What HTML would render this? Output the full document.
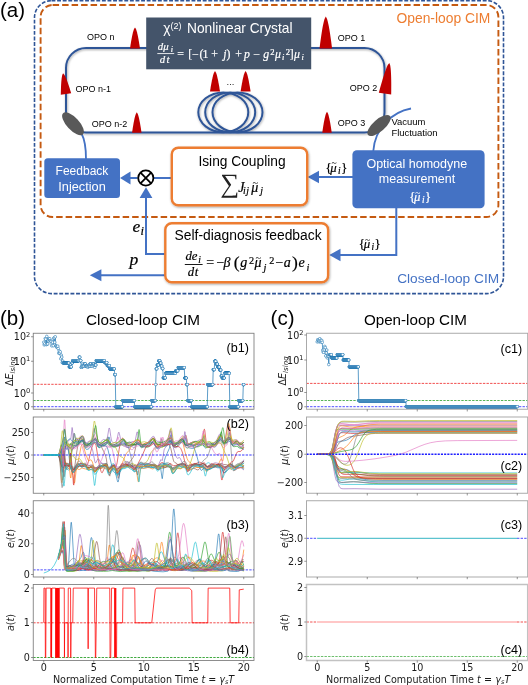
<!DOCTYPE html>
<html><head><meta charset="utf-8"><title>CIM figure</title>
<style>html,body{margin:0;padding:0;background:#fff}svg{display:block}</style></head>
<body>
<svg width="528" height="685" viewBox="0 0 528 685">
<rect width="528" height="685" fill="#fff"/>
<defs>
<filter id="sh" x="-10%" y="-10%" width="120%" height="130%"><feDropShadow dx="0.6" dy="1" stdDeviation="0.8" flood-color="#000" flood-opacity="0.35"/></filter>
<marker id="mk" markerWidth="4" markerHeight="4" refX="2" refY="2" markerUnits="userSpaceOnUse"><circle cx="2" cy="2" r="1.35" fill="#fff" stroke="#1f77b4" stroke-width="0.6"/></marker>
</defs>
<text x="0" y="16.8" font-family='"Liberation Sans", Arial, sans-serif' font-size="20.5">(a)</text>
<rect x="34.5" y="0.6" width="469" height="293" rx="17" fill="none" stroke="#2F5597" stroke-width="1.6" stroke-dasharray="3.9 1.7"/>
<rect x="40.6" y="5" width="457.8" height="212" rx="12" fill="none" stroke="#C55A11" stroke-width="1.9" stroke-dasharray="6.5 3"/>
<text x="396.5" y="22.6" font-family='"Liberation Sans", Arial, sans-serif' font-size="13.85" fill="#ED7D31">Open-loop CIM</text>
<text x="397.2" y="283" font-family='"Liberation Sans", Arial, sans-serif' font-size="13.7" fill="#4472C4">Closed-loop CIM</text>
<g filter="url(#sh)">
<rect x="66" y="48" width="318.5" height="84.5" rx="20" fill="none" stroke="#2F5597" stroke-width="2"/>
<ellipse cx="223.3" cy="112.3" rx="25" ry="19.9" fill="none" stroke="#2F5597" stroke-width="2"/>
<ellipse cx="230.2" cy="112.3" rx="25" ry="19.9" fill="none" stroke="#2F5597" stroke-width="2"/>
<ellipse cx="237.5" cy="112.3" rx="25" ry="19.9" fill="none" stroke="#2F5597" stroke-width="2"/>
</g>
<path d="M81.5 133.5 C85 140 86 148 86 159" fill="none" stroke="#4472C4" stroke-width="1.8"/>
<path d="M411 108.5 C392 112 375 128 373.3 151" fill="none" stroke="#4472C4" stroke-width="1.8"/>
<ellipse cx="73" cy="123.8" rx="14.5" ry="6.2" fill="#595959" transform="rotate(47 73 123.8)"/>
<ellipse cx="379" cy="125.5" rx="14.5" ry="6" fill="#595959" transform="rotate(-41 379 125.5)"/>
<path d="M-5 0 L-4.76 -1.62 L-4.51 -3.23 L-4.25 -4.85 L-3.98 -6.46 L-3.7 -8.08 L-3.41 -9.69 L-3.1 -11.31 L-2.76 -12.92 L-2.41 -14.54 L-2.01 -16.15 L-1.57 -17.77 L-1.02 -19.38 L0 -21 L1.02 -19.38 L1.57 -17.77 L2.01 -16.15 L2.41 -14.54 L2.76 -12.92 L3.1 -11.31 L3.41 -9.69 L3.7 -8.08 L3.98 -6.46 L4.25 -4.85 L4.51 -3.23 L4.76 -1.62 L5 0Z" fill="#C00000" transform="translate(135 48.5) rotate(0)"/>
<path d="M-6.25 0 L-5.95 -2.46 L-5.64 -4.92 L-5.31 -7.38 L-4.98 -9.85 L-4.63 -12.31 L-4.26 -14.77 L-3.87 -17.23 L-3.46 -19.69 L-3.01 -22.15 L-2.52 -24.62 L-1.96 -27.08 L-1.27 -29.54 L0 -32 L1.27 -29.54 L1.96 -27.08 L2.52 -24.62 L3.01 -22.15 L3.46 -19.69 L3.87 -17.23 L4.26 -14.77 L4.63 -12.31 L4.98 -9.85 L5.31 -7.38 L5.64 -4.92 L5.95 -2.46 L6.25 0Z" fill="#C00000" transform="translate(325.8 48.5) rotate(0)"/>
<path d="M-4.75 0 L-4.52 -1.58 L-4.28 -3.15 L-4.04 -4.73 L-3.78 -6.31 L-3.52 -7.88 L-3.24 -9.46 L-2.94 -11.04 L-2.63 -12.62 L-2.29 -14.19 L-1.91 -15.77 L-1.49 -17.35 L-0.97 -18.92 L0 -20.5 L0.97 -18.92 L1.49 -17.35 L1.91 -15.77 L2.29 -14.19 L2.63 -12.62 L2.94 -11.04 L3.24 -9.46 L3.52 -7.88 L3.78 -6.31 L4.04 -4.73 L4.28 -3.15 L4.52 -1.58 L4.75 0Z" fill="#C00000" transform="translate(136.8 132.8) rotate(0)"/>
<path d="M-4.75 0 L-4.52 -1.62 L-4.28 -3.23 L-4.04 -4.85 L-3.78 -6.46 L-3.52 -8.08 L-3.24 -9.69 L-2.94 -11.31 L-2.63 -12.92 L-2.29 -14.54 L-1.91 -16.15 L-1.49 -17.77 L-0.97 -19.38 L0 -21 L0.97 -19.38 L1.49 -17.77 L1.91 -16.15 L2.29 -14.54 L2.63 -12.92 L2.94 -11.31 L3.24 -9.69 L3.52 -8.08 L3.78 -6.46 L4.04 -4.85 L4.28 -3.23 L4.52 -1.62 L4.75 0Z" fill="#C00000" transform="translate(327 132.8) rotate(0)"/>
<path d="M-5 0 L-4.76 -1.58 L-4.51 -3.15 L-4.25 -4.73 L-3.98 -6.31 L-3.7 -7.88 L-3.41 -9.46 L-3.1 -11.04 L-2.76 -12.62 L-2.41 -14.19 L-2.01 -15.77 L-1.57 -17.35 L-1.02 -18.92 L0 -20.5 L1.02 -18.92 L1.57 -17.35 L2.01 -15.77 L2.41 -14.19 L2.76 -12.62 L3.1 -11.04 L3.41 -9.46 L3.7 -7.88 L3.98 -6.31 L4.25 -4.73 L4.51 -3.15 L4.76 -1.58 L5 0Z" fill="#C00000" transform="translate(215 91.6) rotate(0)"/>
<path d="M-5 0 L-4.76 -1.58 L-4.51 -3.15 L-4.25 -4.73 L-3.98 -6.31 L-3.7 -7.88 L-3.41 -9.46 L-3.1 -11.04 L-2.76 -12.62 L-2.41 -14.19 L-2.01 -15.77 L-1.57 -17.35 L-1.02 -18.92 L0 -20.5 L1.02 -18.92 L1.57 -17.35 L2.01 -15.77 L2.41 -14.19 L2.76 -12.62 L3.1 -11.04 L3.41 -9.46 L3.7 -7.88 L3.98 -6.31 L4.25 -4.73 L4.51 -3.15 L4.76 -1.58 L5 0Z" fill="#C00000" transform="translate(245.6 91.6) rotate(0)"/>
<path d="M-5.25 0 L-5 -1.62 L-4.73 -3.23 L-4.46 -4.85 L-4.18 -6.46 L-3.89 -8.08 L-3.58 -9.69 L-3.25 -11.31 L-2.9 -12.92 L-2.53 -14.54 L-2.12 -16.15 L-1.64 -17.77 L-1.07 -19.38 L0 -21 L1.07 -19.38 L1.64 -17.77 L2.12 -16.15 L2.53 -14.54 L2.9 -12.92 L3.25 -11.31 L3.58 -9.69 L3.89 -8.08 L4.18 -6.46 L4.46 -4.85 L4.73 -3.23 L5 -1.62 L5.25 0Z" fill="#C00000" transform="translate(66 94) rotate(-8)"/>
<path d="M-6.25 0 L-5.95 -2.38 L-5.64 -4.77 L-5.31 -7.15 L-4.98 -9.54 L-4.63 -11.92 L-4.26 -14.31 L-3.87 -16.69 L-3.46 -19.08 L-3.01 -21.46 L-2.52 -23.85 L-1.96 -26.23 L-1.27 -28.62 L0 -31 L1.27 -28.62 L1.96 -26.23 L2.52 -23.85 L3.01 -21.46 L3.46 -19.08 L3.87 -16.69 L4.26 -14.31 L4.63 -11.92 L4.98 -9.54 L5.31 -7.15 L5.64 -4.77 L5.95 -2.38 L6.25 0Z" fill="#C00000" transform="translate(385 93.6) rotate(8)"/>
<rect x="146.2" y="17.5" width="165" height="51.8" fill="#44546A"/>
<text x="87" y="39.6" font-family='"Liberation Sans", Arial, sans-serif' font-size="9">OPO n</text>
<text x="75.5" y="91.6" font-family='"Liberation Sans", Arial, sans-serif' font-size="9">OPO n-1</text>
<text x="91.8" y="127" font-family='"Liberation Sans", Arial, sans-serif' font-size="9">OPO n-2</text>
<text x="337.8" y="40.8" font-family='"Liberation Sans", Arial, sans-serif' font-size="9">OPO 1</text>
<text x="349.7" y="90.5" font-family='"Liberation Sans", Arial, sans-serif' font-size="9">OPO 2</text>
<text x="337.8" y="125.7" font-family='"Liberation Sans", Arial, sans-serif' font-size="9">OPO 3</text>
<text x="391.4" y="124.7" font-family='"Liberation Sans", Arial, sans-serif' font-size="9.45">Vacuum</text>
<text x="391.4" y="135.8" font-family='"Liberation Sans", Arial, sans-serif' font-size="9.45">Fluctuation</text>
<text x="226.6" y="84.6" font-family='"Liberation Sans", Arial, sans-serif' font-size="9.5" fill="#222">...</text>
<text x="163.3" y="33" font-family='"Liberation Sans", Arial, sans-serif' font-size="13.75" fill="#fff">χ<tspan font-size="9" dy="-3.6">(2)</tspan><tspan dy="3.6" x="187">Nonlinear Crystal</tspan></text>
<rect x="157.3" y="53.2" width="16.9" height="0.85" fill="#fff"/>
<text font-family='"Liberation Serif", "DejaVu Serif", serif' fill="#fff" stroke="#fff" stroke-width="0.2"><tspan x="157.7" y="49.8" font-size="10.8" font-style="italic">d</tspan><tspan x="163.3" y="49.8" font-size="10.8" font-style="italic">μ</tspan><tspan x="170.7" y="51.6" font-size="8.2" font-style="italic">i</tspan><tspan x="159.8" y="63.2" font-size="10.8" font-style="italic">d</tspan><tspan x="166.6" y="63.2" font-size="10.8" font-style="italic">t</tspan><tspan x="177.2" y="57.8" font-size="11.8">=</tspan><tspan x="188.3" y="57.8" font-size="11.8">[</tspan><tspan x="192" y="57.8" font-size="11.8">−</tspan><tspan x="199.4" y="57.8" font-size="11.8">(</tspan><tspan x="202.6" y="57.8" font-size="11.8">1</tspan><tspan x="211.2" y="57.8" font-size="11.8">+</tspan><tspan x="223.2" y="57.8" font-size="11.8" font-style="italic">j</tspan><tspan x="226.6" y="57.8" font-size="11.8">)</tspan><tspan x="235.3" y="57.8" font-size="11.8">+</tspan><tspan x="244" y="57.8" font-size="11.8" font-style="italic">p</tspan><tspan x="253.2" y="57.8" font-size="11.8">−</tspan><tspan x="263.2" y="57.8" font-size="11.8" font-style="italic">g</tspan><tspan x="270.2" y="55.4" font-size="8.6">2</tspan><tspan x="275" y="57.8" font-size="11.8" font-style="italic">μ</tspan><tspan x="282" y="60" font-size="8.4" font-style="italic">i</tspan><tspan x="285.8" y="55.4" font-size="8.6">2</tspan><tspan x="289.8" y="57.8" font-size="11.8">]</tspan><tspan x="293.9" y="57.8" font-size="11.8" font-style="italic">μ</tspan><tspan x="301.4" y="60" font-size="8.4" font-style="italic">i</tspan></text>
<rect x="44.3" y="158.3" width="75.7" height="39.7" rx="3.5" fill="#4472C4"/>
<text x="82" y="174.6" text-anchor="middle" font-family='"Liberation Sans", Arial, sans-serif' font-size="12.3" fill="#fff" textLength="52.8" lengthAdjust="spacingAndGlyphs">Feedback</text>
<text x="82" y="190.6" text-anchor="middle" font-family='"Liberation Sans", Arial, sans-serif' font-size="12.3" fill="#fff" textLength="47.5" lengthAdjust="spacingAndGlyphs">Injection</text>
<g stroke="#4472C4" stroke-width="2" fill="none">
<path d="M129 178 H137.5"/><path d="M154 178 H171"/>
<path d="M318 177 H353"/>
<path d="M396.3 208 V255 H339"/>
<path d="M165.5 254 H146 V197"/>
<path d="M165.5 275.3 H100"/>
</g>
<g fill="#4472C4">
<path d="M120 178 L130.5 171.6 V184.4 Z"/>
<path d="M307.6 177 L319 170.8 V183.2 Z"/>
<path d="M329.3 255 L340.5 248.8 V261.2 Z"/>
<path d="M146 187.3 L152.4 198 H139.6 Z"/>
<path d="M89.8 275.3 L101.4 269.3 V281.3 Z"/>
</g>
<circle cx="145.8" cy="178" r="7.6" fill="#fff" stroke="#000" stroke-width="1.8"/>
<path d="M140.5 172.7 L151.1 183.3 M151.1 172.7 L140.5 183.3" stroke="#000" stroke-width="1.8"/>
<rect x="171.8" y="147.8" width="135.4" height="57.4" rx="6.5" fill="#fff" stroke="#ED7D31" stroke-width="2.4" filter="url(#sh)"/>
<text x="242" y="165.8" text-anchor="middle" font-family='"Liberation Sans", Arial, sans-serif' font-size="13.75">Ising Coupling</text>
<text x="220.3" y="191.8" font-family='"Liberation Serif", "DejaVu Serif", serif' font-size="26.6" fill="#222">∑</text>
<text font-family='"Liberation Serif", "DejaVu Serif", serif' fill="#000" stroke="#000" stroke-width="0.2"><tspan x="238.3" y="191.5" font-size="14" font-style="italic">J</tspan><tspan x="243" y="194" font-size="9.8" font-style="italic">i</tspan><tspan x="246.3" y="194" font-size="9.8" font-style="italic">j</tspan><tspan x="251.2" y="191.5" font-size="14" font-style="italic">μ</tspan><tspan x="260.2" y="194.2" font-size="9.8" font-style="italic">j</tspan></text>
<text x="252.4" y="185.6" font-family='"Liberation Serif", "DejaVu Serif", serif' font-size="10.5" fill="#000">~</text>
<rect x="352.4" y="150.2" width="132.2" height="58" rx="4.5" fill="#4472C4"/>
<text x="416.8" y="167.7" text-anchor="middle" font-family='"Liberation Sans", Arial, sans-serif' font-size="12.5" fill="#fff">Optical homodyne</text>
<text x="417" y="183.3" text-anchor="middle" font-family='"Liberation Sans", Arial, sans-serif' font-size="12.5" fill="#fff">measurement</text>
<text font-family='"Liberation Serif", "DejaVu Serif", serif' fill="#fff" stroke="#fff" stroke-width="0.2"><tspan x="409.2" y="201.2" font-size="12.8">{</tspan><tspan x="414.09999999999997" y="201.2" font-size="12.8" font-style="italic">μ</tspan><tspan x="421.9" y="203.39999999999998" font-size="9.4" font-style="italic">i</tspan><tspan x="425.0" y="201.2" font-size="12.8">}</tspan></text><text x="415.3" y="195.6" font-family='"Liberation Serif", "DejaVu Serif", serif' font-size="9.6" fill="#fff">~</text>
<text font-family='"Liberation Serif", "DejaVu Serif", serif' fill="#000" stroke="#000" stroke-width="0.2"><tspan x="325.4" y="171.6" font-size="12.8">{</tspan><tspan x="330.29999999999995" y="171.6" font-size="12.8" font-style="italic">μ</tspan><tspan x="338.09999999999997" y="173.79999999999998" font-size="9.4" font-style="italic">i</tspan><tspan x="341.2" y="171.6" font-size="12.8">}</tspan></text><text x="331.5" y="166.0" font-family='"Liberation Serif", "DejaVu Serif", serif' font-size="9.6" fill="#000">~</text>
<text font-family='"Liberation Serif", "DejaVu Serif", serif' fill="#000" stroke="#000" stroke-width="0.2"><tspan x="358.8" y="248.2" font-size="12.8">{</tspan><tspan x="363.7" y="248.2" font-size="12.8" font-style="italic">μ</tspan><tspan x="371.5" y="250.39999999999998" font-size="9.4" font-style="italic">i</tspan><tspan x="374.6" y="248.2" font-size="12.8">}</tspan></text><text x="364.90000000000003" y="242.6" font-family='"Liberation Serif", "DejaVu Serif", serif' font-size="9.6" fill="#000">~</text>
<rect x="165.3" y="223.2" width="162.8" height="59" rx="6.5" fill="#fff" stroke="#ED7D31" stroke-width="2.4" filter="url(#sh)"/>
<text x="174.6" y="240.4" font-family='"Liberation Sans", Arial, sans-serif' font-size="13.85">Self-diagnosis feedback</text>
<rect x="184.8" y="264" width="17.8" height="0.9"/>
<text font-family='"Liberation Serif", "DejaVu Serif", serif' fill="#000" stroke="#000" stroke-width="0.2"><tspan x="185.6" y="260.4" font-size="12.8" font-style="italic">d</tspan><tspan x="191.8" y="260.4" font-size="12.8" font-style="italic">e</tspan><tspan x="198.2" y="262.8" font-size="9.6" font-style="italic">i</tspan><tspan x="187.8" y="276.4" font-size="12.8" font-style="italic">d</tspan><tspan x="194.8" y="276.4" font-size="12.8" font-style="italic">t</tspan><tspan x="206.2" y="267.4" font-size="14">=</tspan><tspan x="216.6" y="267.4" font-size="14">−</tspan><tspan x="223.6" y="267.4" font-size="14" font-style="italic">β</tspan><tspan x="233.8" y="268.4" font-size="17.5">(</tspan><tspan x="240.3" y="267.4" font-size="14" font-style="italic">g</tspan><tspan x="249.1" y="263.8" font-size="10.2">2</tspan><tspan x="254.4" y="267.4" font-size="14" font-style="italic">μ</tspan><tspan x="263.6" y="271.2" font-size="10.4" font-style="italic">j</tspan><tspan x="269.3" y="263.8" font-size="10.2">2</tspan><tspan x="275.6" y="267.4" font-size="14">−</tspan><tspan x="283.8" y="267.4" font-size="14" font-style="italic">a</tspan><tspan x="292" y="268.4" font-size="17.5">)</tspan><tspan x="298.6" y="267.4" font-size="14" font-style="italic">e</tspan><tspan x="306.4" y="270.8" font-size="10.4" font-style="italic">i</tspan></text>
<text x="255.6" y="261.4" font-family='"Liberation Serif", "DejaVu Serif", serif' font-size="10.5" fill="#000">~</text>
<text font-family='"Liberation Serif", "DejaVu Serif", serif' fill="#000" stroke="#000" stroke-width="0.2"><tspan x="132.4" y="232" font-size="17.5" font-style="italic">e</tspan><tspan x="140.6" y="235" font-size="12.5" font-style="italic">i</tspan><tspan x="129.4" y="265.2" font-size="17.5" font-style="italic">p</tspan></text>
<g font-family='"Liberation Sans", Arial, sans-serif' fill="#000">
<text x="0" y="324.6" font-size="20.5">(b)</text>
<text x="270.6" y="324.6" font-size="20.5">(c)</text>
<text x="143" y="325" font-size="15.3" text-anchor="middle">Closed-loop CIM</text>
<text x="415.4" y="325" font-size="15.2" text-anchor="middle">Open-loop CIM</text>
</g>
<g font-family='"DejaVu Sans", "Liberation Sans", sans-serif' font-size="9.6" fill="#1a1a1a">
<text x="30.35" y="340.35" text-anchor="end">10<tspan font-size="6.7" dy="-3.8">2</tspan></text>
<text x="30.35" y="364.85" text-anchor="end">10<tspan font-size="6.7" dy="-3.8">1</tspan></text>
<text x="30.35" y="396.6" text-anchor="end">10<tspan font-size="6.7" dy="-3.8">0</tspan></text>
<text x="29.95" y="410.4" text-anchor="end">0</text>
<text x="29.95" y="436" text-anchor="end">250</text>
<text x="29.95" y="458.5" text-anchor="end">0</text>
<text x="29.95" y="481" text-anchor="end">−250</text>
<text x="29.95" y="516.5" text-anchor="end">40</text>
<text x="29.95" y="547.25" text-anchor="end">20</text>
<text x="29.95" y="578" text-anchor="end">0</text>
<text x="29.95" y="591.5" text-anchor="end">2</text>
<text x="29.95" y="626.1" text-anchor="end">1</text>
<text x="29.95" y="661" text-anchor="end">0</text>
<text x="303.6" y="338.6" text-anchor="end">10<tspan font-size="6.7" dy="-3.8">2</tspan></text>
<text x="303.6" y="363.6" text-anchor="end">10<tspan font-size="6.7" dy="-3.8">1</tspan></text>
<text x="303.6" y="396.1" text-anchor="end">10<tspan font-size="6.7" dy="-3.8">0</tspan></text>
<text x="303.2" y="410.4" text-anchor="end">0</text>
<text x="303.2" y="429" text-anchor="end">200</text>
<text x="303.2" y="457.75" text-anchor="end">0</text>
<text x="303.2" y="486" text-anchor="end">−200</text>
<text x="303.2" y="519" text-anchor="end">3.1</text>
<text x="303.2" y="541.8" text-anchor="end">3.0</text>
<text x="303.2" y="564.75" text-anchor="end">2.9</text>
<text x="303.2" y="591" text-anchor="end">2</text>
<text x="303.2" y="625.5" text-anchor="end">1</text>
<text x="303.2" y="660" text-anchor="end">0</text>
<text x="43.75" y="671" text-anchor="middle">0</text>
<text x="317.25" y="671" text-anchor="middle">0</text>
<text x="93.75" y="671" text-anchor="middle">5</text>
<text x="367.25" y="671" text-anchor="middle">5</text>
<text x="143.75" y="671" text-anchor="middle">10</text>
<text x="417.25" y="671" text-anchor="middle">10</text>
<text x="193.75" y="671" text-anchor="middle">15</text>
<text x="467.25" y="671" text-anchor="middle">15</text>
<text x="243.75" y="671" text-anchor="middle">20</text>
<text x="517.25" y="671" text-anchor="middle">20</text>
<text x="52.9" y="682.6" font-size="9.6" textLength="181.3" lengthAdjust="spacing">Normalized Computation Time <tspan font-style="italic">t</tspan> = <tspan font-style="italic">γ</tspan><tspan font-style="italic" font-size="6.5" dy="1.6">s</tspan><tspan font-style="italic" dy="-1.6">T</tspan></text>
<text x="325.9" y="682.6" font-size="9.6" textLength="184.4" lengthAdjust="spacing">Normalized Computation Time <tspan font-style="italic">t</tspan> = <tspan font-style="italic">γ</tspan><tspan font-style="italic" font-size="6.5" dy="1.6">s</tspan><tspan font-style="italic" dy="-1.6">T</tspan></text>
<text transform="translate(13 371.5) rotate(-90)" text-anchor="middle" font-size="9.6">Δ<tspan font-style="italic">E</tspan><tspan font-style="italic" font-size="7" dy="1.6">Ising</tspan><tspan dy="-1.6" font-size="1">&#8203;</tspan></text>
<text transform="translate(13.5 455) rotate(-90)" text-anchor="middle" font-size="9.6"><tspan font-style="italic">μ</tspan><tspan font-style="italic" font-size="7" dy="1.6">i</tspan><tspan dy="-1.6" font-size="1">&#8203;</tspan>(<tspan font-style="italic">t</tspan>)</text>
<text transform="translate(13.5 538.5) rotate(-90)" text-anchor="middle" font-size="9.6"><tspan font-style="italic">e</tspan><tspan font-style="italic" font-size="7" dy="1.6">i</tspan><tspan dy="-1.6" font-size="1">&#8203;</tspan>(<tspan font-style="italic">t</tspan>)</text>
<text transform="translate(13.5 622.5) rotate(-90)" text-anchor="middle" font-size="9.6"><tspan font-style="italic">a</tspan>(<tspan font-style="italic">t</tspan>)</text>
<text transform="translate(286 371) rotate(-90)" text-anchor="middle" font-size="9.6">Δ<tspan font-style="italic">E</tspan><tspan font-style="italic" font-size="7" dy="1.6">Ising</tspan><tspan dy="-1.6" font-size="1">&#8203;</tspan></text>
<text transform="translate(287.5 455) rotate(-90)" text-anchor="middle" font-size="9.6"><tspan font-style="italic">μ</tspan><tspan font-style="italic" font-size="7" dy="1.6">i</tspan><tspan dy="-1.6" font-size="1">&#8203;</tspan>(<tspan font-style="italic">t</tspan>)</text>
<text transform="translate(287.5 538.5) rotate(-90)" text-anchor="middle" font-size="9.6"><tspan font-style="italic">e</tspan><tspan font-style="italic" font-size="7" dy="1.6">i</tspan><tspan dy="-1.6" font-size="1">&#8203;</tspan>(<tspan font-style="italic">t</tspan>)</text>
<text transform="translate(287.5 622.5) rotate(-90)" text-anchor="middle" font-size="9.6"><tspan font-style="italic">a</tspan>(<tspan font-style="italic">t</tspan>)</text>
</g>
<defs>
<clipPath id="cb0"><rect x="33.25" y="333.25" width="220.75" height="76"/></clipPath>
<clipPath id="cc0"><rect x="306.5" y="333.25" width="221.2" height="76"/></clipPath>
<clipPath id="cb1"><rect x="33.25" y="417" width="220.75" height="76.25"/></clipPath>
<clipPath id="cc1"><rect x="306.5" y="417" width="221.2" height="76.25"/></clipPath>
<clipPath id="cb2"><rect x="33.25" y="500.75" width="220.75" height="76.25"/></clipPath>
<clipPath id="cc2"><rect x="306.5" y="500.75" width="221.2" height="76.25"/></clipPath>
<clipPath id="cb3"><rect x="33.25" y="584.5" width="220.75" height="76"/></clipPath>
<clipPath id="cc3"><rect x="306.5" y="584.5" width="221.2" height="76"/></clipPath>
</defs>
<rect x="33.25" y="333.25" width="220.75" height="76" fill="#fff"/>
<g clip-path="url(#cb0)">
<path d="M33.25 384.3H254" stroke="#ee2222" stroke-width="0.8" stroke-dasharray="2.4 1.2" fill="none"/>
<path d="M33.25 400.5H254" stroke="#2ca02c" stroke-width="0.8" stroke-dasharray="2.4 1.2" fill="none"/>
<path d="M33.25 406.7H254" stroke="#1f1fff" stroke-width="0.8" stroke-dasharray="2.4 1.2" fill="none"/>
<polyline points="43.8,342.3 44.2,344.8 44.8,343.7 45.2,338.5 45.8,339.2 46.2,344.6 46.8,336.4 47.2,344.1 47.8,343.9 48.2,340.8 48.8,339.2 49.8,338.8 50.2,340.6 50.8,341.1 51.2,341.6 51.8,345.8 52.2,343.9 52.8,342.2 53.2,345.7 53.8,338.4 54.2,337.9 54.8,342.2 55.2,336.8 55.8,345.9 56.2,346.2 56.8,347.3 57.2,346.7 57.8,346.2 58.2,348.6 58.8,353.2 59.2,350.9 59.8,353.2 60.2,351.8 60.8,358.7 61.2,355.2 61.8,357.1 62.2,362.5 62.8,361.1 63.2,363 68.8,363 69.2,366.8 71.2,366.8 71.8,363 72.2,363 72.8,360.6 78.8,360.6 79.2,357.2 79.8,357.2 80.2,360.6 80.8,360.6 81.2,367.4 81.8,367.4 82.2,366.2 82.8,366.2 83.2,363.8 83.8,366.2 84.8,363.8 85.2,363.8 85.8,366.2 87.2,366.2 87.8,367.4 88.8,365 89.2,366.2 89.8,366.2 90.2,363.8 90.8,363.8 91.2,366.2 91.8,365 92.2,366.2 93.2,363.8 93.8,363.8 94.2,365 94.8,367.4 95.2,365 95.8,365 96.2,360.6 104.2,360.6 104.8,362.5 106.8,362.5 107.2,365.5 109.2,365.5 109.8,368.8 114.2,368.8 114.8,374.5 115.2,374.5 115.8,406.8 122.2,406.8 122.8,400.5 134.2,400.5 134.8,406.8 151.2,406.8 151.8,400.5 155.2,400.5 156.2,368.8 156.8,368.8 157.2,365 158.2,365 158.8,360.8 159.8,360.8 160.2,363 160.8,363 161.2,366 161.8,366 162.2,368.5 162.8,368.5 163.2,377.8 165.2,377.8 165.8,373.3 175.2,373.3 175.8,370.8 177.8,370.8 178.2,367.5 184.2,367.5 184.8,378 186.2,378 186.8,384.5 187.2,384.5 187.8,400.5 191.2,400.5 191.8,406.8 207.2,406.8 207.8,384.5 212.8,384.5 213.2,369.5 214.2,369.5 214.8,361.3 215.8,361.3 216.2,364 217.2,364 217.8,367 219.2,367 219.8,370 220.8,370 221.2,376 221.8,376 222.2,378 224.2,378 224.8,373.3 229.2,373.3 229.8,406.8 238.3,406.8 238.8,400.5 242.8,400.5 243.3,384.5 243.8,384.5" fill="none" stroke="#1f77b4" stroke-opacity="0.8" stroke-width="0.9"/>
<polyline points="43.75,342.28 44.25,344.83 44.75,343.69 45.25,338.52 45.75,339.22 46.25,344.61 46.75,336.45 47.25,344.12 47.75,343.89 48.25,340.8 48.75,339.25 49.25,339.02 49.75,338.8 50.25,340.58 50.75,341.14 51.25,341.6 51.75,345.76 52.25,343.85 52.75,342.25 53.25,345.7 53.75,338.42 54.25,337.91 54.75,342.16 55.25,336.81 55.75,345.9 56.25,346.24 56.75,347.26 57.25,346.66 57.75,346.15 58.25,348.56 58.75,353.2 59.25,350.9 59.75,353.23 60.25,351.81 60.75,358.74 61.25,355.15 61.75,357.09 62.25,362.52 62.75,361.07 63.25,363 63.38,363 63.5,363 63.62,363 63.75,363 63.88,363 64,363 64.12,363 64.25,363 64.38,363 64.5,363 64.62,363 64.75,363 64.88,363 65,363 65.12,363 65.25,363 65.38,363 65.5,363 65.62,363 65.75,363 65.88,363 66,363 66.12,363 66.25,363 66.38,363 66.5,363 66.62,363 66.75,363 66.88,363 67,363 67.12,363 67.25,363 67.38,363 67.5,363 67.62,363 67.75,363 67.88,363 68,363 68.12,363 68.25,363 68.38,363 68.5,363 68.62,363 68.75,363 69.25,366.8 69.38,366.8 69.5,366.8 69.62,366.8 69.75,366.8 69.88,366.8 70,366.8 70.12,366.8 70.25,366.8 70.38,366.8 70.5,366.8 70.62,366.8 70.75,366.8 70.88,366.8 71,366.8 71.12,366.8 71.25,366.8 71.75,363 71.88,363 72,363 72.12,363 72.25,363 72.75,360.6 72.88,360.6 73,360.6 73.12,360.6 73.25,360.6 73.38,360.6 73.5,360.6 73.62,360.6 73.75,360.6 73.88,360.6 74,360.6 74.12,360.6 74.25,360.6 74.38,360.6 74.5,360.6 74.62,360.6 74.75,360.6 74.88,360.6 75,360.6 75.12,360.6 75.25,360.6 75.38,360.6 75.5,360.6 75.62,360.6 75.75,360.6 75.88,360.6 76,360.6 76.12,360.6 76.25,360.6 76.38,360.6 76.5,360.6 76.62,360.6 76.75,360.6 76.88,360.6 77,360.6 77.12,360.6 77.25,360.6 77.38,360.6 77.5,360.6 77.62,360.6 77.75,360.6 77.88,360.6 78,360.6 78.12,360.6 78.25,360.6 78.38,360.6 78.5,360.6 78.62,360.6 78.75,360.6 79.25,357.2 79.38,357.2 79.5,357.2 79.62,357.2 79.75,357.2 80.25,360.6 80.38,360.6 80.5,360.6 80.62,360.6 80.75,360.6 81.25,367.4 81.38,367.4 81.5,367.4 81.62,367.4 81.75,367.4 82.25,366.2 82.38,366.2 82.5,366.2 82.62,366.2 82.75,366.2 83.25,363.8 83.75,366.2 84.25,365 84.75,363.8 84.88,363.8 85,363.8 85.12,363.8 85.25,363.8 85.75,366.2 85.88,366.2 86,366.2 86.12,366.2 86.25,366.2 86.38,366.2 86.5,366.2 86.62,366.2 86.75,366.2 86.88,366.2 87,366.2 87.12,366.2 87.25,366.2 87.75,367.4 88.25,366.2 88.75,365 89.25,366.2 89.38,366.2 89.5,366.2 89.62,366.2 89.75,366.2 90.25,363.8 90.38,363.8 90.5,363.8 90.62,363.8 90.75,363.8 91.25,366.2 91.75,365 92.25,366.2 92.75,365 93.25,363.8 93.38,363.8 93.5,363.8 93.62,363.8 93.75,363.8 94.25,365 94.75,367.4 95.25,365 95.38,365 95.5,365 95.62,365 95.75,365 96.25,360.6 96.38,360.6 96.5,360.6 96.62,360.6 96.75,360.6 96.88,360.6 97,360.6 97.12,360.6 97.25,360.6 97.38,360.6 97.5,360.6 97.62,360.6 97.75,360.6 97.88,360.6 98,360.6 98.12,360.6 98.25,360.6 98.38,360.6 98.5,360.6 98.62,360.6 98.75,360.6 98.88,360.6 99,360.6 99.12,360.6 99.25,360.6 99.38,360.6 99.5,360.6 99.62,360.6 99.75,360.6 99.88,360.6 100,360.6 100.12,360.6 100.25,360.6 100.38,360.6 100.5,360.6 100.62,360.6 100.75,360.6 100.88,360.6 101,360.6 101.12,360.6 101.25,360.6 101.38,360.6 101.5,360.6 101.62,360.6 101.75,360.6 101.88,360.6 102,360.6 102.12,360.6 102.25,360.6 102.38,360.6 102.5,360.6 102.62,360.6 102.75,360.6 102.88,360.6 103,360.6 103.12,360.6 103.25,360.6 103.38,360.6 103.5,360.6 103.62,360.6 103.75,360.6 103.88,360.6 104,360.6 104.12,360.6 104.25,360.6 104.75,362.5 104.88,362.5 105,362.5 105.12,362.5 105.25,362.5 105.38,362.5 105.5,362.5 105.62,362.5 105.75,362.5 105.88,362.5 106,362.5 106.12,362.5 106.25,362.5 106.38,362.5 106.5,362.5 106.62,362.5 106.75,362.5 107.25,365.5 107.38,365.5 107.5,365.5 107.62,365.5 107.75,365.5 107.88,365.5 108,365.5 108.12,365.5 108.25,365.5 108.38,365.5 108.5,365.5 108.62,365.5 108.75,365.5 108.88,365.5 109,365.5 109.12,365.5 109.25,365.5 109.75,368.8 109.88,368.8 110,368.8 110.12,368.8 110.25,368.8 110.38,368.8 110.5,368.8 110.62,368.8 110.75,368.8 110.88,368.8 111,368.8 111.12,368.8 111.25,368.8 111.38,368.8 111.5,368.8 111.62,368.8 111.75,368.8 111.88,368.8 112,368.8 112.12,368.8 112.25,368.8 112.38,368.8 112.5,368.8 112.62,368.8 112.75,368.8 112.88,368.8 113,368.8 113.12,368.8 113.25,368.8 113.38,368.8 113.5,368.8 113.62,368.8 113.75,368.8 113.88,368.8 114,368.8 114.12,368.8 114.25,368.8 114.75,374.5 114.88,374.5 115,374.5 115.12,374.5 115.25,374.5 115.75,406.75 115.88,406.75 116,406.75 116.12,406.75 116.25,406.75 116.38,406.75 116.5,406.75 116.62,406.75 116.75,406.75 116.88,406.75 117,406.75 117.12,406.75 117.25,406.75 117.38,406.75 117.5,406.75 117.62,406.75 117.75,406.75 117.88,406.75 118,406.75 118.12,406.75 118.25,406.75 118.38,406.75 118.5,406.75 118.62,406.75 118.75,406.75 118.88,406.75 119,406.75 119.12,406.75 119.25,406.75 119.38,406.75 119.5,406.75 119.62,406.75 119.75,406.75 119.88,406.75 120,406.75 120.12,406.75 120.25,406.75 120.38,406.75 120.5,406.75 120.62,406.75 120.75,406.75 120.88,406.75 121,406.75 121.12,406.75 121.25,406.75 121.38,406.75 121.5,406.75 121.62,406.75 121.75,406.75 121.88,406.75 122,406.75 122.12,406.75 122.25,406.75 122.75,400.5 122.88,400.5 123,400.5 123.12,400.5 123.25,400.5 123.38,400.5 123.5,400.5 123.62,400.5 123.75,400.5 123.88,400.5 124,400.5 124.12,400.5 124.25,400.5 124.38,400.5 124.5,400.5 124.62,400.5 124.75,400.5 124.88,400.5 125,400.5 125.12,400.5 125.25,400.5 125.38,400.5 125.5,400.5 125.63,400.5 125.75,400.5 125.88,400.5 126,400.5 126.12,400.5 126.25,400.5 126.38,400.5 126.5,400.5 126.62,400.5 126.75,400.5 126.88,400.5 127,400.5 127.12,400.5 127.25,400.5 127.38,400.5 127.5,400.5 127.62,400.5 127.75,400.5 127.88,400.5 128,400.5 128.12,400.5 128.25,400.5 128.38,400.5 128.5,400.5 128.62,400.5 128.75,400.5 128.88,400.5 129,400.5 129.12,400.5 129.25,400.5 129.38,400.5 129.5,400.5 129.62,400.5 129.75,400.5 129.88,400.5 130,400.5 130.12,400.5 130.25,400.5 130.38,400.5 130.5,400.5 130.62,400.5 130.75,400.5 130.88,400.5 131,400.5 131.12,400.5 131.25,400.5 131.38,400.5 131.5,400.5 131.62,400.5 131.75,400.5 131.88,400.5 132,400.5 132.12,400.5 132.25,400.5 132.38,400.5 132.5,400.5 132.62,400.5 132.75,400.5 132.88,400.5 133,400.5 133.12,400.5 133.25,400.5 133.38,400.5 133.5,400.5 133.62,400.5 133.75,400.5 133.88,400.5 134,400.5 134.12,400.5 134.25,400.5 134.75,406.75 134.88,406.75 135,406.75 135.12,406.75 135.25,406.75 135.38,406.75 135.5,406.75 135.62,406.75 135.75,406.75 135.88,406.75 136,406.75 136.12,406.75 136.25,406.75 136.38,406.75 136.5,406.75 136.62,406.75 136.75,406.75 136.88,406.75 137,406.75 137.12,406.75 137.25,406.75 137.38,406.75 137.5,406.75 137.62,406.75 137.75,406.75 137.88,406.75 138,406.75 138.12,406.75 138.25,406.75 138.38,406.75 138.5,406.75 138.62,406.75 138.75,406.75 138.88,406.75 139,406.75 139.12,406.75 139.25,406.75 139.38,406.75 139.5,406.75 139.62,406.75 139.75,406.75 139.88,406.75 140,406.75 140.12,406.75 140.25,406.75 140.38,406.75 140.5,406.75 140.62,406.75 140.75,406.75 140.88,406.75 141,406.75 141.12,406.75 141.25,406.75 141.38,406.75 141.5,406.75 141.62,406.75 141.75,406.75 141.88,406.75 142,406.75 142.12,406.75 142.25,406.75 142.38,406.75 142.5,406.75 142.62,406.75 142.75,406.75 142.88,406.75 143,406.75 143.12,406.75 143.25,406.75 143.38,406.75 143.5,406.75 143.62,406.75 143.75,406.75 143.88,406.75 144,406.75 144.12,406.75 144.25,406.75 144.38,406.75 144.5,406.75 144.62,406.75 144.75,406.75 144.88,406.75 145,406.75 145.12,406.75 145.25,406.75 145.38,406.75 145.5,406.75 145.62,406.75 145.75,406.75 145.88,406.75 146,406.75 146.12,406.75 146.25,406.75 146.38,406.75 146.5,406.75 146.62,406.75 146.75,406.75 146.88,406.75 147,406.75 147.12,406.75 147.25,406.75 147.38,406.75 147.5,406.75 147.62,406.75 147.75,406.75 147.88,406.75 148,406.75 148.12,406.75 148.25,406.75 148.38,406.75 148.5,406.75 148.62,406.75 148.75,406.75 148.88,406.75 149,406.75 149.12,406.75 149.25,406.75 149.38,406.75 149.5,406.75 149.62,406.75 149.75,406.75 149.88,406.75 150,406.75 150.12,406.75 150.25,406.75 150.38,406.75 150.5,406.75 150.62,406.75 150.75,406.75 150.88,406.75 151,406.75 151.12,406.75 151.25,406.75 151.75,400.5 151.88,400.5 152,400.5 152.12,400.5 152.25,400.5 152.38,400.5 152.5,400.5 152.62,400.5 152.75,400.5 152.88,400.5 153,400.5 153.12,400.5 153.25,400.5 153.38,400.5 153.5,400.5 153.62,400.5 153.75,400.5 153.88,400.5 154,400.5 154.12,400.5 154.25,400.5 154.38,400.5 154.5,400.5 154.62,400.5 154.75,400.5 154.88,400.5 155,400.5 155.12,400.5 155.25,400.5 155.75,384.5 156.25,368.8 156.38,368.8 156.5,368.8 156.62,368.8 156.75,368.8 157.25,365 157.38,365 157.5,365 157.62,365 157.75,365 157.88,365 158,365 158.12,365 158.25,365 158.75,360.8 158.88,360.8 159,360.8 159.12,360.8 159.25,360.8 159.38,360.8 159.5,360.8 159.62,360.8 159.75,360.8 160.25,363 160.38,363 160.5,363 160.62,363 160.75,363 161.25,366 161.38,366 161.5,366 161.62,366 161.75,366 162.25,368.5 162.38,368.5 162.5,368.5 162.62,368.5 162.75,368.5 163.25,377.8 163.38,377.8 163.5,377.8 163.62,377.8 163.75,377.8 163.88,377.8 164,377.8 164.12,377.8 164.25,377.8 164.38,377.8 164.5,377.8 164.62,377.8 164.75,377.8 164.88,377.8 165,377.8 165.12,377.8 165.25,377.8 165.75,373.3 165.88,373.3 166,373.3 166.12,373.3 166.25,373.3 166.38,373.3 166.5,373.3 166.62,373.3 166.75,373.3 166.88,373.3 167,373.3 167.12,373.3 167.25,373.3 167.38,373.3 167.5,373.3 167.62,373.3 167.75,373.3 167.88,373.3 168,373.3 168.12,373.3 168.25,373.3 168.38,373.3 168.5,373.3 168.62,373.3 168.75,373.3 168.88,373.3 169,373.3 169.12,373.3 169.25,373.3 169.38,373.3 169.5,373.3 169.62,373.3 169.75,373.3 169.88,373.3 170,373.3 170.12,373.3 170.25,373.3 170.38,373.3 170.5,373.3 170.62,373.3 170.75,373.3 170.88,373.3 171,373.3 171.12,373.3 171.25,373.3 171.38,373.3 171.5,373.3 171.62,373.3 171.75,373.3 171.88,373.3 172,373.3 172.12,373.3 172.25,373.3 172.38,373.3 172.5,373.3 172.62,373.3 172.75,373.3 172.88,373.3 173,373.3 173.12,373.3 173.25,373.3 173.38,373.3 173.5,373.3 173.62,373.3 173.75,373.3 173.88,373.3 174,373.3 174.12,373.3 174.25,373.3 174.38,373.3 174.5,373.3 174.62,373.3 174.75,373.3 174.88,373.3 175,373.3 175.12,373.3 175.25,373.3 175.75,370.8 175.88,370.8 176,370.8 176.12,370.8 176.25,370.8 176.38,370.8 176.5,370.8 176.62,370.8 176.75,370.8 176.88,370.8 177,370.8 177.12,370.8 177.25,370.8 177.38,370.8 177.5,370.8 177.62,370.8 177.75,370.8 178.25,367.5 178.38,367.5 178.5,367.5 178.62,367.5 178.75,367.5 178.88,367.5 179,367.5 179.12,367.5 179.25,367.5 179.38,367.5 179.5,367.5 179.62,367.5 179.75,367.5 179.88,367.5 180,367.5 180.12,367.5 180.25,367.5 180.38,367.5 180.5,367.5 180.62,367.5 180.75,367.5 180.88,367.5 181,367.5 181.12,367.5 181.25,367.5 181.38,367.5 181.5,367.5 181.62,367.5 181.75,367.5 181.88,367.5 182,367.5 182.12,367.5 182.25,367.5 182.38,367.5 182.5,367.5 182.62,367.5 182.75,367.5 182.88,367.5 183,367.5 183.12,367.5 183.25,367.5 183.38,367.5 183.5,367.5 183.62,367.5 183.75,367.5 183.88,367.5 184,367.5 184.12,367.5 184.25,367.5 184.75,378 184.88,378 185,378 185.12,378 185.25,378 185.38,378 185.5,378 185.62,378 185.75,378 185.88,378 186,378 186.12,378 186.25,378 186.75,384.5 186.88,384.5 187,384.5 187.12,384.5 187.25,384.5 187.75,400.5 187.88,400.5 188,400.5 188.12,400.5 188.25,400.5 188.38,400.5 188.5,400.5 188.62,400.5 188.75,400.5 188.88,400.5 189,400.5 189.12,400.5 189.25,400.5 189.38,400.5 189.5,400.5 189.62,400.5 189.75,400.5 189.88,400.5 190,400.5 190.12,400.5 190.25,400.5 190.38,400.5 190.5,400.5 190.62,400.5 190.75,400.5 190.88,400.5 191,400.5 191.12,400.5 191.25,400.5 191.75,406.75 191.88,406.75 192,406.75 192.12,406.75 192.25,406.75 192.38,406.75 192.5,406.75 192.62,406.75 192.75,406.75 192.88,406.75 193,406.75 193.12,406.75 193.25,406.75 193.38,406.75 193.5,406.75 193.62,406.75 193.75,406.75 193.88,406.75 194,406.75 194.12,406.75 194.25,406.75 194.38,406.75 194.5,406.75 194.62,406.75 194.75,406.75 194.88,406.75 195,406.75 195.12,406.75 195.25,406.75 195.38,406.75 195.5,406.75 195.62,406.75 195.75,406.75 195.88,406.75 196,406.75 196.12,406.75 196.25,406.75 196.38,406.75 196.5,406.75 196.62,406.75 196.75,406.75 196.88,406.75 197,406.75 197.12,406.75 197.25,406.75 197.38,406.75 197.5,406.75 197.62,406.75 197.75,406.75 197.88,406.75 198,406.75 198.12,406.75 198.25,406.75 198.38,406.75 198.5,406.75 198.62,406.75 198.75,406.75 198.88,406.75 199,406.75 199.12,406.75 199.25,406.75 199.38,406.75 199.5,406.75 199.62,406.75 199.75,406.75 199.88,406.75 200,406.75 200.12,406.75 200.25,406.75 200.38,406.75 200.5,406.75 200.62,406.75 200.75,406.75 200.88,406.75 201,406.75 201.12,406.75 201.25,406.75 201.38,406.75 201.5,406.75 201.62,406.75 201.75,406.75 201.88,406.75 202,406.75 202.12,406.75 202.25,406.75 202.38,406.75 202.5,406.75 202.62,406.75 202.75,406.75 202.88,406.75 203,406.75 203.12,406.75 203.25,406.75 203.38,406.75 203.5,406.75 203.62,406.75 203.75,406.75 203.88,406.75 204,406.75 204.12,406.75 204.25,406.75 204.38,406.75 204.5,406.75 204.62,406.75 204.75,406.75 204.88,406.75 205,406.75 205.13,406.75 205.25,406.75 205.38,406.75 205.5,406.75 205.62,406.75 205.75,406.75 205.88,406.75 206,406.75 206.12,406.75 206.25,406.75 206.38,406.75 206.5,406.75 206.62,406.75 206.75,406.75 206.88,406.75 207,406.75 207.12,406.75 207.25,406.75 207.75,384.5 207.88,384.5 208,384.5 208.12,384.5 208.25,384.5 208.38,384.5 208.5,384.5 208.62,384.5 208.75,384.5 208.88,384.5 209,384.5 209.12,384.5 209.25,384.5 209.38,384.5 209.5,384.5 209.62,384.5 209.75,384.5 209.88,384.5 210,384.5 210.13,384.5 210.25,384.5 210.38,384.5 210.5,384.5 210.62,384.5 210.75,384.5 210.88,384.5 211,384.5 211.12,384.5 211.25,384.5 211.38,384.5 211.5,384.5 211.62,384.5 211.75,384.5 211.88,384.5 212,384.5 212.12,384.5 212.25,384.5 212.38,384.5 212.5,384.5 212.63,384.5 212.75,384.5 213.25,369.5 213.38,369.5 213.5,369.5 213.62,369.5 213.75,369.5 213.88,369.5 214,369.5 214.12,369.5 214.25,369.5 214.75,361.3 214.88,361.3 215,361.3 215.13,361.3 215.25,361.3 215.38,361.3 215.5,361.3 215.62,361.3 215.75,361.3 216.25,364 216.38,364 216.5,364 216.62,364 216.75,364 216.88,364 217,364 217.12,364 217.25,364 217.75,367 217.88,367 218,367 218.12,367 218.25,367 218.38,367 218.5,367 218.62,367 218.75,367 218.88,367 219,367 219.12,367 219.25,367 219.75,370 219.88,370 220,370 220.13,370 220.25,370 220.38,370 220.5,370 220.62,370 220.75,370 221.25,376 221.38,376 221.5,376 221.62,376 221.75,376 222.25,378 222.38,378 222.5,378 222.63,378 222.75,378 222.88,378 223,378 223.12,378 223.25,378 223.38,378 223.5,378 223.62,378 223.75,378 223.88,378 224,378 224.12,378 224.25,378 224.75,373.3 224.88,373.3 225,373.3 225.13,373.3 225.25,373.3 225.38,373.3 225.5,373.3 225.62,373.3 225.75,373.3 225.88,373.3 226,373.3 226.12,373.3 226.25,373.3 226.38,373.3 226.5,373.3 226.62,373.3 226.75,373.3 226.88,373.3 227,373.3 227.12,373.3 227.25,373.3 227.38,373.3 227.5,373.3 227.63,373.3 227.75,373.3 227.88,373.3 228,373.3 228.12,373.3 228.25,373.3 228.38,373.3 228.5,373.3 228.62,373.3 228.75,373.3 228.88,373.3 229,373.3 229.12,373.3 229.25,373.3 229.75,406.75 229.88,406.75 230,406.75 230.13,406.75 230.25,406.75 230.38,406.75 230.5,406.75 230.62,406.75 230.75,406.75 230.88,406.75 231,406.75 231.12,406.75 231.25,406.75 231.38,406.75 231.5,406.75 231.62,406.75 231.75,406.75 231.88,406.75 232,406.75 232.12,406.75 232.25,406.75 232.38,406.75 232.5,406.75 232.63,406.75 232.75,406.75 232.88,406.75 233,406.75 233.12,406.75 233.25,406.75 233.38,406.75 233.5,406.75 233.62,406.75 233.75,406.75 233.88,406.75 234,406.75 234.12,406.75 234.25,406.75 234.38,406.75 234.5,406.75 234.62,406.75 234.75,406.75 234.88,406.75 235,406.75 235.13,406.75 235.25,406.75 235.38,406.75 235.5,406.75 235.63,406.75 235.75,406.75 235.88,406.75 236,406.75 236.12,406.75 236.25,406.75 236.38,406.75 236.5,406.75 236.62,406.75 236.75,406.75 236.88,406.75 237,406.75 237.12,406.75 237.25,406.75 237.38,406.75 237.5,406.75 237.63,406.75 237.75,406.75 237.88,406.75 238,406.75 238.13,406.75 238.25,406.75 238.75,400.5 238.88,400.5 239,400.5 239.12,400.5 239.25,400.5 239.38,400.5 239.5,400.5 239.62,400.5 239.75,400.5 239.88,400.5 240,400.5 240.13,400.5 240.25,400.5 240.38,400.5 240.5,400.5 240.63,400.5 240.75,400.5 240.88,400.5 241,400.5 241.12,400.5 241.25,400.5 241.38,400.5 241.5,400.5 241.62,400.5 241.75,400.5 241.88,400.5 242,400.5 242.12,400.5 242.25,400.5 242.38,400.5 242.5,400.5 242.63,400.5 242.75,400.5 243.25,384.5 243.38,384.5 243.5,384.5 243.62,384.5 243.75,384.5" fill="none" stroke="none" marker-start="url(#mk)" marker-mid="url(#mk)" marker-end="url(#mk)"/>
</g>
<rect x="306.5" y="333.25" width="221.2" height="76" fill="#fff"/>
<g clip-path="url(#cc0)">
<path d="M306.5 383.4H527.7" stroke="#ee2222" stroke-width="0.8" stroke-dasharray="2.4 1.2" fill="none"/>
<path d="M306.5 400.5H527.7" stroke="#2ca02c" stroke-width="0.8" stroke-dasharray="2.4 1.2" fill="none"/>
<path d="M306.5 406.7H527.7" stroke="#1f1fff" stroke-width="0.8" stroke-dasharray="2.4 1.2" fill="none"/>
<polyline points="317.2,341.9 317.8,339.7 318.2,340.3 318.8,341.1 319.2,341.9 319.8,338.7 320.2,341.3 320.8,340.4 321.2,342.1 321.8,340.5 322.2,342.3 322.8,350.3 323.2,352 323.8,352.4 324.2,349.9 324.8,346.5 325.2,347.7 325.8,355.9 326.8,350 327.2,357.8 327.8,356.2 328.2,356.3 328.8,364.5 329.2,356.3 329.8,354.6 331.2,354.6 331.8,358 336.8,358 337.2,354.6 342.8,354.6 343.2,360 348.8,360 349.2,366.8 358.2,366.8 358.8,400.5 405.8,400.5 406.2,406.5 517.2,406.5" fill="none" stroke="#1f77b4" stroke-opacity="0.8" stroke-width="0.9"/>
<polyline points="317.25,341.85 317.75,339.66 318.25,340.3 318.75,341.07 319.25,341.87 319.75,338.72 320.25,341.28 320.75,340.41 321.25,342.08 321.75,340.48 322.25,342.32 322.75,350.25 323.25,352.05 323.75,352.44 324.25,349.9 324.75,346.45 325.25,347.72 325.75,355.88 326.25,352.92 326.75,350.01 327.25,357.84 327.75,356.22 328.25,356.3 328.75,364.5 329.25,356.31 329.75,354.6 329.88,354.6 330,354.6 330.12,354.6 330.25,354.6 330.38,354.6 330.5,354.6 330.62,354.6 330.75,354.6 330.88,354.6 331,354.6 331.12,354.6 331.25,354.6 331.75,358 331.88,358 332,358 332.12,358 332.25,358 332.38,358 332.5,358 332.62,358 332.75,358 332.88,358 333,358 333.12,358 333.25,358 333.38,358 333.5,358 333.62,358 333.75,358 333.88,358 334,358 334.12,358 334.25,358 334.38,358 334.5,358 334.62,358 334.75,358 334.88,358 335,358 335.12,358 335.25,358 335.38,358 335.5,358 335.62,358 335.75,358 335.88,358 336,358 336.12,358 336.25,358 336.38,358 336.5,358 336.62,358 336.75,358 337.25,354.6 337.38,354.6 337.5,354.6 337.62,354.6 337.75,354.6 337.88,354.6 338,354.6 338.12,354.6 338.25,354.6 338.38,354.6 338.5,354.6 338.62,354.6 338.75,354.6 338.88,354.6 339,354.6 339.12,354.6 339.25,354.6 339.38,354.6 339.5,354.6 339.62,354.6 339.75,354.6 339.88,354.6 340,354.6 340.12,354.6 340.25,354.6 340.38,354.6 340.5,354.6 340.62,354.6 340.75,354.6 340.88,354.6 341,354.6 341.12,354.6 341.25,354.6 341.38,354.6 341.5,354.6 341.62,354.6 341.75,354.6 341.88,354.6 342,354.6 342.12,354.6 342.25,354.6 342.38,354.6 342.5,354.6 342.62,354.6 342.75,354.6 343.25,360 343.38,360 343.5,360 343.62,360 343.75,360 343.88,360 344,360 344.12,360 344.25,360 344.38,360 344.5,360 344.62,360 344.75,360 344.88,360 345,360 345.12,360 345.25,360 345.38,360 345.5,360 345.62,360 345.75,360 345.88,360 346,360 346.12,360 346.25,360 346.38,360 346.5,360 346.62,360 346.75,360 346.88,360 347,360 347.12,360 347.25,360 347.38,360 347.5,360 347.62,360 347.75,360 347.88,360 348,360 348.12,360 348.25,360 348.38,360 348.5,360 348.62,360 348.75,360 349.25,366.8 349.38,366.8 349.5,366.8 349.62,366.8 349.75,366.8 349.88,366.8 350,366.8 350.12,366.8 350.25,366.8 350.38,366.8 350.5,366.8 350.62,366.8 350.75,366.8 350.88,366.8 351,366.8 351.12,366.8 351.25,366.8 351.38,366.8 351.5,366.8 351.62,366.8 351.75,366.8 351.88,366.8 352,366.8 352.12,366.8 352.25,366.8 352.38,366.8 352.5,366.8 352.62,366.8 352.75,366.8 352.88,366.8 353,366.8 353.12,366.8 353.25,366.8 353.38,366.8 353.5,366.8 353.62,366.8 353.75,366.8 353.88,366.8 354,366.8 354.12,366.8 354.25,366.8 354.38,366.8 354.5,366.8 354.62,366.8 354.75,366.8 354.88,366.8 355,366.8 355.12,366.8 355.25,366.8 355.38,366.8 355.5,366.8 355.62,366.8 355.75,366.8 355.88,366.8 356,366.8 356.12,366.8 356.25,366.8 356.38,366.8 356.5,366.8 356.62,366.8 356.75,366.8 356.88,366.8 357,366.8 357.12,366.8 357.25,366.8 357.38,366.8 357.5,366.8 357.62,366.8 357.75,366.8 357.88,366.8 358,366.8 358.12,366.8 358.25,366.8 358.75,400.5 358.88,400.5 359,400.5 359.12,400.5 359.25,400.5 359.38,400.5 359.5,400.5 359.62,400.5 359.75,400.5 359.88,400.5 360,400.5 360.12,400.5 360.25,400.5 360.38,400.5 360.5,400.5 360.62,400.5 360.75,400.5 360.88,400.5 361,400.5 361.12,400.5 361.25,400.5 361.38,400.5 361.5,400.5 361.62,400.5 361.75,400.5 361.88,400.5 362,400.5 362.12,400.5 362.25,400.5 362.38,400.5 362.5,400.5 362.62,400.5 362.75,400.5 362.88,400.5 363,400.5 363.12,400.5 363.25,400.5 363.38,400.5 363.5,400.5 363.62,400.5 363.75,400.5 363.88,400.5 364,400.5 364.12,400.5 364.25,400.5 364.38,400.5 364.5,400.5 364.62,400.5 364.75,400.5 364.88,400.5 365,400.5 365.12,400.5 365.25,400.5 365.38,400.5 365.5,400.5 365.62,400.5 365.75,400.5 365.88,400.5 366,400.5 366.12,400.5 366.25,400.5 366.38,400.5 366.5,400.5 366.62,400.5 366.75,400.5 366.88,400.5 367,400.5 367.12,400.5 367.25,400.5 367.38,400.5 367.5,400.5 367.62,400.5 367.75,400.5 367.88,400.5 368,400.5 368.12,400.5 368.25,400.5 368.38,400.5 368.5,400.5 368.62,400.5 368.75,400.5 368.88,400.5 369,400.5 369.12,400.5 369.25,400.5 369.38,400.5 369.5,400.5 369.62,400.5 369.75,400.5 369.88,400.5 370,400.5 370.12,400.5 370.25,400.5 370.38,400.5 370.5,400.5 370.62,400.5 370.75,400.5 370.88,400.5 371,400.5 371.12,400.5 371.25,400.5 371.38,400.5 371.5,400.5 371.62,400.5 371.75,400.5 371.88,400.5 372,400.5 372.12,400.5 372.25,400.5 372.38,400.5 372.5,400.5 372.62,400.5 372.75,400.5 372.88,400.5 373,400.5 373.12,400.5 373.25,400.5 373.38,400.5 373.5,400.5 373.62,400.5 373.75,400.5 373.88,400.5 374,400.5 374.12,400.5 374.25,400.5 374.38,400.5 374.5,400.5 374.62,400.5 374.75,400.5 374.88,400.5 375,400.5 375.12,400.5 375.25,400.5 375.38,400.5 375.5,400.5 375.62,400.5 375.75,400.5 375.88,400.5 376,400.5 376.12,400.5 376.25,400.5 376.38,400.5 376.5,400.5 376.62,400.5 376.75,400.5 376.88,400.5 377,400.5 377.12,400.5 377.25,400.5 377.38,400.5 377.5,400.5 377.62,400.5 377.75,400.5 377.88,400.5 378,400.5 378.12,400.5 378.25,400.5 378.38,400.5 378.5,400.5 378.62,400.5 378.75,400.5 378.88,400.5 379,400.5 379.12,400.5 379.25,400.5 379.38,400.5 379.5,400.5 379.62,400.5 379.75,400.5 379.88,400.5 380,400.5 380.12,400.5 380.25,400.5 380.38,400.5 380.5,400.5 380.62,400.5 380.75,400.5 380.88,400.5 381,400.5 381.12,400.5 381.25,400.5 381.38,400.5 381.5,400.5 381.62,400.5 381.75,400.5 381.88,400.5 382,400.5 382.12,400.5 382.25,400.5 382.38,400.5 382.5,400.5 382.62,400.5 382.75,400.5 382.88,400.5 383,400.5 383.12,400.5 383.25,400.5 383.38,400.5 383.5,400.5 383.62,400.5 383.75,400.5 383.88,400.5 384,400.5 384.12,400.5 384.25,400.5 384.38,400.5 384.5,400.5 384.62,400.5 384.75,400.5 384.88,400.5 385,400.5 385.12,400.5 385.25,400.5 385.38,400.5 385.5,400.5 385.62,400.5 385.75,400.5 385.88,400.5 386,400.5 386.12,400.5 386.25,400.5 386.38,400.5 386.5,400.5 386.62,400.5 386.75,400.5 386.88,400.5 387,400.5 387.12,400.5 387.25,400.5 387.38,400.5 387.5,400.5 387.62,400.5 387.75,400.5 387.88,400.5 388,400.5 388.12,400.5 388.25,400.5 388.38,400.5 388.5,400.5 388.62,400.5 388.75,400.5 388.88,400.5 389,400.5 389.12,400.5 389.25,400.5 389.38,400.5 389.5,400.5 389.62,400.5 389.75,400.5 389.88,400.5 390,400.5 390.12,400.5 390.25,400.5 390.38,400.5 390.5,400.5 390.62,400.5 390.75,400.5 390.88,400.5 391,400.5 391.12,400.5 391.25,400.5 391.38,400.5 391.5,400.5 391.62,400.5 391.75,400.5 391.88,400.5 392,400.5 392.12,400.5 392.25,400.5 392.38,400.5 392.5,400.5 392.62,400.5 392.75,400.5 392.88,400.5 393,400.5 393.12,400.5 393.25,400.5 393.38,400.5 393.5,400.5 393.62,400.5 393.75,400.5 393.88,400.5 394,400.5 394.12,400.5 394.25,400.5 394.38,400.5 394.5,400.5 394.62,400.5 394.75,400.5 394.88,400.5 395,400.5 395.12,400.5 395.25,400.5 395.38,400.5 395.5,400.5 395.62,400.5 395.75,400.5 395.88,400.5 396,400.5 396.12,400.5 396.25,400.5 396.38,400.5 396.5,400.5 396.62,400.5 396.75,400.5 396.88,400.5 397,400.5 397.12,400.5 397.25,400.5 397.38,400.5 397.5,400.5 397.62,400.5 397.75,400.5 397.88,400.5 398,400.5 398.12,400.5 398.25,400.5 398.38,400.5 398.5,400.5 398.62,400.5 398.75,400.5 398.88,400.5 399,400.5 399.12,400.5 399.25,400.5 399.38,400.5 399.5,400.5 399.62,400.5 399.75,400.5 399.88,400.5 400,400.5 400.12,400.5 400.25,400.5 400.38,400.5 400.5,400.5 400.62,400.5 400.75,400.5 400.88,400.5 401,400.5 401.12,400.5 401.25,400.5 401.38,400.5 401.5,400.5 401.62,400.5 401.75,400.5 401.88,400.5 402,400.5 402.12,400.5 402.25,400.5 402.38,400.5 402.5,400.5 402.62,400.5 402.75,400.5 402.88,400.5 403,400.5 403.12,400.5 403.25,400.5 403.38,400.5 403.5,400.5 403.62,400.5 403.75,400.5 403.88,400.5 404,400.5 404.12,400.5 404.25,400.5 404.38,400.5 404.5,400.5 404.62,400.5 404.75,400.5 404.88,400.5 405,400.5 405.12,400.5 405.25,400.5 405.38,400.5 405.5,400.5 405.62,400.5 405.75,400.5 406.25,406.5 406.38,406.5 406.5,406.5 406.62,406.5 406.75,406.5 406.88,406.5 407,406.5 407.12,406.5 407.25,406.5 407.38,406.5 407.5,406.5 407.62,406.5 407.75,406.5 407.88,406.5 408,406.5 408.12,406.5 408.25,406.5 408.38,406.5 408.5,406.5 408.62,406.5 408.75,406.5 408.88,406.5 409,406.5 409.12,406.5 409.25,406.5 409.38,406.5 409.5,406.5 409.62,406.5 409.75,406.5 409.88,406.5 410,406.5 410.12,406.5 410.25,406.5 410.38,406.5 410.5,406.5 410.62,406.5 410.75,406.5 410.88,406.5 411,406.5 411.12,406.5 411.25,406.5 411.38,406.5 411.5,406.5 411.62,406.5 411.75,406.5 411.88,406.5 412,406.5 412.12,406.5 412.25,406.5 412.38,406.5 412.5,406.5 412.62,406.5 412.75,406.5 412.88,406.5 413,406.5 413.12,406.5 413.25,406.5 413.38,406.5 413.5,406.5 413.62,406.5 413.75,406.5 413.88,406.5 414,406.5 414.12,406.5 414.25,406.5 414.38,406.5 414.5,406.5 414.62,406.5 414.75,406.5 414.88,406.5 415,406.5 415.12,406.5 415.25,406.5 415.38,406.5 415.5,406.5 415.62,406.5 415.75,406.5 415.88,406.5 416,406.5 416.12,406.5 416.25,406.5 416.38,406.5 416.5,406.5 416.62,406.5 416.75,406.5 416.88,406.5 417,406.5 417.12,406.5 417.25,406.5 417.38,406.5 417.5,406.5 417.62,406.5 417.75,406.5 417.88,406.5 418,406.5 418.12,406.5 418.25,406.5 418.38,406.5 418.5,406.5 418.62,406.5 418.75,406.5 418.88,406.5 419,406.5 419.12,406.5 419.25,406.5 419.38,406.5 419.5,406.5 419.62,406.5 419.75,406.5 419.88,406.5 420,406.5 420.12,406.5 420.25,406.5 420.38,406.5 420.5,406.5 420.62,406.5 420.75,406.5 420.88,406.5 421,406.5 421.12,406.5 421.25,406.5 421.38,406.5 421.5,406.5 421.62,406.5 421.75,406.5 421.88,406.5 422,406.5 422.12,406.5 422.25,406.5 422.38,406.5 422.5,406.5 422.62,406.5 422.75,406.5 422.88,406.5 423,406.5 423.12,406.5 423.25,406.5 423.38,406.5 423.5,406.5 423.62,406.5 423.75,406.5 423.88,406.5 424,406.5 424.12,406.5 424.25,406.5 424.38,406.5 424.5,406.5 424.62,406.5 424.75,406.5 424.88,406.5 425,406.5 425.12,406.5 425.25,406.5 425.38,406.5 425.5,406.5 425.62,406.5 425.75,406.5 425.88,406.5 426,406.5 426.12,406.5 426.25,406.5 426.38,406.5 426.5,406.5 426.62,406.5 426.75,406.5 426.88,406.5 427,406.5 427.12,406.5 427.25,406.5 427.38,406.5 427.5,406.5 427.62,406.5 427.75,406.5 427.88,406.5 428,406.5 428.12,406.5 428.25,406.5 428.38,406.5 428.5,406.5 428.62,406.5 428.75,406.5 428.88,406.5 429,406.5 429.12,406.5 429.25,406.5 429.38,406.5 429.5,406.5 429.62,406.5 429.75,406.5 429.88,406.5 430,406.5 430.12,406.5 430.25,406.5 430.38,406.5 430.5,406.5 430.62,406.5 430.75,406.5 430.88,406.5 431,406.5 431.12,406.5 431.25,406.5 431.38,406.5 431.5,406.5 431.62,406.5 431.75,406.5 431.88,406.5 432,406.5 432.12,406.5 432.25,406.5 432.38,406.5 432.5,406.5 432.62,406.5 432.75,406.5 432.88,406.5 433,406.5 433.12,406.5 433.25,406.5 433.38,406.5 433.5,406.5 433.62,406.5 433.75,406.5 433.88,406.5 434,406.5 434.12,406.5 434.25,406.5 434.38,406.5 434.5,406.5 434.62,406.5 434.75,406.5 434.88,406.5 435,406.5 435.12,406.5 435.25,406.5 435.38,406.5 435.5,406.5 435.62,406.5 435.75,406.5 435.88,406.5 436,406.5 436.12,406.5 436.25,406.5 436.38,406.5 436.5,406.5 436.62,406.5 436.75,406.5 436.88,406.5 437,406.5 437.12,406.5 437.25,406.5 437.38,406.5 437.5,406.5 437.62,406.5 437.75,406.5 437.88,406.5 438,406.5 438.12,406.5 438.25,406.5 438.38,406.5 438.5,406.5 438.62,406.5 438.75,406.5 438.88,406.5 439,406.5 439.12,406.5 439.25,406.5 439.38,406.5 439.5,406.5 439.62,406.5 439.75,406.5 439.88,406.5 440,406.5 440.12,406.5 440.25,406.5 440.38,406.5 440.5,406.5 440.62,406.5 440.75,406.5 440.88,406.5 441,406.5 441.12,406.5 441.25,406.5 441.38,406.5 441.5,406.5 441.62,406.5 441.75,406.5 441.88,406.5 442,406.5 442.12,406.5 442.25,406.5 442.38,406.5 442.5,406.5 442.62,406.5 442.75,406.5 442.88,406.5 443,406.5 443.12,406.5 443.25,406.5 443.38,406.5 443.5,406.5 443.62,406.5 443.75,406.5 443.88,406.5 444,406.5 444.12,406.5 444.25,406.5 444.38,406.5 444.5,406.5 444.62,406.5 444.75,406.5 444.88,406.5 445,406.5 445.12,406.5 445.25,406.5 445.38,406.5 445.5,406.5 445.62,406.5 445.75,406.5 445.88,406.5 446,406.5 446.12,406.5 446.25,406.5 446.38,406.5 446.5,406.5 446.62,406.5 446.75,406.5 446.88,406.5 447,406.5 447.12,406.5 447.25,406.5 447.38,406.5 447.5,406.5 447.62,406.5 447.75,406.5 447.88,406.5 448,406.5 448.12,406.5 448.25,406.5 448.38,406.5 448.5,406.5 448.62,406.5 448.75,406.5 448.88,406.5 449,406.5 449.12,406.5 449.25,406.5 449.38,406.5 449.5,406.5 449.62,406.5 449.75,406.5 449.88,406.5 450,406.5 450.12,406.5 450.25,406.5 450.38,406.5 450.5,406.5 450.62,406.5 450.75,406.5 450.88,406.5 451,406.5 451.12,406.5 451.25,406.5 451.38,406.5 451.5,406.5 451.62,406.5 451.75,406.5 451.88,406.5 452,406.5 452.12,406.5 452.25,406.5 452.38,406.5 452.5,406.5 452.62,406.5 452.75,406.5 452.88,406.5 453,406.5 453.12,406.5 453.25,406.5 453.38,406.5 453.5,406.5 453.62,406.5 453.75,406.5 453.88,406.5 454,406.5 454.12,406.5 454.25,406.5 454.38,406.5 454.5,406.5 454.62,406.5 454.75,406.5 454.88,406.5 455,406.5 455.12,406.5 455.25,406.5 455.38,406.5 455.5,406.5 455.62,406.5 455.75,406.5 455.88,406.5 456,406.5 456.12,406.5 456.25,406.5 456.38,406.5 456.5,406.5 456.62,406.5 456.75,406.5 456.88,406.5 457,406.5 457.12,406.5 457.25,406.5 457.38,406.5 457.5,406.5 457.62,406.5 457.75,406.5 457.88,406.5 458,406.5 458.12,406.5 458.25,406.5 458.38,406.5 458.5,406.5 458.62,406.5 458.75,406.5 458.88,406.5 459,406.5 459.12,406.5 459.25,406.5 459.38,406.5 459.5,406.5 459.62,406.5 459.75,406.5 459.88,406.5 460,406.5 460.12,406.5 460.25,406.5 460.38,406.5 460.5,406.5 460.62,406.5 460.75,406.5 460.88,406.5 461,406.5 461.12,406.5 461.25,406.5 461.38,406.5 461.5,406.5 461.62,406.5 461.75,406.5 461.88,406.5 462,406.5 462.12,406.5 462.25,406.5 462.38,406.5 462.5,406.5 462.62,406.5 462.75,406.5 462.88,406.5 463,406.5 463.12,406.5 463.25,406.5 463.38,406.5 463.5,406.5 463.62,406.5 463.75,406.5 463.88,406.5 464,406.5 464.12,406.5 464.25,406.5 464.38,406.5 464.5,406.5 464.62,406.5 464.75,406.5 464.88,406.5 465,406.5 465.12,406.5 465.25,406.5 465.38,406.5 465.5,406.5 465.62,406.5 465.75,406.5 465.88,406.5 466,406.5 466.12,406.5 466.25,406.5 466.38,406.5 466.5,406.5 466.62,406.5 466.75,406.5 466.88,406.5 467,406.5 467.12,406.5 467.25,406.5 467.38,406.5 467.5,406.5 467.62,406.5 467.75,406.5 467.88,406.5 468,406.5 468.12,406.5 468.25,406.5 468.38,406.5 468.5,406.5 468.62,406.5 468.75,406.5 468.88,406.5 469,406.5 469.12,406.5 469.25,406.5 469.38,406.5 469.5,406.5 469.62,406.5 469.75,406.5 469.88,406.5 470,406.5 470.12,406.5 470.25,406.5 470.38,406.5 470.5,406.5 470.62,406.5 470.75,406.5 470.88,406.5 471,406.5 471.12,406.5 471.25,406.5 471.38,406.5 471.5,406.5 471.62,406.5 471.75,406.5 471.88,406.5 472,406.5 472.12,406.5 472.25,406.5 472.38,406.5 472.5,406.5 472.62,406.5 472.75,406.5 472.88,406.5 473,406.5 473.12,406.5 473.25,406.5 473.38,406.5 473.5,406.5 473.62,406.5 473.75,406.5 473.88,406.5 474,406.5 474.12,406.5 474.25,406.5 474.38,406.5 474.5,406.5 474.62,406.5 474.75,406.5 474.88,406.5 475,406.5 475.12,406.5 475.25,406.5 475.38,406.5 475.5,406.5 475.62,406.5 475.75,406.5 475.88,406.5 476,406.5 476.12,406.5 476.25,406.5 476.38,406.5 476.5,406.5 476.62,406.5 476.75,406.5 476.88,406.5 477,406.5 477.12,406.5 477.25,406.5 477.38,406.5 477.5,406.5 477.62,406.5 477.75,406.5 477.88,406.5 478,406.5 478.12,406.5 478.25,406.5 478.38,406.5 478.5,406.5 478.62,406.5 478.75,406.5 478.88,406.5 479,406.5 479.12,406.5 479.25,406.5 479.38,406.5 479.5,406.5 479.62,406.5 479.75,406.5 479.88,406.5 480,406.5 480.12,406.5 480.25,406.5 480.38,406.5 480.5,406.5 480.62,406.5 480.75,406.5 480.88,406.5 481,406.5 481.12,406.5 481.25,406.5 481.38,406.5 481.5,406.5 481.62,406.5 481.75,406.5 481.88,406.5 482,406.5 482.12,406.5 482.25,406.5 482.38,406.5 482.5,406.5 482.62,406.5 482.75,406.5 482.88,406.5 483,406.5 483.12,406.5 483.25,406.5 483.38,406.5 483.5,406.5 483.62,406.5 483.75,406.5 483.88,406.5 484,406.5 484.12,406.5 484.25,406.5 484.38,406.5 484.5,406.5 484.62,406.5 484.75,406.5 484.88,406.5 485,406.5 485.12,406.5 485.25,406.5 485.38,406.5 485.5,406.5 485.62,406.5 485.75,406.5 485.88,406.5 486,406.5 486.12,406.5 486.25,406.5 486.38,406.5 486.5,406.5 486.62,406.5 486.75,406.5 486.88,406.5 487,406.5 487.12,406.5 487.25,406.5 487.38,406.5 487.5,406.5 487.62,406.5 487.75,406.5 487.88,406.5 488,406.5 488.12,406.5 488.25,406.5 488.38,406.5 488.5,406.5 488.62,406.5 488.75,406.5 488.88,406.5 489,406.5 489.12,406.5 489.25,406.5 489.38,406.5 489.5,406.5 489.62,406.5 489.75,406.5 489.88,406.5 490,406.5 490.12,406.5 490.25,406.5 490.38,406.5 490.5,406.5 490.62,406.5 490.75,406.5 490.88,406.5 491,406.5 491.12,406.5 491.25,406.5 491.38,406.5 491.5,406.5 491.62,406.5 491.75,406.5 491.88,406.5 492,406.5 492.12,406.5 492.25,406.5 492.38,406.5 492.5,406.5 492.62,406.5 492.75,406.5 492.88,406.5 493,406.5 493.12,406.5 493.25,406.5 493.38,406.5 493.5,406.5 493.62,406.5 493.75,406.5 493.88,406.5 494,406.5 494.12,406.5 494.25,406.5 494.38,406.5 494.5,406.5 494.62,406.5 494.75,406.5 494.88,406.5 495,406.5 495.12,406.5 495.25,406.5 495.38,406.5 495.5,406.5 495.62,406.5 495.75,406.5 495.88,406.5 496,406.5 496.12,406.5 496.25,406.5 496.38,406.5 496.5,406.5 496.62,406.5 496.75,406.5 496.88,406.5 497,406.5 497.12,406.5 497.25,406.5 497.38,406.5 497.5,406.5 497.62,406.5 497.75,406.5 497.88,406.5 498,406.5 498.12,406.5 498.25,406.5 498.38,406.5 498.5,406.5 498.62,406.5 498.75,406.5 498.88,406.5 499,406.5 499.12,406.5 499.25,406.5 499.38,406.5 499.5,406.5 499.62,406.5 499.75,406.5 499.88,406.5 500,406.5 500.12,406.5 500.25,406.5 500.38,406.5 500.5,406.5 500.62,406.5 500.75,406.5 500.88,406.5 501,406.5 501.12,406.5 501.25,406.5 501.38,406.5 501.5,406.5 501.62,406.5 501.75,406.5 501.88,406.5 502,406.5 502.12,406.5 502.25,406.5 502.38,406.5 502.5,406.5 502.62,406.5 502.75,406.5 502.88,406.5 503,406.5 503.12,406.5 503.25,406.5 503.38,406.5 503.5,406.5 503.62,406.5 503.75,406.5 503.88,406.5 504,406.5 504.12,406.5 504.25,406.5 504.38,406.5 504.5,406.5 504.62,406.5 504.75,406.5 504.88,406.5 505,406.5 505.12,406.5 505.25,406.5 505.38,406.5 505.5,406.5 505.62,406.5 505.75,406.5 505.88,406.5 506,406.5 506.12,406.5 506.25,406.5 506.38,406.5 506.5,406.5 506.62,406.5 506.75,406.5 506.88,406.5 507,406.5 507.12,406.5 507.25,406.5 507.38,406.5 507.5,406.5 507.62,406.5 507.75,406.5 507.88,406.5 508,406.5 508.12,406.5 508.25,406.5 508.38,406.5 508.5,406.5 508.62,406.5 508.75,406.5 508.88,406.5 509,406.5 509.12,406.5 509.25,406.5 509.38,406.5 509.5,406.5 509.62,406.5 509.75,406.5 509.88,406.5 510,406.5 510.12,406.5 510.25,406.5 510.38,406.5 510.5,406.5 510.62,406.5 510.75,406.5 510.88,406.5 511,406.5 511.12,406.5 511.25,406.5 511.38,406.5 511.5,406.5 511.62,406.5 511.75,406.5 511.88,406.5 512,406.5 512.12,406.5 512.25,406.5 512.38,406.5 512.5,406.5 512.62,406.5 512.75,406.5 512.88,406.5 513,406.5 513.12,406.5 513.25,406.5 513.38,406.5 513.5,406.5 513.62,406.5 513.75,406.5 513.88,406.5 514,406.5 514.12,406.5 514.25,406.5 514.38,406.5 514.5,406.5 514.62,406.5 514.75,406.5 514.88,406.5 515,406.5 515.12,406.5 515.25,406.5 515.38,406.5 515.5,406.5 515.62,406.5 515.75,406.5 515.88,406.5 516,406.5 516.12,406.5 516.25,406.5 516.38,406.5 516.5,406.5 516.62,406.5 516.75,406.5 516.88,406.5 517,406.5 517.12,406.5 517.25,406.5" fill="none" stroke="none" marker-start="url(#mk)" marker-mid="url(#mk)" marker-end="url(#mk)"/>
</g>
<rect x="33.25" y="417" width="220.75" height="76.25" fill="#fff"/>
<g clip-path="url(#cb1)" fill="none" stroke-width="0.65" stroke-linejoin="round">
<polyline points="43.8,455 56.8,455 58.1,454.7 58.8,454.2 59.4,453 60.8,449.1 62.1,446.6 62.4,445.5 63.1,441 64.1,431.5 64.4,430 64.8,430.4 65.1,432.6 66.4,444.7 66.8,446.1 68.1,448.4 68.4,449.8 69.8,463.4 70.1,464.4 70.4,462.8 71.4,452.2 72.1,449.2 72.4,448.7 76.1,446.3 77.8,444.4 79.8,441.4 80.4,440.7 81.1,440.4 81.8,440.6 82.8,441.4 83.4,442.9 85.1,448.2 85.8,449 86.8,449.4 88.1,449.1 89.1,448.5 93.1,443.1 94.1,442.4 95.1,442.4 95.8,442.6 96.1,442.9 97.4,446.1 97.8,446.7 98.4,447.1 100.4,445.5 105.4,443 107.8,442.2 108.4,442.4 109.8,443.8 110.4,444.2 113.8,444.5 117.4,445.7 118.8,445.5 121.8,443.4 123.1,443.1 124.1,443.3 126.1,444.9 128.1,444.9 130.4,445.5 133.1,444.7 134.1,444.6 135.8,444.8 138.8,444 139.4,444.3 140.4,445.4 141.4,446.1 145.4,446.9 146.8,446.6 148.4,445.8 151.4,443.3 152.8,442.9 153.8,443.2 154.1,443.5 155.8,447.2 156.4,448.2 157.1,448.6 158.1,448.8 159.1,448.5 161.4,447 162.4,446.6 165.4,446.2 166.8,445.9 168.4,444.7 169.1,443.8 169.4,442.8 170.8,434.8 171.1,435.1 172.1,442.8 172.8,445.9 173.4,446.9 174.4,447.2 176.4,447.1 177.8,446.5 180.8,443.1 182.8,441.5 183.8,440.2 185.1,435.8 185.4,435.2 185.8,435.5 186.1,436.6 187.8,445.7 188.4,447.2 189.4,447.9 192.1,448.4 194.1,448.1 197.1,446.7 200.8,444.2 201.8,443.9 202.4,444.2 203.1,444.7 204.4,447.1 205.4,448 206.1,447.9 208.4,446.6 211.1,446.1 212.1,446.1 214.1,447 214.8,447 215.8,446.5 216.4,445.7 219.8,439.1 220.4,438.3 220.8,438 221.1,438 221.8,439.1 222.8,441.7 223.8,443 224.8,443.1 226.1,442.7 228.8,440.2 229.8,439.7 230.1,439.9 230.4,440.4 231.4,443.1 232.1,444.3 232.4,444.5 233.1,444.2 234.4,442.6 235.1,442.1 236.1,442.2 237.1,443.2 238.4,445.8 239.1,446.8 239.8,447.2 241.8,448.1 243.8,449.7" stroke="#1f77b4"/>
<polyline points="43.8,455 57.8,455.1 59.1,455.6 60.4,457.2 60.8,457.3 62.1,455.3 62.4,455.8 62.8,457.2 64.1,465 64.8,466.5 65.4,466.9 66.8,466.5 69.1,464.4 70.1,464 70.4,464.3 71.1,465.4 72.4,468.8 72.8,469.1 75.4,469.8 76.4,469.4 79.1,465.9 79.8,465.7 81.1,466.1 81.8,466 83.8,464.6 84.4,464.3 85.1,464.5 85.8,465.3 87.4,469.1 88.1,469.6 89.1,469.3 91.4,466.1 92.1,465.7 92.4,465.8 93.1,466.8 94.4,470.4 94.8,470.7 95.1,470.7 96.1,470 98.8,467.4 101.1,466.3 103.1,464.4 104.4,463.8 105.4,464.1 106.4,465.2 108.1,469.2 108.4,469.6 108.8,469.4 110.8,466.3 111.8,465.2 112.8,464.8 113.8,465.1 114.4,465.6 114.8,466.2 116.1,470 116.4,470.6 116.8,470.8 118.1,469.5 121.1,465.5 122.1,464.7 122.8,464.4 123.8,464.6 125.4,465.5 126.4,465.7 127.1,465.5 129.4,464.4 130.4,464.6 131.1,464.9 131.8,465.6 133.4,468.7 133.8,469.1 134.4,469.2 135.4,468.7 137.4,466.3 138.4,465.8 139.1,466 140.8,467.2 141.8,467.5 142.8,467.1 144.4,465.9 145.1,465.8 145.8,465.8 147.8,466.7 148.4,466.8 149.4,466.4 151.1,465.2 152.1,464.8 155.4,465.4 157.4,466.9 159.4,466.3 162.8,466.6 165.8,465.6 166.8,465.6 168.4,466.3 170.1,467.9 170.8,469 172.1,472.6 172.4,473.2 172.8,473.3 173.4,473 174.4,472 177.8,465.9 178.4,465 179.4,464.4 180.4,464.6 183.1,466 185.4,466.4 186.1,467.1 187.1,469 187.4,469.5 187.8,469.6 188.8,469 191.8,466.2 195.8,464.1 196.8,464.1 199.1,464.9 200.8,464.7 201.8,464.8 202.4,465.1 203.4,466 204.4,467.3 206.1,470.3 206.8,470.6 207.4,470.3 208.1,469.6 210.1,466.9 211.8,465 213.1,464.1 214.1,463.8 215.4,464 217.4,465.3 218.8,465.9 221.4,466.3 222.1,467 223.4,469.2 224.1,468.8 227.8,465.2 229.1,464.6 230.4,464.6 231.4,464.9 233.4,467.1 235.4,467.2 236.8,466.8 239.1,464.6 239.8,464.1 240.4,464 241.1,464.3 241.8,464.8 243.8,467.2" stroke="#ff7f0e"/>
<polyline points="43.8,455 56.1,455 58.1,454.7 58.8,454.1 59.4,452.5 60.8,446.2 61.1,445.1 61.4,444.8 61.8,445.8 62.8,454 63.1,453.1 64.1,443.7 64.4,442.7 64.8,442.3 65.4,442.2 65.8,442.3 67.4,443.9 68.1,444.4 68.8,444.4 70.4,444.1 71.8,445.2 72.1,445 73.1,443.2 73.8,442.9 74.8,443.4 76.1,444.4 77.4,444.9 78.4,444.4 81.8,440.5 82.8,439.7 83.1,439.8 83.4,440.2 85.1,443.5 85.8,444.1 86.8,444.3 88.1,444 92.1,441.8 94.8,439.5 95.8,439.6 96.4,440.8 98.1,446.5 98.4,447.1 99.1,447.6 99.8,447.3 100.8,446.3 101.8,445.6 104.8,445.2 106.8,443.8 107.8,443.5 108.4,443.9 109.8,445.8 110.4,446.4 114.4,447.2 115.4,447 118.8,445.5 121.4,445 124.1,444.2 125.8,444.2 127.4,443.5 128.1,443.5 128.8,443.6 130.8,444.6 134.4,445.1 135.8,444.9 137.4,444.1 138.1,444 139.1,444.5 140.8,447.2 141.4,447.7 142.1,447.6 143.8,446.8 144.4,446.7 146.8,447.3 148.1,446.8 151.8,442.8 153.8,441.6 154.4,441.8 156.1,443.9 158.8,446 159.4,446.3 159.8,446.1 160.1,445.4 161.4,438.9 161.8,439 162.8,443.4 163.4,444.7 165.4,445.4 166.1,445.4 166.8,445.2 167.8,444.3 169.8,441.6 170.8,441.1 171.1,441.2 171.4,441.8 173.1,446.1 173.8,447 174.4,447.4 175.4,447.2 177.1,446.1 180.8,441.1 181.8,440.3 182.4,440.2 183.1,440.7 183.4,441.4 184.8,445.3 185.4,446.7 186.1,447.5 187.1,448 187.8,448.1 188.4,447.8 191.4,445 192.8,444.5 194.1,444.8 196.1,446.3 197.1,446.8 198.4,446.7 201.1,445.3 202.8,444.9 203.4,445.1 204.8,446.6 205.4,447 210.1,447.6 211.1,447.1 213.8,444.6 216.1,443.8 216.8,443.3 219.8,439.9 220.8,439.3 221.1,439.5 221.4,440 222.8,442.9 223.4,443.4 223.8,443.3 224.4,442.7 226.1,440.5 226.8,439.8 227.8,439.5 230.1,439.5 231.8,442.1 232.4,442.8 235.4,443.5 237.4,443.1 238.8,443.8 241.1,444.4 243.8,446.5" stroke="#2ca02c"/>
<polyline points="43.8,455 57.1,455 58.4,455.2 59.1,455.5 59.8,456.3 60.1,457.1 60.8,459.7 62.4,471.4 62.8,472.5 63.1,471.6 64.1,465.8 64.4,465.1 64.8,465 66.4,465.5 68.8,465.9 69.8,466.5 70.8,468.1 72.1,472 72.4,472.5 72.8,472.5 73.4,471.4 76.1,465.8 77.1,464.3 77.8,463.7 78.4,463.4 79.1,463.8 81.1,466.4 81.8,466.9 82.4,466.7 84.1,465.3 84.8,464.9 85.4,464.9 86.8,465.3 87.4,464.8 88.4,461.7 90.8,451.5 91.8,447.8 92.8,445.2 93.4,444 94.1,443.3 94.8,443.1 95.4,443.8 96.1,445.7 98.4,460.3 100.1,468.1 101.1,471.6 101.8,472.7 102.1,472.8 102.4,472.5 104.8,467.3 105.4,466.3 106.1,466.2 106.8,467.1 108.4,472.6 108.8,472.9 109.1,472.9 109.8,472.5 110.4,471.6 113.8,466 114.4,465.6 114.8,465.6 115.8,466.5 116.1,466.4 116.4,465.8 117.1,462.8 119.1,449.7 120.4,442.6 121.4,439.3 121.8,438.7 122.4,438.2 123.1,438.5 124.1,439.7 126.1,444.5 126.8,445.2 127.8,445.6 130.8,445.1 133.4,445.1 139.1,442.6 141.4,445.1 142.8,445.5 143.8,445.5 145.8,444.8 146.8,444.2 151.4,439.1 152.4,438.4 153.4,438.1 154.1,438.4 154.4,439 155.8,443 156.4,444.5 156.8,444.9 157.4,445.3 158.8,444.9 161.4,443.1 163.8,443.5 165.1,443.1 166.1,442.3 168.4,439.2 169.4,438.6 170.4,438.3 170.8,438.3 171.1,438.6 173.1,443.8 173.4,444.2 174.1,444.4 176.4,444.1 177.4,443.8 178.4,442.8 180.4,439.8 181.1,439.1 181.8,438.7 182.8,438.9 183.4,440.1 184.8,444.4 185.4,445.4 186.1,445.7 186.8,445.4 190.1,443.1 191.8,442.4 192.8,442.2 193.8,442.3 196.1,443.5 197.1,443.6 197.8,443.4 199.4,442.4 201.4,441.9 202.1,440.9 202.4,439.8 203.8,430.8 204.1,429.4 204.4,429.2 204.8,430.5 206.4,443.7 206.8,445 207.4,446.5 208.1,447.1 208.8,447.5 209.8,447.6 210.8,447.3 213.8,446 214.8,445.2 215.8,443.7 218.8,437.1 219.8,435.5 220.8,434.8 221.1,435 221.4,435.8 223.1,441.4 223.4,442 224.1,442.5 224.8,442.5 225.4,442.1 228.8,437.9 229.8,436.9 230.1,437 231.8,441 232.4,441.9 233.4,442 237.1,441.1 239.1,442.8 241.4,443.8 243.8,445.1" stroke="#d62728"/>
<polyline points="43.8,455 56.1,455 58.1,454.8 59.1,454.2 59.8,452.9 60.8,450.2 61.1,450.5 61.8,456.3 62.8,471.5 63.1,472 64.4,452.2 65.1,446.8 65.8,445 68.1,441.3 69.1,440 70.4,439.2 70.8,438.5 71.1,436.8 72.1,427.5 72.4,428.8 73.4,438.7 73.8,439.8 74.1,440.2 76.4,441.9 77.1,442 77.8,441.8 79.4,440.3 82.1,436.6 82.8,436 83.1,436.1 83.8,437.6 85.1,441.9 85.8,443.3 86.8,444.6 87.4,445.1 88.1,445.2 89.1,444.8 90.1,443.7 91.8,440.2 92.4,437.8 93.8,429.1 94.1,428.3 94.4,428.9 95.4,432.8 96.4,434.9 98.1,441.2 98.8,442.4 99.4,442.9 100.4,442.5 102.4,440.1 103.1,439.6 103.8,439.5 105.8,440.2 106.4,440.1 106.8,439.6 107.4,437.5 108.8,429.1 109.1,428 109.4,428.2 109.8,429.5 110.8,436.6 111.4,440 112.1,441.7 112.8,442.5 113.4,442.9 114.1,443 114.8,442.7 116.4,440.9 117.1,439.1 118.1,434 118.4,432.7 118.8,432.1 119.1,432.5 119.4,433.7 120.4,438.3 121.1,439.7 121.8,439.8 123.1,439.4 124.1,439.4 126.1,441.8 127.1,442.4 128.4,442.8 129.8,442.7 132.4,441.7 134.4,441.7 135.1,441 135.4,440 136.8,432.7 137.1,431.8 137.4,432 137.8,433.2 139.1,440.1 140.1,442.7 140.8,443.7 141.8,444.7 143.1,445.4 144.1,445.5 145.1,445.1 147.1,443.1 149.4,440.5 152.1,437 153.1,436.4 153.8,436.4 154.1,436.7 155.8,440.2 156.4,441 157.1,441.3 158.4,441.3 159.4,441.6 163.4,443.6 164.1,443.6 164.8,443.3 166.1,441.9 167.4,440 168.1,438.6 168.8,436 169.8,430.4 170.1,429.4 170.4,429.4 170.8,430.3 172.1,438.2 172.8,440.8 173.4,442 174.8,442.6 176.1,442.8 177.4,442.4 179.8,440.7 181.8,438.7 182.8,438.1 183.1,438.2 183.4,438.6 184.8,441.8 185.4,442.9 186.1,443.6 186.8,443.8 187.8,443.9 189.1,443.6 193.4,441.8 197.1,441.2 199.4,439.9 200.4,439.7 202.8,440 203.4,440.7 204.8,442.9 205.4,443.5 206.1,443.7 209.4,444 212.1,443.4 214.1,443.4 214.8,443.1 215.8,442 216.8,440.1 218.8,435.3 219.4,434.3 220.1,434 220.8,434.1 221.1,434.6 222.8,440.5 223.1,441.2 223.4,441.6 223.8,441.7 224.1,441.5 224.8,440.5 225.4,438.6 227.1,427.6 227.4,426 227.8,425.5 228.1,426.1 228.4,427.6 229.4,432.8 231.4,439.4 232.1,440.8 232.8,441.2 234.8,440 235.4,439.8 236.4,439.8 237.1,440.1 238.4,441.7 239.4,442.4 241.4,442.8 243.8,442.5" stroke="#9467bd"/>
<polyline points="43.8,455 56.4,455 58.4,455.3 59.1,456 59.8,457.6 61.4,465.3 62.1,466.8 62.4,466.5 62.8,465.1 63.8,456.4 64.1,455.2 64.4,456.5 65.4,466 65.8,467.7 66.1,468.4 66.4,468.4 67.4,467.2 69.1,466.2 69.4,465.7 69.8,464.5 70.8,454.4 71.1,455.8 71.8,464 72.1,466.1 73.1,468.9 73.4,469.5 73.8,469.7 74.1,469.3 74.8,466.3 76.4,454.1 78.1,443.8 79.1,439.5 79.8,437.9 80.4,437.6 81.1,438.1 83.1,441.2 84.8,445 85.1,445.5 85.8,445.8 87.1,445.4 89.4,443.9 92.4,440.8 93.4,440 94.4,439.6 95.1,439.7 96.1,440.3 97.4,443.3 98.1,444.3 100.1,445.2 101.1,446.2 103.8,451.7 105.8,456.6 106.4,459.1 108.1,471.1 108.4,471.6 109.8,467.9 110.1,467.8 111.4,469 112.1,469.3 114.1,468.8 114.8,469.3 116.1,472.8 116.4,473.5 116.8,473.7 117.4,473.4 118.1,472.8 120.4,469.4 121.4,468.4 122.4,467.9 124.8,467.6 126.4,466.6 129.4,462.3 132.4,458.6 133.1,457.4 133.8,455.5 136.4,444.3 137.1,442.1 137.8,440.8 138.1,440.6 138.8,440.6 139.4,441.5 140.8,444.3 141.4,445 142.1,445.1 142.8,444.9 144.8,443.4 145.8,442.9 148.8,442.6 151.8,440.1 152.4,439.8 153.1,439.7 154.1,440.1 155.8,443 156.8,443.8 161.4,445 162.4,444.9 164.4,444 166.4,443.6 167.8,443.7 168.8,444.3 169.8,445.7 170.8,448.3 172.8,457.8 173.4,460.2 174.1,461.8 174.8,462.5 176.8,463.5 178.8,465.5 179.8,466.2 180.8,466.4 182.8,466.2 185.1,467 186.1,468.4 187.1,470.8 187.4,471.3 187.8,471.5 192.1,469 193.4,468.5 195.1,468.7 197.1,469.9 198.1,469.8 199.1,469.2 201.1,467.2 202.1,466.8 203.1,467 204.4,467.8 206.4,469.8 207.1,469.9 208.4,469.7 210.4,468.9 213.1,466.9 215.4,466.3 217.8,465.1 218.4,464.9 219.4,465.3 221.1,467 221.8,468.1 223.4,472.2 223.8,472.5 224.4,472.5 225.1,472.3 225.8,471.8 227.8,469.5 228.8,468.8 229.8,468.7 231.1,468.9 232.1,469.5 233.1,470.5 233.8,470.7 235.1,470.1 238.4,468 241.4,467.4 242.4,466.7 243.8,465.2" stroke="#8c564b"/>
<polyline points="43.8,455 57.8,455 59.1,454.6 59.8,453.8 60.4,452 61.8,445.8 62.8,442.5 63.1,440.5 64.4,419.8 64.8,420.3 66.1,442.8 66.4,444.9 66.8,445.8 67.4,446.5 68.1,446.7 69.8,446.2 73.4,444 79.1,437.5 80.4,436.3 81.4,435.9 82.1,436.1 82.8,436.7 83.4,438.1 85.1,443.2 85.8,444.2 86.8,444.7 88.1,444.5 89.4,443.8 92.8,440.5 94.8,438.2 95.8,437.6 96.1,437.8 96.4,438.4 98.1,442.9 98.8,443.8 99.4,444.1 102.4,443.9 103.8,443.6 105.4,442.7 108.1,440.9 108.8,441.2 110.1,442.5 113.1,444.6 114.1,445 114.8,445 118.4,443.3 121.8,440.6 123.1,440.2 124.1,440.6 125.8,443.1 126.8,443.7 130.4,443.3 133.4,441.7 134.4,441.7 136.4,442 138.8,441.7 139.4,442.2 140.4,443.6 141.1,444.1 143.4,444.7 145.8,446.3 146.8,446.5 147.4,446.3 148.8,445.5 150.4,444.1 152.8,441.6 153.8,441.1 154.4,441.4 156.1,443.6 156.8,443.9 158.1,444 159.1,444.3 159.4,444.2 159.8,443.4 160.8,437.8 161.1,437.5 162.1,443.4 162.4,444.6 162.8,444.9 163.1,444.9 164.4,443.6 169.8,437.5 170.8,437 171.1,437.1 171.4,437.7 173.4,443.6 174.1,444.8 175.1,445.4 176.1,445 178.8,442.1 182.8,440.2 183.1,440.3 183.4,440.7 184.8,443.2 185.8,444.4 186.8,444.5 188.8,443.8 190.4,443.5 191.4,443.7 193.8,444.7 194.8,444.9 196.4,444.8 197.4,444.4 198.8,443.6 201.4,441.3 202.1,441 202.8,441 203.4,441.6 204.8,443.8 205.4,444.6 208.4,445.9 209.8,446.1 211.1,445.5 213.8,443.3 217.4,441.8 220.8,439.4 221.1,439.3 221.4,439.6 222.8,441.9 223.4,442.1 224.4,441.5 228.1,438.3 229.4,437.8 230.1,438.1 231.8,441.9 232.4,442.7 232.8,442.7 233.4,442.4 235.8,440.5 237.1,440.1 237.8,440.6 239.4,442.9 240.4,443.8 242.1,444.8 243.8,445.4" stroke="#e377c2"/>
<polyline points="43.8,455 56.4,455 57.8,455.3 58.4,455.7 59.4,457.6 60.1,460.1 61.8,470.8 62.1,471.6 62.4,471 63.8,464.1 64.1,463.4 64.8,463.1 67.1,463.7 68.1,464.3 70.4,467.2 72.1,470.1 72.4,470.4 72.8,470.5 74.4,469.5 76.1,469.4 76.8,469.1 77.8,467.9 80.1,464 80.8,463.3 81.4,463.1 83.4,464.2 85.4,464.9 86.1,465.5 87.8,467.8 88.8,468.4 89.8,467.9 91.8,465.4 92.4,465 93.1,465.3 94.8,467.9 95.8,468.3 97.1,468.2 98.1,467.3 100.4,463.8 101.4,463.4 102.1,463.6 104.4,465.6 106.4,466.7 108.4,469.2 108.8,469.1 109.4,468.5 111.4,466 112.1,465.6 113.1,465.4 113.8,465.4 114.4,465.8 115.1,466.7 116.1,468.7 116.4,469.1 116.8,469.1 119.1,468.2 121.8,466.1 122.8,465.6 124.1,465.8 125.4,466.7 126.4,467 128.8,466.4 133.4,466.8 134.8,466.2 136.1,466.1 136.8,465.8 139.4,463.3 140.4,462.7 141.1,462.8 143.4,464.4 144.4,464.7 146.8,464.7 148.4,464.9 150.4,464.4 151.4,464.4 152.4,464.9 154.1,466.3 155.1,466.5 157.4,466.3 159.8,464.8 162.4,464 164.4,463.9 166.8,462.9 167.8,462.7 168.8,463 170.1,464.2 170.8,465 172.1,467.6 172.8,468.2 175.4,467.7 178.8,465.4 179.8,464.9 180.4,464.9 182.8,465.8 185.4,466 186.1,466.3 187.4,467.5 188.1,467.3 190.4,465.3 191.4,464.9 193.1,464.8 196.1,464.2 199.4,465.1 202.1,464.2 203.1,464.1 204.4,464.5 206.4,466.6 207.4,467 209.1,466.8 211.4,465.7 212.4,465.4 213.4,465.6 216.1,467 217.1,467.1 218.4,466.7 220.8,464.2 221.4,463.9 222.1,464.3 223.8,466.9 225.1,467.5 225.8,467.6 227.1,467 229.8,464.6 230.8,464.3 231.8,464.8 233.4,466.6 234.4,466.6 236.4,465.6 240.4,462.6 243.8,461.3" stroke="#7f7f7f"/>
<polyline points="43.8,455 56.8,455 58.8,454.7 59.4,454.1 60.1,452.7 61.4,447.5 61.8,448 62.1,450.9 63.1,466.2 63.4,464.5 64.4,444.3 64.8,440.8 65.1,439.3 65.4,438.9 65.8,439 66.4,439.8 68.8,444.2 69.4,445 70.1,445.3 70.8,444.7 72.1,441.6 72.4,441.5 73.4,441.9 75.1,440.6 75.8,440.3 78.1,440.7 79.1,440.6 80.4,440 82.8,438.6 83.1,438.8 83.4,439.3 84.8,443.5 85.4,445 86.1,445.7 86.8,445.8 87.8,445.4 89.4,443.9 90.8,442.5 93.1,439.3 94.4,438.3 95.4,438.3 96.1,438.8 97.8,443.7 98.1,444.2 98.8,444.6 99.8,444.4 103.1,442.6 106.1,440.4 107.8,439.5 108.4,439.9 109.8,442.4 110.8,443.7 113.8,444.9 114.8,445.8 115.8,447.7 117.8,452.4 119.1,454.8 120.4,456.5 122.8,457.5 123.4,458.1 124.1,459.1 126.1,463.6 127.1,465 127.8,465.4 128.8,465.8 131.4,465.9 132.1,466.4 133.4,468.1 134.8,468.5 135.8,468.1 138.1,466.4 141.4,466 145.1,463.3 146.8,461.4 148.1,459.5 150.4,453.9 151.4,452 154.1,449.2 155.8,447.9 158.1,444.8 159.1,444 160.1,443.6 161.1,443.7 162.8,444.4 163.4,444.4 164.1,444.1 164.8,443.5 167.4,440.1 169.8,437.5 170.4,437 170.8,437 171.1,437.2 171.4,437.9 172.8,442.7 173.4,444.3 173.8,444.7 174.4,445 175.1,444.9 179.1,443.2 182.1,439.8 182.8,439.2 183.1,439.2 183.4,439.5 184.8,442.1 185.4,442.8 189.1,444 192.4,443.9 195.1,444.4 196.1,444.3 197.4,443.6 201.4,440.5 202.8,440.1 203.4,440.7 204.8,443.2 205.8,444.1 206.4,444.2 209.1,443.8 214.4,444.7 215.4,444 216.4,442.8 219.4,437 220.1,436 220.8,435.5 221.1,435.6 221.4,436.2 222.8,440.8 223.4,442.3 224.1,442.8 224.8,442.4 225.8,440.8 226.8,438.1 227.4,435.3 228.8,427.3 229.1,426.4 229.4,426.6 229.8,427.6 231.4,437.6 232.1,439.8 232.8,441 234.8,442.7 237.1,443.3 239.1,446.1 240.1,447 241.1,447.3 243.8,447.5" stroke="#bcbd22"/>
<polyline points="43.8,455 57.1,455 58.4,455.3 59.1,456 59.8,457.8 60.1,459.5 62.1,478.5 62.4,480 62.8,480.1 64.4,471.4 65.1,469.9 66.8,467.9 67.8,466.9 68.8,466.3 70.1,466.1 70.8,466.7 72.1,469.5 72.4,469.9 72.8,469.9 74.4,467.9 76.8,463.9 77.8,463.2 78.8,463.7 80.8,466.6 81.8,467.4 82.4,467.3 84.1,466.2 84.8,466.1 85.8,466.6 87.1,468.3 87.8,468.5 90.8,466.6 91.4,466.4 92.1,466.4 92.8,467 94.1,470.2 94.8,471 95.4,470.9 96.1,470.6 98.4,467.6 99.8,466.3 101.1,465.6 103.8,464.6 105.4,463.6 106.1,463.4 106.8,463.8 108.1,466.8 108.4,467.3 108.8,467.5 109.4,467.2 110.1,466.7 112.4,463.9 113.1,463.6 113.8,463.7 114.4,464.5 114.8,465.2 116.4,470.6 116.8,471 117.1,471.1 117.8,470.9 118.4,470.4 120.4,467.8 121.4,466.9 123.1,465.7 124.4,465.1 127.1,464.3 128.4,464.4 131.4,466 133.4,468 134.8,468.3 135.8,467.7 138.4,464.2 139.4,463.8 140.1,464.1 141.4,465 142.1,465.2 146.4,464.3 149.8,464.4 151.4,464.8 154.8,465.1 155.8,465.5 157.4,467.1 158.1,466.8 160.1,464.9 161.4,464 165.1,463.3 166.4,463.3 167.4,463.7 170.4,465.9 172.4,469 172.8,469 176.1,466.6 180.4,464.2 182.1,463.8 184.1,463.8 184.8,464 185.4,464.5 187.4,468.5 188.1,468.9 189.1,468.6 193.1,465.2 194.8,464.2 195.8,464.1 196.4,464.4 198.8,466.2 200.1,466.6 201.1,466.3 203.8,464.6 206.1,464.2 207.8,462.8 208.4,462.7 209.4,463.1 211.4,465 212.8,465.7 213.8,465.8 215.8,465.3 216.4,465.3 221.1,467 221.8,467.7 223.4,470.7 223.8,470.7 224.4,470.3 227.4,466.4 228.4,465.7 229.8,465.4 230.8,465.4 231.4,465.6 233.1,467.6 233.8,467.9 235.1,467.2 237.8,465 239.1,464.5 240.1,464.5 241.4,465.3 243.8,468.4" stroke="#17becf"/>
<polyline points="43.8,455 57.4,455 58.8,454.8 59.4,454.4 60.4,452.4 61.8,448.2 63.1,446.4 63.4,445 64.1,438.2 64.4,436.9 65.4,447.1 65.8,448.5 66.1,448.9 66.4,448.9 67.8,448.3 68.1,448.4 68.4,449 69.8,457.3 70.1,458.4 70.4,458 71.8,449.2 72.4,447.1 73.1,446.3 73.8,445.9 74.4,445.7 76.4,445.7 77.1,445.4 78.1,444.2 79.8,441.7 80.4,441.1 81.4,440.9 82.8,441.6 83.4,442.5 84.8,445.5 85.1,446 85.8,446.5 86.8,446.1 89.4,443.9 91.8,443.7 92.4,443.4 94.8,441.1 95.8,440.6 96.4,441.4 98.4,446.9 99.1,447.6 99.8,447.7 100.4,447.4 103.1,445.1 105.8,444.5 106.8,443.8 107.4,442.2 108.8,436.9 109.1,437 109.4,437.9 110.8,443.9 111.4,445.1 112.1,445.6 113.1,446 114.1,446.1 117.4,444.4 119.4,444 120.4,443.4 122.4,441.5 123.4,441.1 124.1,441.4 124.4,441.9 126.1,445.6 126.8,446.7 127.4,447.4 128.1,447.7 129.1,447.5 130.8,446.4 132.8,445.3 135.8,442.6 136.4,442.4 137.4,442.8 140.1,446.4 140.8,446.9 141.1,446.9 143.8,444.9 147.1,444.3 151.1,442.6 152.4,442.4 153.4,442.9 154.1,443.6 155.4,446.4 156.1,447.3 156.8,447.7 157.8,447.8 159.8,447 162.8,444.7 163.8,444.5 165.4,444.7 166.1,444.6 167.1,443.7 169.1,440.9 169.8,440.4 170.4,440.1 171.1,440.4 173.1,444.4 173.4,444.7 174.1,444.9 175.8,444.2 180.1,440.8 182.1,439.8 182.8,439.7 183.1,439.8 184.1,441.4 184.4,441.6 184.8,441.1 185.8,437.3 186.1,437.8 187.1,443.3 187.4,444.3 187.8,444.7 188.1,444.7 190.1,444.6 192.4,445.7 193.4,445.8 196.4,444.5 198.1,444.4 200.8,444.6 201.8,444.2 202.4,442.9 203.8,436.3 204.1,436.3 204.4,437.6 205.4,443.3 205.8,444.2 206.4,444.7 209.1,444.2 212.1,444.3 213.1,443.8 215.8,440.9 216.8,440.7 218.8,440.9 221.1,439.7 221.8,440.3 223.1,442.3 223.8,442.8 224.8,443.1 225.8,443.2 226.4,443 228.8,441.6 229.8,441.4 230.4,442.1 231.8,445 232.4,445.5 233.1,445.4 234.8,444.5 235.8,444.2 237.1,444.2 239.1,444.7 241.1,444.5 242.4,443.7 243.8,442.5" stroke="#1f77b4"/>
<polyline points="43.8,455 57.1,455 58.4,455.4 59.1,456.1 59.8,458.5 60.1,461.1 61.4,480.4 61.8,482.8 62.1,482.2 63.4,470 64.1,468 65.8,466.5 69.1,464.1 69.8,463.8 70.1,463.8 70.8,464.6 71.1,465.5 72.4,470.3 73.1,471.8 73.8,472.6 74.1,472.7 74.8,472.3 75.1,471.8 76.1,469.2 78.1,461.9 81.1,446.5 81.8,444.9 82.4,444.4 82.8,444.5 83.1,444.9 83.4,445.8 85.1,452 87.8,459.6 88.4,460.6 88.8,460.8 89.4,460.6 90.8,459.8 91.4,460.2 92.4,462.1 94.1,467.5 94.8,468.7 95.4,469.1 96.1,469.2 98.8,468.8 99.8,468.3 102.1,466.3 103.4,466 104.8,466.4 106.1,467.1 106.8,467.9 108.1,470.3 108.4,470.6 108.8,470.5 109.4,469.8 111.8,466.6 112.8,466.1 113.8,466.2 114.4,466.6 116.4,469.8 117.1,469.7 118.1,468.8 121.4,464.4 122.4,462.8 124.8,456.8 126.4,453.5 127.4,452.2 129.4,450.2 132.8,443.1 133.8,441.7 134.8,440.9 136.8,440.4 138.8,440.3 139.4,440.9 140.8,443.1 141.8,444 142.4,444.1 144.1,443.8 146.4,443.7 148.1,443 150.4,441.2 152.8,438.9 153.8,438.4 154.1,438.4 154.4,438.9 156.1,442.8 157.1,444.4 158.8,445.8 159.4,446.1 160.4,446.1 165.4,444.1 166.4,443.5 167.4,442.5 169.8,438.7 170.8,438 171.1,438.2 171.4,438.9 173.1,444 173.4,444.5 174.1,445 175.1,444.8 178.8,443.2 180.8,442 181.8,442 182.4,442.5 183.1,443.7 185.1,452.2 187.1,458.6 188.1,460.6 190.4,463 191.8,464.1 194.1,465.3 196.8,467 198.1,467.2 200.8,466.9 201.8,467.2 205.8,471 206.4,471.3 207.1,471.1 208.4,470.2 210.8,467.7 211.8,467 212.8,466.6 215.4,466.3 217.1,465.2 218.1,464.2 219.1,462.8 221.1,458.8 221.4,458.7 222.4,461.1 222.8,461.1 223.1,459.8 224.4,446.9 225.8,436.9 227.8,425.5 228.4,423.4 228.8,423.6 229.4,426.6 231.4,440.2 231.8,441.6 232.4,443.1 232.8,443.4 233.4,443.5 235.8,442.7 237.1,442.6 239.1,444.6 240.1,444.8 241.4,444.2 243.8,442.1" stroke="#ff7f0e"/>
<polyline points="43.8,455 55.8,455 57.8,454.8 58.4,454.5 59.1,453.5 60.4,449.6 60.8,450.1 61.1,452.5 62.1,466.5 62.4,466.8 63.8,449.2 64.1,447.3 64.4,446.5 66.1,445.4 66.8,445.2 67.4,445.3 68.8,446.5 69.1,446.5 69.4,446.2 70.8,443.5 71.1,443.5 72.4,445.2 74.1,445.2 75.8,446.1 76.8,446.1 78.1,445.1 81.1,440.9 82.1,440.2 82.8,440.3 83.1,440.7 85.1,446.9 85.4,447.4 86.1,447.7 86.8,447.4 88.4,446 90.8,444.9 91.8,443.8 93.8,440.6 94.4,440 95.4,439.8 96.1,440.1 97.8,443.8 98.8,444.7 100.8,445.1 101.8,445.1 105.4,442.8 107.8,442.2 108.4,442.6 110.1,444.9 110.8,445.5 112.1,446.2 114.1,446.6 115.1,446.5 118.4,445.2 119.4,444.3 122.1,441.1 123.1,440.4 123.8,440.3 124.4,440.7 126.8,444.1 128.1,445.5 128.8,445.8 129.8,445.7 132.4,444.3 135.1,444.6 137.8,443 138.8,442.8 139.4,443.4 140.8,446 141.4,446.7 142.1,446.8 144.4,445.7 145.1,445.6 146.1,446 147.4,446.7 148.4,446.9 149.4,446.4 150.1,445.8 152.8,441.3 153.4,440.5 154.1,440.2 154.8,441.1 156.1,443.7 156.8,444.4 157.4,444.6 159.4,444.5 160.1,444.6 162.8,446.2 163.4,446.4 164.8,445.7 168.8,441.6 169.8,441 170.8,441 171.4,441.9 173.1,446.1 173.4,446.4 174.1,446.5 175.1,445.8 178.1,442.6 180.4,440.4 181.4,439.7 182.1,439.5 182.8,439.6 183.1,439.9 184.8,443.9 185.4,444.7 186.1,445.1 188.1,445.6 189.8,446.4 190.8,446.4 194.4,444.9 197.4,444.3 200.4,442.5 201.4,442.2 202.4,442.3 203.1,442.8 204.4,444.9 205.4,445.8 208.4,446.4 210.1,446.4 211.4,446 214.4,444.5 216.1,443.3 217.1,442.1 220.4,436.3 221.1,434.1 222.4,428.3 222.8,427.6 223.1,428 223.4,429.4 224.8,439.5 225.1,441.1 225.8,442.6 226.1,442.7 226.8,442.1 228.8,438.8 229.4,438.2 229.8,438.1 230.1,438.4 230.4,439.1 232.1,444.9 233.1,446.5 234.1,446.7 237.1,446.2 239.1,447.9 240.4,448.3 242.1,448.3 243.8,447.8" stroke="#2ca02c"/>
<polyline points="43.8,455 57.8,455 59.1,455.3 60.4,456.3 60.8,456.2 61.4,454.2 62.4,448.6 62.8,448.3 63.4,451.9 64.4,460.4 65.1,463.3 65.8,464.4 68.8,466.7 69.1,466.5 69.4,465 70.4,453 70.8,454.9 71.8,469 72.1,470.3 72.4,470.6 74.8,468.2 77.1,467.4 79.4,465.7 80.4,465.3 85.1,465.9 85.8,466.3 87.1,467.6 87.8,467.9 92.4,467 93.1,467.3 94.4,468.4 98.4,467.5 101.1,465.8 102.4,465.3 106.4,465.7 107.1,466.3 108.1,467.9 108.8,468.5 109.8,468.2 112.8,466.6 114.1,466.2 114.8,466.5 116.1,468.2 117.1,469 117.4,469.5 118.8,475 119.1,475.3 119.4,474.4 120.8,466 121.4,464.1 122.1,463.6 125.1,464.2 127.1,464.3 129.4,465.7 130.8,466 133.1,466 135.4,465 136.4,465.1 138.1,465.8 138.8,465.9 139.4,465.7 141.8,464.3 142.8,464.2 143.8,464.7 145.8,466.1 147.1,466.5 150.4,465.4 154.4,465.1 155.8,465.3 157.4,466 158.4,465.4 161.1,462.9 162.1,462.5 163.1,462.8 165.4,464.7 166.8,465.2 167.4,465.1 169.8,463.7 170.4,463.5 171.1,463.7 172.4,465.3 173.4,465.7 175.4,465.5 178.1,464.5 180.1,464.5 182.4,464.2 185.1,464.3 185.8,464.5 187.1,465.5 187.8,465.6 192.4,464.3 195.4,463.9 198.4,462.4 199.4,462.1 200.4,462.4 204.4,464.3 206.4,466.3 207.1,466.5 208.1,466.4 211.4,464.7 212.4,464.7 214.1,465.3 215.1,465.4 217.8,464.3 218.4,464.2 219.1,464.4 221.4,465.5 223.4,467.4 228.1,466.2 233.1,467.3 235.1,466.6 237.1,466.5 238.4,466 243.8,461.3" stroke="#d62728"/>
<polyline points="43.8,455 58.1,454.9 59.1,454.5 60.4,452.2 60.8,452.2 61.1,453.7 62.1,465.1 62.4,466 63.8,450.8 64.1,449.1 64.4,448.4 67.1,447.5 68.8,447.4 69.8,447.7 71.8,449 72.8,449.1 73.4,448.6 74.1,447.8 76.4,444.1 77.4,442.8 79.8,441 81.4,440.1 82.4,440.1 83.1,440.4 83.4,441 84.8,444.4 85.8,445.8 86.4,446.2 87.1,446.3 88.8,445.8 89.8,445.8 90.8,446.4 91.4,447.3 92.1,448.8 92.8,450.9 94.8,461.5 95.4,462.9 95.8,462.8 96.1,462.4 97.8,459 98.1,458.8 98.4,458.8 99.1,459.6 100.4,461.9 101.1,462.8 102.1,463.3 104.1,463.7 105.8,464.7 106.8,465.7 108.4,468.2 109.1,468.1 111.1,467 113.8,464.8 114.4,464.5 115.1,464.8 116.8,467 117.8,467.2 118.8,467 120.8,465.6 124.1,462.3 125.1,461.7 126.1,461.4 127.4,461.7 128.8,462.6 132.4,466.8 133.4,467.6 134.1,467.5 137.1,466.4 140.8,464.8 143.8,464.3 146.8,463.3 147.8,463.5 150.4,464.7 152.8,464.1 153.8,464.2 154.8,464.9 156.4,466.4 157.1,466.7 157.8,466.3 158.4,465.3 160.8,459.7 161.1,459.5 162.1,460.7 162.4,460.1 164.1,449.9 164.8,448.4 167.8,444.2 168.4,442.7 169.1,440.1 170.4,431.7 170.8,430.8 171.1,431.1 171.4,432.8 172.8,444.1 173.4,447.9 175.1,453.6 176.4,457.2 176.8,457.8 177.4,458.3 179.1,457.6 179.8,457.7 180.4,458.6 182.1,462.5 183.1,464.1 183.8,464.7 185.8,465.1 187.4,466.3 188.1,466.2 189.8,465.3 190.4,465.2 191.8,465.4 194.4,466.6 195.1,466.5 197.4,465.6 200.8,465.6 202.4,466 205.4,468 206.4,468.3 210.1,466.2 213.8,463.2 215.4,462.8 217.4,463.2 221.1,464.7 222.1,465.6 223.1,467.1 223.8,467.6 225.1,467.4 227.1,466.5 231.8,465 232.4,465.2 234.1,466.5 235.1,466.8 235.8,466.8 236.8,466.5 238.8,465.3 241.1,464.4 242.1,463.1 243.8,459.7" stroke="#9467bd"/>
<polyline points="43.8,455 56.1,455 57.4,455.1 58.1,455.4 58.8,456.2 59.4,458 61.1,465.3 61.8,466.9 62.8,468 63.1,467.7 63.4,466.2 64.4,453.4 64.8,454.1 65.4,464.5 65.8,467.9 66.1,469.2 66.4,469.5 66.8,469.4 69.4,467.8 70.1,467.6 70.8,468.6 71.8,471.3 72.1,471.8 72.4,472 73.8,471.2 74.8,470.1 77.4,465.6 79.1,464 80.4,463.4 85.4,464.2 86.1,464.5 87.8,466.6 88.8,467.3 89.8,467.6 91.4,467.5 92.1,467.6 92.8,468.2 94.4,471.2 95.1,471.4 95.8,471.2 96.4,470.7 98.4,468.2 99.8,467 101.8,466 103.8,465.6 106.1,465.6 106.8,466.2 108.1,468.2 108.8,468.7 109.4,468.6 110.1,468.1 112.8,465.6 113.4,465.4 114.1,465.5 115.1,466.3 116.1,468.5 116.8,470.7 118.1,478 118.4,478.3 118.8,477.2 120.1,468.3 120.4,467.2 120.8,466.6 121.1,466.4 123.1,466.7 125.4,465.5 126.1,465.3 130.1,465.7 131.1,466.1 131.8,466.7 133.8,469.3 134.8,469.9 135.8,470.1 136.8,469.6 138.8,467.8 139.8,467.1 145.8,466 146.8,465.5 148.8,463.8 149.4,463.6 150.1,463.8 151.4,464.9 152.4,465.5 153.4,465.5 155.4,464.9 156.1,465.1 157.8,466.2 160.8,465.7 162.8,465.8 166.1,464.5 167.1,464.5 170.4,466.5 172.1,469 172.8,469.6 174.1,469.2 177.1,466.9 178.8,466.2 181.1,464.6 182.4,464.2 183.8,464.4 184.8,465 187.1,468.1 187.8,468.5 190.1,467.8 194.8,464.8 196.4,464.3 197.4,464.3 198.1,464.7 200.1,466.5 200.8,466.9 201.8,466.8 203.8,465.4 204.4,465.1 205.1,465.3 206.4,466.3 207.1,466.4 207.8,466.4 209.4,466 210.4,465.9 213.4,466.5 214.4,466.2 216.4,465 221.4,463.3 222.1,463.4 223.4,464.6 225.1,464.5 227.4,465 228.4,464.9 230.4,463.8 231.1,463.7 232.1,464.5 233.8,466.9 235.4,468 236.8,468.3 239.8,467.4 241.1,467.4 242.4,467.9 243.8,469" stroke="#8c564b"/>
<polyline points="43.8,455 56.1,455 58.1,454.8 59.1,453.9 60.8,449.4 61.1,448.9 61.4,448.7 62.1,449.3 62.8,450.9 63.8,457.2 64.1,457.9 65.4,448.9 66.4,446 67.4,444.6 68.1,444.3 68.8,444.5 71.8,446.8 73.4,447.5 74.1,447.5 76.4,446.4 79.4,444.3 80.8,443.8 83.1,444.3 84.8,446.4 85.8,447 88.1,447.2 90.8,446.7 91.4,446.3 92.1,445.7 92.8,444 94.1,434.7 94.4,434.3 95.8,440.5 97.8,444.3 98.8,445.2 101.4,445.2 104.4,446.4 108.1,445.8 110.1,447 110.8,446.8 113.1,445.3 114.1,445.1 115.4,445.1 116.1,444.1 117.4,438.4 117.8,437.3 118.1,437 118.4,437.6 119.8,442.8 120.4,443.9 125.4,446.8 128.1,447.3 130.8,449.3 131.8,449.7 132.4,449.6 133.1,449.2 135.4,446.8 136.4,446.2 138.1,445.9 140.1,445.1 142.1,444.7 142.8,444.8 144.4,445.5 146.4,445.8 148.1,446.3 149.1,446.3 150.4,445.6 152.8,443.3 153.8,442.9 154.4,443.1 158.4,447.2 159.1,447.6 159.8,447.8 160.4,447.2 160.8,446.4 162.1,439.1 162.4,437.7 162.8,437.1 163.1,437.5 164.4,443.1 165.1,444.3 165.8,444.4 167.4,444.1 170.1,443.1 171.1,443.1 173.4,446.6 174.4,447.4 175.4,447.8 176.4,447.7 177.1,447.4 178.1,446.3 180.1,443.6 181.1,442.8 181.8,442.7 182.4,442.8 183.1,443.3 184.8,446.3 185.4,447 186.1,447.2 191.1,446.7 193.8,447.5 195.1,447.5 196.1,447 198.1,445.1 199.4,444.2 200.4,444 202.4,444.5 204.4,444.3 206.4,443.5 207.4,443.7 210.1,445.1 212.8,447 214.1,447.2 215.4,446.4 218.1,443.6 219.4,443 220.1,443.1 220.8,443.5 222.8,447 223.1,447.3 223.8,447.4 226.8,445 227.4,443.7 228.1,439.7 229.1,428.4 229.4,427.1 229.8,428.5 230.8,438.8 231.1,440.9 231.8,442.8 232.8,443.4 235.4,442.8 237.1,443 240.1,445.7 243.8,447.2" stroke="#e377c2"/>
<polyline points="43.8,455 56.4,455 57.8,455.3 58.4,455.9 59.1,457.4 59.8,461.2 60.4,468.1 61.4,482.5 61.8,486.1 62.1,487.6 62.4,486.7 62.8,483.6 63.8,470.3 64.4,465.2 64.8,464.1 65.1,463.7 65.4,463.7 67.4,465.2 68.4,465.3 69.1,464.7 69.8,463.6 70.8,460.3 72.1,449.9 72.4,449.2 72.8,449.2 73.1,449 75.1,440.3 75.8,438.5 76.1,438.1 76.4,438 77.1,438.7 78.8,441.9 79.8,442.7 80.8,442.6 82.8,441.5 83.1,441.5 85.4,444.2 86.1,444.5 87.1,444.6 89.4,444.3 91.1,444.4 92.1,444.3 94.4,442.6 95.8,442.1 96.4,442.7 97.4,444.6 98.1,445.3 100.4,445.5 102.1,446.4 102.8,446.5 104.1,445.7 105.8,443.8 106.4,442 107.4,437.4 107.8,437.3 108.8,442 109.4,443.9 110.1,444.5 113.4,446.7 114.4,446.6 116.4,445.4 120.1,444.1 121.1,444.2 123.4,445.8 124.8,445.8 126.4,445.3 127.1,445.4 128.1,446.7 129.4,450.6 130.8,456 133.4,469.5 134.1,471.4 134.4,471.9 134.8,472.1 135.1,471.9 135.8,470.6 137.8,465.1 138.8,463.9 139.4,463.8 140.8,464.2 141.4,464.2 144.1,463.1 145.1,463 148.1,463.8 149.1,463.5 151.1,462 151.8,461.8 152.4,462 153.1,462.5 155.8,465.3 157.1,467 157.8,467.4 161.1,466.5 161.8,466.6 163.8,467.5 164.8,467.5 165.8,467 168.8,464.3 169.8,464.1 170.4,464.5 170.8,464.9 172.4,468.8 173.1,469.2 173.8,469.1 174.4,468.7 178.1,465.4 180.4,464.3 181.4,464.3 183.4,464.9 185.4,465 186.1,465.6 187.4,467.5 188.4,467.7 189.4,467.6 190.4,467.1 193.8,463.9 194.8,463.4 196.4,463.5 198.8,464.5 200.1,464.4 201.4,463.2 203.8,460.1 204.8,459.2 206.1,458.5 207.1,457.2 208.8,453.3 211.1,446.1 212.1,444.2 212.4,444 213.1,443.9 215.1,445 216.1,444.9 217.1,444.1 219.1,441.4 220.1,440.9 220.8,441 221.1,441.3 222.4,443.9 223.1,444.8 223.4,444.9 224.4,444.7 227.1,442.7 227.8,441 229.1,433.1 229.4,432.6 229.8,433.9 230.1,437.1 231.8,459.4 232.8,466.1 233.8,469.4 234.4,470.1 235.1,470 235.8,469.1 237.4,466.2 238.4,465.1 239.1,464.7 239.8,464.5 241.4,464.9 242.1,464.7 242.8,464.2 243.8,462.7" stroke="#7f7f7f"/>
<polyline points="43.8,455 57.4,454.9 58.1,454.7 58.8,454.2 59.8,452.4 60.1,452.1 60.4,452.8 60.8,454.9 61.8,464.6 62.1,464.2 63.1,452.5 63.8,447.8 64.1,447.1 65.4,446.7 67.4,444.9 68.1,444.6 68.4,445 68.8,446.1 70.1,460.1 70.4,462.4 70.8,462.2 72.1,447.4 72.8,443.3 73.4,441.8 76.4,438.6 77.1,438.3 78.4,438.4 79.4,438.1 82.1,436 82.8,435.7 83.1,436 83.4,436.8 84.8,441.6 85.4,443.3 86.1,444 86.8,444.1 88.1,443.1 90.8,440.4 91.8,438.5 92.4,435.3 93.8,423.5 94.1,421.6 94.4,421 94.8,421.8 95.1,423.7 96.8,435.2 97.8,440 98.8,442.1 99.4,442.6 100.1,442.8 101.1,442.8 102.4,442.4 103.8,441.7 105.8,440.1 107.1,439.9 108.1,440.2 109.8,443.5 110.1,443.9 110.8,444.1 112.8,443 114.1,442.6 115.1,442.5 117.1,442.8 118.1,442.5 119.1,442 121.8,439.5 122.8,439.2 123.8,439.1 124.4,439.7 125.8,442 126.4,442.7 128.1,443.8 130.1,445.6 131.1,445.8 131.8,445.5 132.4,444.8 135.1,440.7 136.1,439.8 136.8,439.4 137.8,439.4 138.8,439.7 139.4,440.3 140.8,442 141.4,442.3 144.4,441.7 147.8,442.7 148.4,442.6 149.1,442.2 151.4,439.8 152.1,439.4 152.8,439.3 153.8,439.8 154.1,440.3 155.8,445.5 156.4,446.7 156.8,447 157.4,447.2 159.8,446.7 161.4,447.4 162.1,447.6 163.1,447 164.1,445.8 168.4,437.1 169.4,434 170.8,428.3 171.1,427.8 171.4,428.5 171.8,430.2 172.8,437.6 173.4,441.1 174.1,442.7 174.8,443.2 175.4,443.2 177.8,442.6 179.1,442 180.4,440.5 182.8,436.5 183.1,436.3 184.1,437.8 184.4,438 184.8,437.6 185.8,435.3 186.1,435.6 186.4,436.8 187.8,443 188.4,444.2 189.1,444.5 189.8,444.4 190.4,444 192.4,442 193.1,441.7 193.8,441.8 195.8,442.9 197.1,442.8 201.8,439.3 202.8,438.8 203.4,439.2 204.8,441.4 205.8,442.1 206.4,442.2 208.8,441.4 212.1,442.5 213.8,442.6 214.8,442.5 215.8,441.8 216.4,441 219.1,436.4 220.1,435.6 220.8,435.4 221.1,435.6 221.4,436.3 222.8,440.6 223.4,441.5 223.8,441.5 224.4,441 228.1,437.2 229.8,435.8 230.1,435.8 232.1,439.8 232.8,440.1 234.8,439.9 236.8,440.5 237.4,441.1 238.8,442.9 239.4,443.4 240.1,443.3 240.8,443 243.8,440.2" stroke="#bcbd22"/>
<polyline points="43.8,455 57.8,455.1 58.8,455.3 60.1,456.3 60.4,456.4 60.8,456 61.1,454.9 62.1,448.7 62.4,447.8 62.8,448.7 63.1,451.1 64.1,461.3 64.8,465.3 65.4,466.8 67.4,469.4 68.1,470 68.8,470.1 70.1,468.7 70.4,468.5 70.8,468.6 71.4,469.7 72.4,472.1 72.8,472.3 73.1,472.3 74.1,471.8 74.8,471 77.1,467 78.1,465.9 78.8,465.6 79.4,465.6 81.1,466.3 82.1,466.5 82.8,466.4 84.8,465.6 85.4,465.9 85.8,466.3 87.1,469.1 87.8,470.1 88.4,470.3 89.1,470.2 91.1,469.3 91.8,469.2 92.1,469.5 92.4,470.3 92.8,471.7 94.4,485.4 94.8,485.3 95.1,483.5 96.4,471.5 97.1,468.3 97.8,466.8 98.4,466 99.1,465.5 100.1,465.2 101.1,465.3 102.1,465.8 104.4,468 106.4,469.4 107.1,470.7 108.1,473.8 108.4,474.5 108.8,474.8 109.4,474.6 110.1,474.1 112.8,469.7 113.4,468.9 114.1,468.6 114.8,469.2 115.1,470 116.4,474.2 116.8,474.5 117.8,474.2 119.8,472.3 123.4,467 124.4,466 125.4,465.6 126.1,465.7 126.8,466.1 129.8,468.7 131.4,469.4 133.1,470.6 133.8,470.6 136.4,468.7 137.4,467.5 139.8,464 140.4,463.4 141.1,463.2 141.8,463.3 143.8,464.7 144.4,464.9 145.8,464.7 148.1,464 148.8,464 150.1,464.9 152.1,467.2 152.8,467.7 153.4,467.9 155.1,466.9 155.8,466.9 157.4,469.2 158.1,469.4 159.1,469.3 161.8,468.4 164.4,467.8 167.1,466.6 168.1,466.7 169.8,467.7 170.4,468.4 171.1,469.8 172.1,472.8 172.4,473.5 172.8,473.6 173.8,472.8 176.1,469.2 177.1,468.2 178.1,467.9 179.8,468.4 180.8,468.2 185.1,464.8 185.8,465.1 186.1,465.6 187.4,468.9 188.1,469.5 189.1,469.8 190.1,469.4 192.4,466.7 193.8,466 195.1,465.9 197.4,466.5 199.8,466.7 200.8,466.6 202.4,466 202.8,466.1 203.4,467.2 204.8,474.6 205.1,475.9 205.4,476.1 205.8,475.3 206.8,471 207.4,469.5 208.8,469.2 209.4,468.8 211.8,466 212.8,465.3 213.4,465.3 215.4,466.1 217.4,465.1 218.4,465.2 221.4,467.2 223.4,470.1 226.4,468.4 229.1,466.2 230.4,465.8 231.1,465.9 231.8,466.4 233.4,469.1 234.1,469.2 235.4,469 236.8,468.2 238.8,465.7 239.8,465.3 240.8,466 242.8,469 243.8,470" stroke="#17becf"/>
<polyline points="43.8,455 56.4,455 58.4,454.8 59.4,453.9 61.1,449.2 61.4,449 61.8,450 62.1,452.5 63.1,464.9 63.4,467.2 63.8,466.9 64.1,463.9 65.1,449.4 65.8,443.8 66.4,441.8 68.8,439.5 69.8,438.9 70.4,439 71.4,439.9 73.1,442.2 74.1,442.8 76.1,441.8 76.8,441.7 79.8,442.2 80.4,441.9 82.4,440.3 83.1,440.1 84.8,442.3 85.4,442.9 86.4,443.2 89.1,443.4 90.1,443.3 91.1,442.8 94.4,439 95.1,438.6 95.8,438.6 96.4,439.5 97.8,443 98.8,444.4 102.4,445.7 105.8,445.8 106.4,446.1 107.1,447 108.1,450.1 109.8,457.8 112.8,469.9 113.4,471.4 113.8,471.9 114.8,472.5 115.4,473.4 116.1,475.4 117.4,480.9 117.8,481.9 118.1,482 118.8,479.4 120.1,470.6 120.4,469.3 121.1,468 123.1,466.6 124.1,466.4 125.8,466.6 126.8,466.4 130.1,464.6 130.8,464.7 131.4,465 133.4,467.5 134.8,467.9 137.8,467.7 140.8,468.2 141.8,467.8 143.4,466.4 144.4,466.1 147.8,467.3 151.8,467.5 154.8,467.3 155.8,467.9 157.4,469.8 158.1,469.4 159.8,467.4 160.1,467.4 160.4,467.9 160.8,469.3 162.1,478.7 162.4,478.5 163.8,465.3 164.4,460.6 165.4,457.3 169.4,448.2 170.8,441.1 171.1,440.4 171.4,441.1 172.4,445.3 172.8,445.8 173.1,446 174.1,445.7 176.1,444.5 179.4,443 181.8,441.7 182.8,441.3 183.4,441.9 185.1,444.8 186.1,445.6 187.1,445.5 189.8,444.4 190.8,444.2 191.8,444.4 192.4,445 193.8,447.1 195.4,451.3 197.1,456.9 199.8,467.5 200.4,469.4 201.1,470.3 201.8,470.3 203.4,468.4 204.4,467.9 205.1,468.2 206.1,469.3 206.8,469.6 211.4,468.5 214.8,466.7 215.8,466.8 217.4,467.7 218.1,467.9 220.1,467.3 220.8,467.3 221.4,467.8 221.8,468.3 223.1,472.2 223.4,472.9 223.8,473.1 224.8,472.4 226.8,469.5 227.8,468.4 228.8,467.6 231.4,466.2 232.1,466.2 233.4,467.1 234.4,467.1 236.8,467.8 239.1,467.2 241.4,467.7 242.4,467.4 243.8,465.8" stroke="#1f77b4"/>
<polyline points="43.8,455 56.4,455 58.4,455.2 59.4,455.9 60.8,459.5 61.1,459.9 61.4,459.3 61.8,457.4 62.8,450 63.1,450.4 64.1,459.2 64.8,462.8 65.1,463.3 66.1,463 66.8,463.3 68.4,464.6 69.1,465.8 69.4,467.4 70.4,477.1 70.8,478 71.8,470.8 72.1,469.8 72.4,470.4 73.8,480.9 74.1,482.8 74.4,483.2 74.8,481.9 76.1,470.9 76.4,469.5 76.8,468.8 77.1,468.6 78.8,469.5 79.4,469.5 81.4,468.3 82.4,468.2 85.8,469 87.1,469.6 89.1,469.3 92.4,469.9 94.4,471.4 95.8,470.8 98.4,469.1 102.1,467.9 104.1,467.8 106.4,468.4 107.1,469.1 108.4,471.6 108.8,471.8 109.4,471.9 110.4,471.4 113.1,468.6 114.4,467.7 115.1,467.9 116.4,469.1 117.8,468.8 119.4,469 120.4,468.8 121.1,468.3 124.1,464.9 124.8,464.5 125.4,464.6 126.4,465.1 128.4,467 129.4,467.7 130.4,467.8 132.1,467.3 135.1,468.4 135.8,469.1 136.4,470.9 136.8,472.7 137.8,480.1 138.1,481.6 138.4,481.8 138.8,480.6 139.8,473.3 140.4,469.9 141.1,468.5 141.8,468.3 144.8,468.4 147.4,467.6 148.4,467.6 149.8,467.8 151.8,468.7 152.8,468.9 153.4,468.7 155.1,467.4 155.8,467.1 156.4,467.3 157.4,468.3 158.4,468.9 159.4,469 162.1,467.7 164.1,467.7 165.1,467.6 167.1,466.3 168.1,466 169.1,466.4 170.1,467.3 170.8,468.3 172.4,471.8 173.1,472.1 173.8,471.9 174.4,471.4 176.1,469.5 177.1,468.7 178.1,468.5 180.4,468.8 181.1,468.6 182.8,467.4 183.4,467.2 184.1,467.3 185.1,467.7 187.4,469.6 189.1,469.2 191.8,469 194.1,467.4 195.1,467.1 198.1,467.6 200.1,467.1 202.4,467.3 204.8,467.1 207.1,468.5 208.8,468.9 210.1,468.3 212.8,465.5 213.8,465.1 217.4,466.1 218.4,466 220.4,465.2 221.1,465.1 222.1,466.1 223.4,468.8 223.8,469.1 224.4,469.4 225.4,469 227.8,466.2 228.8,465.8 231.4,466.8 233.1,468.1 233.8,468.3 237.1,468.2 243.8,467.4" stroke="#ff7f0e"/>
<polyline points="43.8,455 57.1,455 58.4,454.8 59.1,454.4 59.8,453.3 60.1,452.3 61.4,445.6 62.8,440.1 64.1,430.4 64.4,429 64.8,429.2 65.1,431 66.1,440.5 66.8,444.5 67.4,446.1 68.8,447.5 70.1,448 70.8,448 71.4,447.4 72.1,446.1 72.8,443.7 74.1,434.1 74.4,433.4 74.8,434.4 75.8,441.4 76.4,443.7 76.8,444 77.4,443.5 80.4,437.6 81.1,436.7 81.8,436.5 82.4,436.8 83.1,437.7 84.8,443.4 85.4,444.8 85.8,445.2 86.4,445.4 88.8,444.4 89.8,443.6 91.1,441.9 93.1,437.9 94.1,433.8 95.1,427 95.4,425.7 95.8,425.6 96.1,427.1 97.4,438 98.1,441 98.8,442.3 99.8,443.1 100.4,443.3 101.1,443.3 102.1,442.8 104.1,441.1 105.1,440.4 106.4,440 107.8,440.1 108.4,440.7 110.4,444.4 111.1,445 112.1,445.4 113.4,445.1 117.1,443.1 120.8,439.9 121.8,439.4 122.8,439.1 123.4,439.2 124.1,439.5 125.8,442.3 126.4,442.9 127.1,442.9 128.8,442.2 129.8,442 130.4,442.3 132.8,444.1 133.4,444.2 134.1,443.9 136.8,440.9 137.4,439.7 138.1,436 138.8,430.4 139.1,429.5 139.4,431 140.8,443.2 141.1,444.3 141.8,445 144.8,444.3 145.4,444.4 147.1,445.3 147.8,445.3 148.8,444.3 151.4,439.6 152.1,438.9 152.8,438.7 153.8,438.7 154.1,438.9 156.1,442.5 156.8,443 157.4,443 160.1,442.3 162.1,442.4 163.1,442.2 167.1,440.3 169.4,437.9 170.1,437.5 170.8,437.4 171.4,438.3 173.1,442.7 173.4,443.2 174.1,443.6 175.1,443.5 176.8,442.7 179.8,439.9 181.1,439.3 182.4,439.4 183.1,439.8 184.8,443.4 185.4,444.2 188.8,444.8 189.8,444.6 192.1,443.4 194.8,441.4 196.1,441.3 198.1,442.3 198.8,442.3 199.4,441.9 201.1,440.2 202.1,439.9 202.8,440 203.1,440.3 204.8,443.5 205.4,444.2 206.1,444.2 208.4,442.4 209.4,442.1 210.4,442.5 212.8,444.6 213.4,444.9 214.1,444.9 214.8,444.6 215.4,443.9 219.4,438.7 220.1,436.7 221.1,431.9 221.4,431.8 221.8,433 223.1,442.4 223.4,443.4 223.8,443.8 224.1,443.8 224.8,443.1 227.4,438.4 228.1,437.7 228.8,437.5 229.4,437.7 230.1,438.6 231.4,442.9 232.1,444.4 232.4,444.6 233.1,444.5 235.1,442.1 236.4,441.4 237.1,441.4 239.4,443.7 240.8,444.2 241.4,444.2 242.1,443.9 243.8,442.1" stroke="#2ca02c"/>
<polyline points="43.8,455 56.1,455 58.1,455.2 58.8,455.6 59.4,456.6 60.8,460.9 61.4,462.4 61.8,462.5 62.8,462.1 63.1,462.4 64.4,465.7 64.8,465.9 65.1,465.9 66.4,465.1 67.4,465 69.1,465.7 70.1,465.8 70.8,466.3 71.4,467.5 72.1,469.9 72.8,475.5 73.4,484.1 73.8,485.1 75.1,468.1 75.4,466.4 75.8,465.7 76.4,465.2 78.1,464.9 79.8,463.9 80.8,463.7 82.8,464.6 84.8,464.6 85.4,464.8 86.1,465.6 87.1,467.4 87.8,468 88.8,467.7 90.4,466.8 91.4,466.9 92.1,467.4 92.8,468.5 94.1,471.9 94.4,472.3 94.8,472.3 95.1,471.9 97.4,468.7 98.4,467.7 99.8,467 102.1,466.7 103.1,466.4 106.1,464.3 106.8,464.6 107.1,465.2 108.1,468.1 108.8,469.2 109.4,469.2 110.1,468.9 113.1,465.7 113.8,465.7 114.1,465.9 114.8,467.1 116.1,471.9 116.4,472.7 116.8,473 117.4,472.7 118.4,471.8 122.4,466.2 123.4,465.3 124.8,464.6 126.1,464.7 129.1,466.7 131.4,467.4 133.1,469.4 133.8,469.7 134.4,469.3 135.1,468.6 137.1,465.4 142.4,455.2 145.8,447.1 146.8,445.9 147.4,445.7 149.1,446.2 149.8,446.1 150.8,445.6 152.8,444.1 153.8,443.8 154.4,444.1 156.4,446.7 157.4,447 158.4,446.7 160.8,445.6 163.4,445.8 166.1,444.8 169.1,444.7 171.1,443.8 173.4,446 179.1,446.8 179.8,447.3 180.8,448.6 181.8,450.8 183.1,454.7 186.4,468.4 187.4,471.2 187.8,471.3 188.1,471 190.4,467.5 193.1,464.3 194.4,463.5 195.4,463.6 197.4,464.4 198.4,464.5 201.1,464.1 203.8,462.8 204.4,462.9 205.1,463.5 206.4,466 206.8,466.4 207.4,466.7 208.4,466.3 210.4,464.2 211.4,463.6 212.4,463.8 213.8,464.7 214.8,465.1 215.4,465.1 217.4,464.3 218.1,464.3 219.1,465 219.8,466.5 220.4,470 221.4,478.5 221.8,479.9 222.1,479.9 223.4,472.6 223.8,471.2 224.4,469.6 227.1,467.4 230.8,462.5 231.4,462 232.8,461.6 233.4,460.9 236.4,453.6 237.4,451.9 238.1,451.5 240.1,451.5 241.1,451.1 242.1,450 243.8,447.4" stroke="#d62728"/>
<polyline points="43.8,455 56.1,455 58.1,454.7 58.8,454.1 59.1,453.5 60.8,447.3 61.1,446.5 61.4,446.5 62.1,449 62.8,453.5 63.1,454.7 63.4,454.6 64.4,449.7 64.8,448.7 65.1,448.3 65.4,448.3 67.1,449.6 68.1,449.8 69.1,449.2 70.1,448.3 71.4,446.3 72.1,443.9 73.4,434.4 73.8,433.3 74.1,433.6 75.1,437.8 75.8,439.1 78.1,440 78.8,440 79.8,439.2 81.8,436.8 82.4,436.5 82.8,436.5 83.4,437.7 84.8,441.8 85.1,442.5 85.8,443.1 86.8,442.8 89.1,441 89.8,441 91.1,441.4 92.1,441.4 94.8,439.9 95.8,439.5 96.1,439.7 96.4,440.2 98.1,444.3 99.1,445.1 99.8,445.1 100.4,444.8 103.1,443 105.1,442.9 107.4,442.5 108.1,442.7 109.8,445 110.4,445.5 111.1,445.5 112.8,444.8 113.4,444.8 116.1,446.1 118.1,446.5 119.4,445.7 121.8,443.1 122.8,442.5 123.8,443 125.8,446.6 126.4,447.3 127.1,447.5 127.8,447.4 129.4,446.2 130.4,445.8 131.4,446.1 133.1,447.3 134.1,447.5 135.1,446.6 137.1,443.6 137.8,443.1 138.4,443 139.1,443.2 139.4,443.6 141.4,446.9 142.1,447.3 142.8,447.4 144.1,446.7 148.4,442.8 150.8,441.9 152.1,441.6 153.1,441.7 154.1,442.5 155.8,446.7 156.1,447.3 156.8,447.9 157.4,447.9 159.8,446.4 161.8,445.9 162.8,445.5 163.8,444.8 167.1,441.7 168.1,441.1 169.4,440.7 171.1,440.5 172.8,443.2 173.4,443.9 174.8,444.6 175.8,444.7 177.1,443.9 179.4,441.2 180.8,440 182.1,439.3 183.4,439.2 183.8,438.5 184.8,431.6 185.1,432 186.1,442.3 186.4,444 186.8,444.6 187.1,444.7 188.4,444.1 189.4,444.2 191.8,445.9 192.4,446.2 197.4,446 198.4,445.5 200.8,443.8 203.1,443.3 205.4,445.3 209.1,447.2 209.8,447.4 210.4,447.3 211.4,446.8 214.1,444.6 216.4,443.2 217.8,441.6 220.1,437.9 220.8,437.3 221.1,437.3 221.4,437.7 222.8,440.7 223.1,441.1 223.8,441.4 224.8,440.8 226.4,438.5 227.1,437.8 227.8,437.5 228.8,437.8 230.1,439.1 231.8,443.9 232.4,445 233.1,445.5 233.8,445.6 234.4,445.5 235.4,445 236.8,443.9 237.4,443.8 240.1,446.6 240.8,447.1 241.4,447.2 242.4,446.5 243.8,444.7" stroke="#9467bd"/>
<polyline points="43.8,455 56.1,455 57.4,455.1 58.1,455.4 58.8,456.1 59.4,457.7 61.1,464.1 61.8,465.3 62.4,465.6 62.8,465.3 63.1,463.4 63.8,453.3 64.1,450.9 65.1,462.6 65.4,463.6 65.8,463.7 66.8,463.3 67.8,463.4 70.1,464.5 71.1,465.6 72.4,468.5 73.1,469 73.8,468.9 76.1,466.7 77.4,466.1 79.4,466.4 82.4,466.3 85.8,467 87.4,467.8 90.8,466.8 92.4,466.5 93.1,466.8 94.4,468 97.4,467.5 100.1,468.3 101.1,468.3 102.4,467.5 105.4,463.8 106.1,463.4 106.4,463.4 107.1,464.1 107.8,465.8 109.4,475.7 109.8,476.1 111.1,469 111.4,468 112.1,467.2 113.1,466.8 114.1,466.9 115.1,467.9 116.1,469.5 116.4,469.8 116.8,469.8 118.1,468.9 120.1,466.8 121.4,465.7 122.4,465.3 124.4,464.9 126.4,464 127.8,464.2 130.1,465.7 132.1,466.1 135.8,468.4 136.4,470 137.4,474.8 137.8,474.8 139.1,468.3 139.4,467.6 140.1,466.9 141.1,466.5 142.4,466.3 145.8,466.7 147.4,466.5 148.8,466.2 152.1,464.9 153.8,465.1 155.1,465.8 155.8,466.6 157.1,468.8 157.4,469.2 158.1,469.4 159.1,469.1 161.4,467.2 162.4,466.7 165.4,467.1 168.1,466.8 169.8,466.9 170.8,467.2 172.1,468.3 172.4,468.3 177.8,464.7 180.4,463.7 182.4,463.3 183.4,463.4 184.4,464 185.8,465.3 187.1,467.2 187.8,467.6 189.1,467.2 191.1,465.4 192.8,464.5 193.8,464.5 196.4,465.2 200.1,465 202.4,463.7 203.4,463.5 204.1,463.7 204.8,464.2 206.4,466.7 207.1,467.2 208.1,467.2 211.1,466.9 213.8,467.6 215.4,467 218.1,464.7 219.1,464.4 219.8,464.5 221.1,465.3 222.8,467.7 223.4,468.4 224.1,468.1 229.4,464.4 230.4,464 231.1,464.2 231.8,464.7 233.8,467.3 234.4,467.6 235.4,467.5 238.1,466 240.4,465 241.4,464.1 243.8,461.1" stroke="#8c564b"/>
<polyline points="43.8,455 56.1,455 58.1,454.7 59.1,453.7 61.1,447.8 61.4,447.2 61.8,447.1 62.1,448.4 62.4,452.9 63.1,466.8 63.4,465.6 64.1,450.5 64.4,446.7 64.8,445.5 65.1,445.3 66.1,445.6 68.1,447.5 68.8,448 71.1,448.1 72.8,448.8 73.8,448.9 74.8,448.7 77.1,447.4 78.1,446.5 79.8,444.2 80.4,443.8 80.8,443.9 81.4,444.7 82.4,447.1 85.1,457.5 87.4,464 88.1,465 88.8,465.4 90.8,465.4 91.8,465.9 92.8,466.8 94.1,468.7 94.8,469 96.1,468.5 97.1,467.7 98.1,466.5 99.1,464.8 101.8,459.3 104.8,450.7 105.8,448.5 106.4,447.8 108.1,446.9 109.4,447.2 110.8,447.2 111.4,447.5 111.8,447.9 112.4,449.6 116.1,467 116.8,468.9 117.4,469.7 118.1,469.9 118.8,469.6 121.1,467.4 123.4,466 125.8,463.7 126.8,463.2 127.4,463.3 128.1,463.6 130.8,466.4 133.1,468 133.4,468.1 134.1,467.8 136.8,465.4 137.8,465 140.8,466 143.1,466.2 145.1,467.1 146.1,467.3 147.4,466.5 148.4,465.5 149.4,463.8 150.4,461.6 151.4,458.4 153.4,449.5 154.1,447.7 154.4,447.5 154.8,447.9 156.4,451.8 156.8,452 157.1,452 157.8,451.2 159.4,447.7 160.4,446 161.1,445.3 163.1,444 164.4,442.8 165.8,441.2 167.4,438.6 168.4,437.5 169.4,437.1 170.8,437.4 171.4,438.4 172.8,441.7 173.4,442.1 175.4,441 177.4,440.9 178.4,440.5 179.4,439.5 181.4,436.5 182.4,435.6 182.8,435.6 183.1,435.9 184.1,438.6 184.4,439 184.8,438.8 185.8,435.7 186.1,435.7 187.8,444.5 188.1,445.3 188.8,446 190.4,446.2 191.1,446 194.1,444.1 197.4,444.1 199.4,443.4 200.4,442.6 201.4,440.2 202.8,432.6 203.1,431.2 203.4,430.9 204.1,433.8 205.1,440.7 205.8,443.2 206.4,443.9 207.8,444.2 208.4,444.6 210.4,446.4 211.8,448.1 214.4,452.6 216.1,454.5 217.1,454.8 219.1,453.5 219.8,453.7 220.1,454.1 221.1,456.7 223.4,466.6 224.4,468.3 225.1,468.7 225.8,468.5 228.4,465.8 229.1,465.4 229.8,465.2 231.4,466 233.1,467.8 233.8,468.2 236.1,468.8 236.8,468.7 239.4,467.4 240.4,467.3 241.4,467.9 243.8,470" stroke="#e377c2"/>
<polyline points="43.8,455 57.1,455 58.4,455.3 59.1,455.8 60.1,458 61.4,463.5 62.8,466.2 63.1,467.8 64.1,476.9 64.4,476 65.1,469.6 65.4,467.7 65.8,466.9 66.8,466.2 69.1,466.2 70.8,465.3 71.4,465.5 72.8,466.9 74.1,467.5 74.8,467.3 75.8,465.9 77.4,462.2 78.1,461.3 78.8,460.9 79.1,460.9 79.8,461.3 81.1,462.9 82.1,463.7 83.1,463.7 85.1,463.1 85.8,463.3 87.4,465.2 88.1,465.6 89.1,465.7 91.1,464.9 92.1,465.1 92.8,465.9 94.1,468.8 94.8,469.6 95.1,469.6 95.8,469.2 97.8,466.5 98.4,465.9 99.1,465.7 101.1,466.1 102.1,466 105.1,463.8 105.8,463.8 106.4,464.3 107.1,465.4 108.1,467.9 108.8,468.9 109.8,468.9 112.4,466.6 113.8,466.2 114.8,466.8 116.1,469 116.4,469.3 116.8,469.3 120.1,466.9 122.1,466.3 123.1,465.8 126.1,462.9 127.1,462.2 127.8,462.1 128.4,462.2 131.8,463.6 134.1,465.5 135.4,466 136.1,465.9 136.8,465.5 139.8,462.5 141.1,462.1 142.1,462.4 145.1,464.4 149.4,466.3 150.8,466.5 155.8,466.2 157.4,467.3 158.8,467.7 159.8,467.6 160.4,467.3 163.1,464.7 163.8,464.5 164.4,464.5 167.1,466.3 168.1,466.6 169.8,466.5 170.4,466.9 171.1,467.7 172.1,469.8 172.8,470.4 173.8,469.8 176.1,466.9 177.1,466.2 179.4,465.4 180.8,464.3 182.8,462 184.1,461.3 185.1,461.5 185.8,462.2 187.8,466.1 188.8,467 189.8,467.3 190.8,467 192.8,465.1 193.8,464.7 196.1,465.3 198.1,464.9 199.1,465 202.4,466.2 204.4,466 206.4,466.9 207.4,466.5 210.4,464.6 211.8,464.2 214.1,464.6 216.4,465.8 218.4,466.5 219.4,466.3 221.1,465.2 221.8,465.1 222.4,465.4 223.4,466.4 223.8,466.5 227.8,466.3 228.8,466 231.1,464.4 231.8,464.5 233.1,465.9 233.8,466.2 234.8,465.8 237.1,464 237.8,463.8 239.8,464.1 241.1,463.7 242.1,462.9 243.8,460.9" stroke="#7f7f7f"/>
<polyline points="43.8,455 56.8,455 58.1,454.8 58.8,454.4 59.4,453.2 60.1,450.4 60.8,445.2 61.8,434.2 62.1,431.6 62.4,430.7 62.8,431.7 63.8,439.6 64.4,442.5 65.1,443.4 66.8,444.7 69.1,445.2 69.8,445.8 70.4,447.5 71.8,454.8 72.1,455.8 72.4,456 73.1,455.7 73.4,456 75.1,458.7 76.1,459.5 77.1,459.5 78.8,458.6 79.8,458.8 80.4,459.5 82.8,463.1 83.8,464.2 85.8,465.8 87.1,467.8 87.8,468.5 88.8,468.4 91.4,466.6 92.1,466.6 92.4,466.8 93.1,467.9 94.4,471.2 94.8,471.6 95.8,471.3 97.8,469.4 100.1,468 102.8,465.3 103.8,464.7 106.1,464.9 106.8,465.2 108.4,468.6 108.8,469 109.4,469.2 110.8,468.9 111.4,468.5 113.1,466.7 113.8,466.3 114.1,466.3 114.8,467 116.1,470.7 116.4,471.4 116.8,471.6 117.4,471.5 118.1,471.1 120.4,468.5 121.4,467.8 122.1,467.5 124.8,466.9 126.8,466.2 129.1,466.3 130.1,465.7 131.8,463.7 132.4,463.4 134.1,464.2 136.8,466 138.4,466.4 141.8,466.1 144.4,466.6 147.8,465.1 151.1,465.3 155.1,465 155.8,465.2 157.1,466.6 157.8,466.9 161.8,465.6 165.8,465.4 166.8,465.5 168.4,466.1 170.4,467.2 171.1,468.2 172.1,470.2 172.4,470.7 172.8,470.7 173.8,469.9 175.8,467.6 176.8,467 177.8,467 179.8,467.9 180.8,468.1 182.4,467.7 185.4,466.4 186.1,466.6 187.1,467.6 187.4,467.7 188.1,467.2 189.4,465.2 191.1,461.1 193.1,454.5 195.4,445.8 196.4,442.9 197.1,441.9 197.4,441.6 198.1,441.7 199.1,442.5 200.8,444.4 201.4,444.8 201.8,444.7 202.4,443.2 203.4,436.7 203.8,435 204.1,434.6 204.4,435.8 205.8,445.6 206.1,446.8 206.8,447.8 207.8,447.5 210.1,445.7 211.1,445.3 211.8,445.3 213.8,446.1 214.8,446 215.8,445.3 217.4,443.5 218.4,442.8 220.1,442.9 221.1,443.5 223.8,450.4 226.8,456.7 230.1,467.1 231.1,468.8 231.4,468.9 232.1,468.7 233.1,468.2 234.8,466.8 239.4,464.7 241.1,464.6 243.8,465.4" stroke="#bcbd22"/>
<polyline points="43.8,455 58.1,455 59.4,455.4 60.1,456.1 60.8,457.8 61.1,459.3 61.8,463.9 63.1,480.6 63.8,486.2 64.1,485.8 64.4,483.4 65.4,472.1 66.1,467.6 66.4,466.4 67.1,465.2 68.1,464.1 68.8,463.8 69.8,464.2 70.4,465 71.1,466.8 72.4,472.1 72.8,472.6 73.1,472.7 73.8,472.3 74.4,471.3 76.8,466.3 77.4,465.2 78.1,464.5 78.8,464.4 80.8,464.7 83.4,464.5 84.4,464.8 85.4,465.7 87.1,469.2 87.8,470 89.4,470.2 91.8,468.9 92.4,469 93.1,470.2 94.1,473.4 94.4,474.2 94.8,474.4 95.8,474 96.4,473.2 99.4,467.9 100.4,466.8 101.4,466.2 102.1,466.2 106.1,467 106.8,467.9 108.1,472.1 108.4,472.9 108.8,473.2 109.8,472.8 110.4,472.2 113.1,468.4 113.8,468.1 114.1,468.2 114.8,469.3 116.1,474.5 116.4,475.4 116.8,475.8 117.8,474.9 120.1,470.7 121.4,469.2 122.4,468.8 125.1,468.5 128.1,466.9 129.8,466.9 130.4,467.2 131.4,468.1 133.1,470.9 133.8,471.6 135.1,471.5 136.8,470.5 137.1,470.6 137.4,471.2 137.8,472.9 138.8,481.6 139.1,481.9 140.4,469.6 140.8,468.3 141.1,467.8 141.4,467.7 143.8,468 147.8,466.7 149.4,466.6 152.1,467.6 153.8,467.6 155.1,468 156.1,469 157.1,470.8 157.4,471.2 157.8,471.2 158.4,470.8 159.1,470.1 161.1,466.8 162.4,465.1 163.4,464.3 164.4,464.2 165.8,464.6 168.1,465.9 169.4,466.2 170.1,466.5 170.8,467.6 171.1,468.6 172.4,473.2 172.8,473.6 173.1,473.6 173.8,473.2 174.4,472.5 177.1,468 178.1,466.6 178.8,466.1 179.8,466 182.4,467.4 184.4,467.7 185.1,468 186.1,469.9 187.4,474.3 187.8,474.8 188.1,474.9 188.8,474.7 189.4,474.1 192.1,469.5 193.4,467.7 195.4,465.9 196.8,465.1 198.1,465.2 200.8,466.7 203.8,467.6 204.8,468.5 205.8,470.1 206.4,470.8 206.8,470.8 209.1,469.2 211.8,468.5 214.4,465.9 215.1,465.5 215.8,465.5 216.8,465.8 218.4,467.4 220.4,468.3 220.8,468.7 221.4,471.2 222.4,477.2 222.8,477.8 223.1,477.4 224.4,473.9 228.4,469.3 230.1,467.7 230.8,467.4 231.4,467.4 232.1,468.1 233.1,469.7 233.4,470.1 233.8,470.1 234.8,469.4 237.4,466.6 241.1,465 243.8,463.3" stroke="#17becf"/>
<path d="M33.25 455H254" stroke="#1f1fff" stroke-width="0.9" stroke-dasharray="2.4 1.2" fill="none"/>
<path d="M43.75 455H58.8" stroke="#17becf" stroke-width="1.5"/>
</g>
<rect x="306.5" y="417" width="221.2" height="76.25" fill="#fff"/>
<g clip-path="url(#cc1)" fill="none" stroke-width="0.65" stroke-linejoin="round">
<polyline points="317.2,454.3 327.2,454.3 328.9,454.5 330.2,454.9 331.6,455.9 332.6,457.4 335.9,465.7 336.9,467.4 337.9,468.4 338.9,468.9 339.9,469.1 345.2,469.3 347.9,470 350.6,471.5 355.2,475.6 357.9,477.4 361.6,478.7 366.2,479.6 372.9,480.1 381.9,480.3 517.2,480.3" stroke="#1f77b4"/>
<polyline points="317.2,454.2 327.6,454.2 329.6,453.9 330.9,453.3 331.9,452.3 332.9,450.7 336.2,441.4 336.9,440 337.9,438.6 339.2,437.6 342.6,436.1 344.6,435 349.9,430.2 351.9,428.7 354.6,427.6 357.6,426.9 365.9,426.3 377.6,426 517.2,426" stroke="#ff7f0e"/>
<polyline points="317.2,454.2 327.9,454.1 329.6,453.7 330.6,452.8 331.6,450.9 332.2,448.7 334.6,436.1 335.6,432.3 336.2,430.8 336.9,430 337.9,429.3 338.9,429.1 353.6,429.4 378.9,428.7 517.2,428.7" stroke="#2ca02c"/>
<polyline points="317.2,454.2 329.2,454.2 331.2,453.9 332.6,453.2 333.6,452 334.6,449.7 337.2,439 338.2,435.8 338.9,434.4 339.6,433.6 340.6,432.9 341.6,432.7 343.6,432.7 350.6,433.4 354.6,433.5 358.2,433.2 370.2,431.8 380.9,431.5 517.2,431.5" stroke="#d62728"/>
<polyline points="317.2,454.2 327.6,454.1 329.2,453.7 330.6,452.7 331.6,450.9 332.6,447.6 335.2,433.2 336.2,429.3 336.9,427.8 337.6,426.7 338.6,425.9 339.9,425.5 342.2,425.4 354.9,425.7 369.9,425.2 380.2,425.1 517.2,425.1" stroke="#9467bd"/>
<polyline points="317.2,454.3 327.9,454.4 329.9,454.8 331.6,455.6 332.9,457.1 333.9,459 336.9,467.5 338.2,470.4 338.9,471.4 339.9,472.3 340.9,472.8 341.9,473 343.9,472.9 350.6,472.1 354.6,472 358.2,472.3 370.2,474.1 380.9,474.5 517.2,474.6" stroke="#8c564b"/>
<polyline points="317.2,454.2 327.2,454.1 329.2,453.4 330.6,452.2 331.6,450.3 332.6,447.1 335.2,433.2 336.6,427.9 337.2,426.2 338.2,424.7 339.2,424 340.2,423.7 342.2,423.7 349.2,424.6 353.6,424.9 357.9,424.6 369.9,422.8 378.9,422.4 517.2,422.3" stroke="#e377c2"/>
<polyline points="317.2,454.2 324.2,454.2 327.2,454 329.2,453.3 330.6,452.1 331.9,449.5 332.9,446.1 335.9,431 337.2,426.3 337.9,424.8 338.9,423.4 339.9,422.6 341.6,422.1 343.9,422 354.9,422.2 369.9,421.6 379.9,421.4 517.2,421.4" stroke="#7f7f7f"/>
<polyline points="317.2,454.3 326.9,454.4 328.6,454.8 329.9,455.6 330.9,457 331.9,459.2 334.9,470.8 336.2,474.5 336.9,475.7 337.9,476.7 338.9,477.2 340.2,477.5 355.2,477.5 379.9,477.9 517.2,477.9" stroke="#bcbd22"/>
<polyline points="317.2,454.3 326.6,454.5 328.6,455 330.2,456.2 331.6,458.2 332.6,460.7 335.9,473.2 337.2,476.9 337.9,478.1 338.9,479.3 339.9,479.9 340.9,480.2 342.9,480.2 349.6,479.2 353.6,479 357.9,479.4 369.9,481.4 378.9,481.9 517.2,482" stroke="#17becf"/>
<polyline points="317.2,454.2 326.9,454.2 328.9,453.9 330.2,453.5 331.2,452.8 332.2,451.6 335.6,444.8 336.6,443.2 337.6,442.3 339.6,441.4 344.2,440.8 346.6,440.1 348.9,438.9 353.2,435.7 355.2,434.5 357.9,433.5 361.2,432.9 367.6,432.5 378.2,432.4 517.2,432.4" stroke="#1f77b4"/>
<polyline points="317.2,454.3 328.6,454.3 330.2,454.5 331.6,454.9 332.6,455.7 333.6,457.3 336.6,465.6 337.2,466.8 338.2,467.9 339.6,468.5 344.2,469.1 346.6,469.9 348.6,471.1 353.2,474.7 356.6,476.4 360.9,477.7 367.2,478.8 373.6,479.3 382.6,479.5 517.2,479.5" stroke="#ff7f0e"/>
<polyline points="317.2,454.3 327.6,454.4 329.6,454.7 330.9,455.2 332.2,456.2 333.2,457.6 336.2,463.6 337.9,466 339.6,467.3 347.9,472.1 351.6,473.1 368.6,475.6 374.6,476 383.2,476.2 517.2,476.2" stroke="#2ca02c"/>
<polyline points="317.2,454.3 330.6,454.3 332.2,454.5 333.6,455.2 334.6,456.7 335.2,458.5 337.6,470.2 338.6,473.8 339.2,475.2 339.9,476 340.9,476.6 341.9,476.8 378.9,477 517.2,477" stroke="#d62728"/>
<polyline points="317.2,454.2 328.9,454.1 330.6,453.8 331.9,453 332.9,451.7 333.9,449.3 336.6,437.7 337.9,433.4 338.6,432.1 339.2,431.3 340.2,430.7 341.2,430.5 343.2,430.4 350.2,430.8 354.6,430.9 370.2,429.9 380.9,429.7 517.2,429.6" stroke="#9467bd"/>
<polyline points="317.2,454.2 328.2,454.1 330.2,453.6 331.6,452.6 332.6,451.1 333.6,448.7 336.6,436.3 337.9,432 338.6,430.7 339.6,429.4 340.6,428.7 342.2,428.3 355.6,428.3 379.2,427.8 517.2,427.8" stroke="#8c564b"/>
<polyline points="317.2,454.2 327.9,454.1 329.6,453.7 330.9,452.6 331.9,450.6 332.9,447.1 335.2,433.5 336.6,427.7 337.2,426.1 337.9,425.1 338.9,424.3 339.9,424 341.9,423.9 349.9,424.4 354.6,424.5 370.2,423.5 380.9,423.2 517.2,423.2" stroke="#e377c2"/>
<polyline points="317.2,454.3 327.2,454.4 329.2,454.9 330.6,455.8 331.6,457.2 332.6,459.5 335.6,471.4 336.9,475.2 337.6,476.4 338.6,477.5 339.6,478.1 341.2,478.5 347.6,478.7 517.2,478.7" stroke="#7f7f7f"/>
<polyline points="317.2,454.2 324.2,454.2 327.2,454 329.2,453.3 330.6,452 331.9,449.6 332.9,446.5 336.2,430.5 337.6,425.9 338.2,424.3 339.2,422.8 340.6,421.8 341.9,421.3 344.2,421.2 355.2,421.4 369.6,420.7 379.6,420.5 517.2,420.5" stroke="#bcbd22"/>
<polyline points="317.2,454.3 327.6,454.4 329.6,454.8 331.2,455.6 332.6,457 333.6,458.8 336.9,467.3 338.2,469.8 339.9,471.5 341.2,472.1 342.6,472.3 355.2,472.2 369.6,472.8 379.6,472.9 517.2,472.9" stroke="#17becf"/>
<polyline points="317.2,454.2 328.9,454.1 330.9,453.8 332.6,453 333.9,451.3 334.9,449.1 337.9,438.3 339.2,434.7 339.9,433.5 340.9,432.5 341.9,431.9 342.9,431.7 354.9,432 369.9,430.8 380.2,430.6 517.2,430.6" stroke="#1f77b4"/>
<polyline points="317.2,454.2 328.2,454.1 330.2,453.5 331.6,452.5 332.6,450.9 333.6,448.2 334.6,444 336.6,434 337.9,429.3 339.2,427 340.2,426.2 341.2,425.9 342.9,425.9 349.6,426.9 353.6,427.1 357.9,426.8 369.9,424.7 378.9,424.2 517.2,424.1" stroke="#ff7f0e"/>
<polyline points="317.2,454.3 329.9,454.4 331.6,454.7 332.9,455.8 333.9,457.6 334.9,461.1 337.2,474.6 338.2,478.8 338.9,480.5 339.6,481.5 340.6,482.2 341.6,482.5 343.6,482.5 350.2,481.8 353.6,481.7 357.9,481.9 369.9,483.3 378.9,483.6 517.2,483.6" stroke="#2ca02c"/>
<polyline points="317.2,454.3 328.9,454.4 330.9,454.7 332.6,455.5 333.9,456.9 335.2,459.3 338.6,468.9 339.9,471.7 340.6,472.6 341.6,473.5 342.9,474.1 344.2,474.4 355.2,474.3 369.6,475.2 379.6,475.4 517.2,475.4" stroke="#d62728"/>
<polyline points="317.2,454.3 327.9,454.4 329.6,454.8 330.6,455.5 331.6,457.4 332.2,459.6 334.6,473.8 335.6,478.4 336.2,480.2 336.9,481.3 337.9,482 338.9,482.3 340.9,482.4 353.6,481.8 369.9,482.6 378.9,482.8 517.2,482.8" stroke="#9467bd"/>
<polyline points="317.2,454.2 328.2,454.2 330.6,454 331.9,453.7 333.2,452.9 334.6,451.4 337.9,444.8 339.2,442.9 340.9,441.5 346.6,438.1 348.9,437.1 351.2,436.6 369.6,433.8 375.6,433.4 383.9,433.3 517.2,433.3" stroke="#8c564b"/>
<polyline points="317.2,454.2 330.9,454.2 332.6,453.9 333.9,452.9 334.9,451 335.6,448.7 337.9,435.2 338.9,431 339.6,429.5 340.2,428.6 340.9,428.2 341.9,427.9 350.6,428.6 354.6,428.6 370.2,427.2 380.9,426.9 517.2,426.9" stroke="#e377c2"/>
<polyline points="317.2,454.3 326.9,454.3 328.9,454.6 330.2,455.2 331.2,456 332.2,457.5 335.6,466.1 336.6,468 337.6,469.1 339.2,470 343.2,470.8 345.2,471.6 347.6,473 351.9,476.8 354.2,478.5 356.9,479.6 360.6,480.3 368.2,480.9 378.9,481.1 517.2,481.2" stroke="#7f7f7f"/>
<polyline points="317.2,454.3 326.6,454.4 328.6,454.8 329.9,455.5 330.9,456.6 331.9,458.5 334.9,467.6 335.9,469.9 336.6,471 337.6,472 338.6,472.5 339.6,472.6 341.9,472.6 349.9,471.5 353.6,471.4 357.9,471.6 369.9,473.3 378.9,473.7 517.2,473.7" stroke="#bcbd22"/>
<polyline points="317.2,454.3 328.6,454.4 330.2,454.9 331.6,455.9 332.6,457.6 333.6,460.8 336.2,475.1 337.6,480.4 338.2,481.9 339.2,483.2 340.2,483.9 341.6,484.2 344.9,484.4 373.2,484.5 517.2,484.5" stroke="#17becf"/>
<polyline points="317.2,454.3 329.9,454.4 331.6,454.8 332.9,455.9 333.9,457.9 334.9,462 337.2,478.1 338.6,484.7 339.2,486.5 339.9,487.5 340.9,488.3 341.9,488.7 343.9,488.8 354.9,488.7 378.9,489.2 517.2,489.2" stroke="#9467bd"/>
<polyline points="317.2,454.3 328.2,454.4 330.9,454.7 332.9,455.1 334.6,455.9 336.2,457 341.2,462.5 343.6,464.4 344.9,464.9 346.6,465.3 348.2,465.2 349.9,464.8 351.6,463.9 352.9,462.7 354.2,461 355.2,459.4 357.2,455 361.9,442.6 363.2,439.9 364.6,437.7 366.2,435.8 368.2,434.5 370.6,433.6 373.2,433.2 377.2,433 384.9,432.9 517.2,432.9" stroke="#bcbd22"/>
<polyline points="317.2,454.3 327.2,454.4 329.9,454.6 331.9,455.1 333.6,455.8 335.2,456.9 339.9,461.7 341.9,463.3 343.2,463.9 344.2,464.1 345.6,464 346.6,463.6 347.6,462.9 348.6,461.7 350.2,458.4 351.9,453.3 355.2,440.8 356.2,437.8 357.2,435.6 358.6,433.6 359.9,432.3 361.6,431.5 363.9,431 373.2,430.7 517.2,430.7" stroke="#7f7f7f"/>
<polyline points="317.2,454.2 326.9,454.2 330.9,453.7 332.2,453.3 333.6,452.6 337.6,449.1 338.9,448.2 340.6,447.8 342.2,448.2 343.6,449.1 344.6,450.1 346.6,453.2 348.6,457.7 352.9,468.9 354.2,471.6 355.6,473.7 357.2,475.6 358.9,476.7 360.9,477.6 363.6,478.1 367.9,478.4 375.6,478.5 517.2,478.5" stroke="#d62728"/>
<polyline points="317.2,454.2 325.9,454.1 330.6,453.8 334.2,453 338.6,451.2 343.2,448.8 346.2,446.6 348.9,443.8 354.2,437 356.9,434.5 358.6,433.5 360.2,432.8 362.2,432.2 364.6,431.9 369.2,431.6 377.9,431.5 517.2,431.4" stroke="#ff7f0e"/>
<polyline points="317.2,454.2 326.6,454.2 331.6,453.8 334.6,453.2 340.9,451.5 349.2,450.2 352.2,449.3 354.6,447.9 356.6,445.8 358.6,442.9 362.6,436 363.9,434.2 365.2,432.7 366.6,431.6 368.2,430.7 369.9,430.1 372.2,429.7 376.2,429.4 383.9,429.3 517.2,429.3" stroke="#2ca02c"/>
<polyline points="317.2,454.1 327.2,454 331.2,454.3 332.9,454.8 334.6,455.6 339.2,459.5 340.6,460.3 341.9,460.9 343.6,461.2 345.6,461.4 352.6,461.1 363.2,460.2 374.9,458.8 387.2,456.9 395.9,455.2 401.2,453.8 406.2,452.1 419.9,446.2 424.9,444.3 430.6,442.7 436.9,441.6 445.2,440.9 457.2,440.6 517.2,440.4" stroke="#e377c2"/>
<path d="M306.5 454.25H527.7" stroke="#1f1fff" stroke-width="1.3" stroke-dasharray="2.1 1.1" fill="none"/>
</g>
<rect x="33.25" y="500.75" width="220.75" height="76.25" fill="#fff"/>
<g clip-path="url(#cb2)" fill="none" stroke-width="0.65" stroke-linejoin="round">
<path d="M33.25 569.89H254" stroke="#1f1fff" stroke-width="0.8" stroke-dasharray="2.4 1.2" fill="none"/>
<polyline points="58.4,558.6 59.8,554.5 61.1,549.4 63.8,535.3 65.1,535.3 65.4,549.1 66.1,564 66.8,570.2 67.1,570.4 67.4,569.8 68.1,567.1 68.8,560.7 70.8,524.9 71.1,522.3 71.4,522.4 72.1,529.9 73.8,560.5 74.4,566.2 74.8,567.5 75.1,568.1 75.4,568.1 76.1,567.1 78.8,560.5 81.1,557.3 82.4,553.5 83.1,552.2 83.4,552.3 83.8,552.9 84.1,554 85.8,564.1 86.4,566.8 86.8,567.5 87.1,567.5 87.4,567.1 88.4,562 90.4,541.8 91.1,538 91.4,537.5 91.8,538.1 92.4,541.7 94.1,556 95.4,564.2 96.1,566.8 96.8,568.6 97.4,569.6 98.1,570.2 100.4,570.6 102.8,570.6 104.8,570.1 106.1,569.3 107.1,568.2 108.1,566.5 111.1,559.6 111.8,558.9 112.1,558.7 112.8,559.1 113.4,560.2 115.4,565.4 116.4,567.5 117.4,568.8 118.8,569.5 123.4,569.7 127.8,570.3 133.8,570.8 136.1,570.3 141.1,568.2 142.8,568 144.8,568.4 149.8,570.4 154.1,571.3 163.1,571.8 167.8,571.2 168.4,570.8 168.8,570.4 169.4,568.4 170.4,561 171.1,551.5 172.8,518.3 173.4,510.1 173.8,508.9 174.1,509.9 174.8,517.6 176.4,549.6 177.1,558.5 177.8,563.8 178.1,565.3 178.8,566.7 179.4,567 181.8,565.7 182.8,565.5 183.4,565.6 185.1,566.6 187.8,569.4 188.8,570.2 190.1,570.8 192.1,571.2 197.4,570.9 205.4,571.3 207.1,571 208.4,570.2 210.1,568.2 212.8,563.3 214.8,560.6 215.4,558.9 216.4,552.8 218.1,535.8 218.4,534.2 218.8,533.9 219.1,535 219.4,537.6 221.4,561.9 222.1,566.1 222.8,567.8 223.1,567.9 223.4,567.7 224.4,566.7 225.1,566.4 225.8,567 227.4,569.8 228.1,570.5 228.8,570.9 231.1,571.3 237.4,571.5 238.8,571.2 240.1,570.4 243.8,566.2" stroke="#1f77b4"/>
<polyline points="58.4,556.3 60.1,550.3 62.1,541 63.4,541 64.8,559.9 65.8,567.5 66.1,568.1 67.8,567.3 69.1,567.3 70.1,567.7 72.4,569.5 73.4,570 75.4,570.4 77.1,570.1 77.8,569.3 78.1,568.5 78.8,565.3 80.8,547.1 81.1,545.7 81.4,545.6 82.1,549.1 83.8,563.7 84.1,565.3 84.8,566.9 85.4,567.2 87.1,566.7 88.1,566.9 91.8,569.5 94.1,570.4 97.8,570.2 104.4,570.2 105.1,569.9 105.8,569.1 106.4,566.9 107.1,562.6 108.8,546.7 109.1,545.2 109.4,545 110.1,548.2 111.4,559.4 111.8,561.2 112.1,562.3 112.4,562.6 112.8,562.5 113.4,561 115.8,553.4 116.4,552.5 117.1,552.3 118.1,553.7 121.1,560.5 123.8,564.7 124.8,566.1 125.8,567.2 126.4,567.5 127.1,567.4 128.1,566.6 129.1,564.8 132.1,556.3 132.8,555.2 133.4,555 134.4,556.3 136.8,562.3 138.1,564.4 139.1,565.2 142.1,566.7 145.1,568.7 146.1,569.1 147.1,569.1 148.4,568.5 149.8,567.4 153.4,562.6 154.4,561.7 155.4,561.3 157.4,561.6 158.1,560.8 159.1,556.9 161.1,543.4 161.4,542.4 161.8,542.1 162.1,542.8 162.8,546.4 164.8,562 165.8,565.7 166.1,566.2 166.8,566.8 167.8,566.9 169.1,566.6 170.1,566.1 171.8,564.9 172.8,564.8 173.8,565.8 175.8,568.9 176.8,569.6 177.4,569.7 178.1,569.4 178.8,568.7 181.1,563.8 181.8,562.9 182.1,562.7 182.4,562.8 183.1,563.6 185.1,567.3 185.8,568 186.4,568.3 187.4,568.3 190.1,567.5 192.1,567.5 195.4,568.1 199.1,569.3 204.4,570.7 207.8,570.5 210.1,570.7 213.4,570.2 217.1,570.7 219.1,570.3 220.4,569.5 221.4,568.4 223.8,564.9 224.4,564.2 225.1,563.9 226.1,564.3 228.8,567.5 229.4,568.1 230.4,568.5 231.8,568.4 236.8,566.7 239.8,566.5 240.4,566.2 241.1,565.4 241.8,563.4 243.8,549.6" stroke="#ff7f0e"/>
<polyline points="58.4,557.8 60.8,549.5 62.8,539.2 63.1,538.6 64.4,538.6 64.8,540.1 65.8,561 66.4,567.2 66.8,567.8 68.8,566 69.8,565.6 70.8,566 72.8,567.7 74.1,568.4 78.1,568.5 79.8,568.1 80.8,567.1 81.4,566 84.1,558.7 84.8,557.5 85.1,557.3 85.8,557.6 86.4,558.7 89.1,565.9 90.1,567.4 91.1,568.1 93.8,568.9 96.8,569.1 98.1,568.8 101.1,567.9 105.4,567.2 107.8,566 110.8,563.9 112.4,562.5 113.8,560.9 115.4,558.1 117.8,551.2 118.4,549.9 118.8,549.7 119.4,550.3 120.1,551.9 122.8,560.8 124.1,564.6 125.4,567 126.8,568.1 128.1,568.4 132.1,568.4 139.1,567.1 142.8,567.3 149.4,565 150.8,564.8 152.1,565.1 153.4,565.6 157.8,568.1 159.1,568.3 160.4,568.2 161.8,567.6 163.1,566.3 164.1,564.5 165.1,561.5 166.4,554.1 168.8,535 169.4,532.4 169.8,532.2 170.1,532.9 170.8,536.4 172.8,554.9 173.8,562 174.8,566.1 175.4,567.4 176.4,568.4 177.4,568.8 178.8,568.9 183.1,568.4 187.4,568.8 190.1,568.7 192.1,568.3 193.4,568 194.4,567.4 199.1,563.6 200.1,562.1 201.1,559.1 203.8,545 204.4,542.6 204.8,542 205.1,541.9 205.4,542.4 206.1,544.7 208.8,561.5 209.4,564.2 210.4,566.2 211.1,566.6 212.1,566.4 213.1,565.5 213.8,564.6 215.1,561.8 217.8,554 218.4,552.7 219.1,552.3 219.8,552.7 220.4,554 222.8,560.8 223.8,562.9 224.8,564.1 225.4,564.3 225.8,564.1 226.4,563 227.1,560 229.1,539.3 229.4,537.1 229.8,536.3 230.1,537 230.4,539.1 232.1,556.4 232.4,558.6 233.1,561.1 233.4,561.6 233.8,561.7 235.8,560.6 236.4,560.7 236.8,560.9 237.4,561.8 239.4,565.5 240.4,567 241.8,568.1 243.8,569.1" stroke="#2ca02c"/>
<polyline points="58.4,557.6 60.4,550.9 63.1,550.9 64.4,566.1 65.1,569.6 65.4,569.7 67.1,569.8 70.8,569.4 76.8,569.8 80.1,569.5 81.1,569.2 81.8,568.6 82.4,567.5 84.8,560.5 85.4,559.3 85.8,559.2 86.1,559.2 87.4,560.3 88.8,560.3 89.1,560.5 89.8,562.1 91.1,566.4 91.4,567 92.1,567.5 94.8,566.5 95.8,566.7 97.4,567.5 98.4,567.5 99.1,567.1 101.1,565.5 102.4,565.1 103.1,565.2 104.1,565.8 107.1,568.5 108.4,569.2 111.1,569.4 117.1,569 118.4,568.7 119.4,567.9 121.8,564.5 122.4,564 122.8,563.9 123.4,564.3 125.1,566.2 126.1,566.9 127.1,566.7 127.8,566 128.8,563.8 129.4,561.4 131.8,550 132.4,548.2 132.8,547.9 133.1,548.1 133.8,549.6 136.1,560.7 137.1,564.3 138.4,567 139.8,568.2 141.1,568.7 144.1,568.9 146.1,568.8 147.4,568.5 149.8,567 154.4,562.7 155.8,562 156.8,561.7 157.4,561.8 158.4,562.4 162.8,566.8 165.4,568.8 168.1,569.6 171.8,569.5 172.8,569.1 173.4,568 174.4,563.7 175.1,558.1 176.8,538.3 177.4,533.4 177.8,532.8 178.1,533.4 178.8,538.2 180.8,561.1 181.4,565.6 182.1,568.1 182.8,569.2 183.4,569.7 184.1,569.8 191.1,569 195.8,567.6 198.1,567.4 201.1,567.4 202.8,566.9 204.8,565.5 209.1,561.2 210.8,560.3 211.8,560.3 212.8,560.7 215.8,563.2 216.8,563.9 217.4,563.9 218.1,563.4 219.1,560.9 219.8,557.5 222.1,534.6 222.4,532.7 222.8,532.1 223.1,532.8 223.4,534.6 225.4,552.4 226.4,558.5 227.8,563.4 229.4,566.8 230.4,568 231.4,568.6 232.4,568.7 233.4,568.5 235.1,567.7 238.8,565.4 242.1,561.6 242.8,561.3 243.1,561.4 243.8,562" stroke="#d62728"/>
<polyline points="58.4,556.4 60.8,547.4 62.8,536.3 63.1,535.5 65.1,535.5 66.1,557.8 66.4,562.5 67.1,567.9 69.8,567 73.4,565.5 74.1,565.1 75.1,563.4 76.1,559.4 78.8,538.4 79.4,535 79.8,534.3 80.1,534.3 80.4,535 81.1,538.2 83.8,557.1 84.8,561 85.8,563.3 86.4,564.2 87.4,565 88.4,565.4 89.8,565.5 91.1,565 93.4,562.7 94.4,562.4 95.4,563.2 98.4,567.9 99.4,568.7 100.8,569.2 107.1,568.9 108.8,568 112.1,565.5 113.4,565 115.4,565.1 118.8,566.3 120.1,566.3 120.8,566 123.8,563.7 128.4,561.4 130.8,559.5 131.4,559.3 132.1,559.5 132.4,559.8 134.4,563.3 135.1,563.6 135.4,563.4 136.1,562 136.8,559.2 138.8,547 139.4,544.8 139.8,544.6 140.1,544.9 140.8,547.2 142.8,560.1 144.1,566 144.8,567.6 145.4,568.5 146.4,569.2 147.8,569.6 152.4,569.6 154.4,569.1 155.8,567.8 157.8,564.2 158.4,563.5 158.8,563.4 159.1,563.5 159.8,564.2 162.1,568.1 163.1,568.8 164.4,569.1 168.1,569.1 171.4,569.3 173.1,569.2 174.8,568.6 178.8,566.7 180.8,566.2 182.8,566.6 186.8,568.6 188.4,569.1 193.4,569.5 197.8,568.9 202.1,569.2 203.4,568.9 204.4,568.5 207.8,565.6 209.1,565.1 210.4,565.6 213.8,568.1 215.8,569 218.1,569.3 228.1,569.3 229.4,569.1 230.8,568.5 236.1,564.7 239.4,562 240.4,561.7 242.4,562.4 243.1,562.1 243.8,561.3" stroke="#9467bd"/>
<polyline points="58.4,559.1 60.4,552.8 60.8,550.3 62.1,529.1 62.8,522.6 63.1,521.5 64.1,557.7 64.8,567 65.1,568.6 71.4,568.6 72.8,568.3 73.4,567.7 74.1,566.7 76.1,562.8 76.8,562.1 77.1,562 77.8,562.4 79.4,564.9 80.1,565.5 80.8,565.8 81.8,565.6 83.8,564.4 88.1,560.7 91.4,559.5 92.1,559 92.8,558.2 93.4,556.4 94.1,553.6 95.8,543.8 96.4,541.6 96.8,541.5 97.1,542.1 97.8,545.2 99.4,557.3 100.1,560.9 101.1,564.1 101.8,565.2 102.4,565.8 106.8,568.2 108.1,568.6 111.1,568.6 114.4,567.5 115.8,566.7 116.8,565.7 118.1,563.5 120.8,558.3 121.4,557.3 122.1,556.9 122.4,556.9 123.1,557.6 125.8,564.1 126.4,565.2 127.1,565.9 128.1,566.2 131.1,565.3 133.8,565.5 134.4,564.9 134.8,564.3 135.4,562.2 136.1,558.5 137.8,545 138.4,541.7 138.8,541.3 139.1,541.8 139.8,545.2 141.4,559.5 142.1,563.6 143.1,566.9 144.1,568 151.1,568.6 159.8,568.1 162.4,567.6 166.1,565.7 167.4,565.5 168.8,565.8 171.8,567.2 176.8,568.6 181.1,568.6 187.1,568.9 193.1,568.3 194.4,567.7 196.8,566 198.1,565.3 199.4,564.9 201.8,564.8 202.8,564.9 203.4,565.2 206.1,567.8 207.1,568.5 208.1,568.6 209.8,568.4 211.1,568.1 212.4,567.4 217.8,564 219.1,563.7 221.4,564.2 222.1,563.8 222.4,563.2 223.1,560.4 223.4,558 225.1,539.6 225.4,537.4 225.8,536.8 226.1,537.7 226.4,540.2 227.4,551.4 228.1,556.5 228.4,557.5 229.4,558.1 229.8,558.9 231.1,565.6 231.8,567.5 232.1,567.8 232.4,567.8 233.1,566.9 235.1,560.6 235.4,560 235.8,560 236.4,561.3 237.8,565.9 238.8,567.7 239.4,567.9 241.8,567.3 243.8,567.1" stroke="#8c564b"/>
<polyline points="58.4,558.9 60.4,552.5 60.8,552 64.8,552 65.8,566.3 66.1,569.2 66.4,569.4 67.8,569.4 70.8,569.7 74.8,569.6 76.8,569.1 78.4,568.2 79.4,567.2 80.4,565.6 83.8,557.2 84.8,555.9 85.8,555.6 89.4,556.5 90.4,557 91.4,558.1 93.8,562.1 95.1,563.8 97.1,565.6 98.8,566.4 99.8,566.5 101.4,566.3 102.4,565.9 103.1,565.5 104.4,563.3 106.4,558.2 107.1,557.3 107.4,557.3 107.8,557.5 108.4,558.8 111.1,567.1 111.8,568.3 112.8,569.1 113.4,569.3 114.4,569.1 118.8,566.5 120.4,566 122.1,566.4 124.8,568.5 126.1,569.1 131.1,569.1 132.1,568.5 132.8,567.5 133.8,564.1 134.8,557.9 136.8,541.8 137.4,539 137.8,538.6 138.1,539 138.8,541.8 141.4,562.5 142.1,565.7 143.1,568.2 143.8,568.9 144.4,569.1 146.4,569.2 149.4,569.7 155.4,569 156.4,568.6 157.4,567.6 158.4,566 160.4,562 161.4,560.6 162.4,560.3 164.1,561.4 164.8,561.7 165.4,561.1 166.4,557.6 168.8,540.3 169.4,537.2 169.8,536.7 170.1,536.9 170.8,539.3 172.8,553.7 173.8,558.7 174.4,560.4 175.1,561.2 175.8,561.3 176.8,560.4 177.8,558.3 178.8,554.3 179.8,548.2 182.4,527.2 183.1,524.2 183.4,523.5 183.8,523.5 184.4,525.1 185.1,528.8 187.8,552.5 188.8,559.4 189.4,562.6 190.1,564.8 190.8,566.1 191.4,566.7 192.1,566.8 192.8,566.3 193.8,564.9 195.8,561.3 196.4,560.5 197.1,560.2 198.1,560.5 201.4,564.3 204.4,566.6 208.1,568.3 212.8,569.2 215.1,569.3 217.1,568.6 223.1,564.2 223.8,563.5 224.4,562.4 225.4,558.5 226.1,553.8 227.8,537.4 228.4,533.6 228.8,533.2 229.1,533.9 229.8,538.4 231.4,556.3 232.1,561.5 233.1,565.9 234.1,567.5 234.4,567.6 235.1,567.6 235.8,567 236.4,565.9 237.1,564 238.4,557.9 240.4,545.6 241.4,541.5 241.8,540.8 242.1,540.7 242.4,541 243.1,543 243.8,546.5" stroke="#e377c2"/>
<polyline points="58.4,559.9 59.8,556.2 61.1,551.4 61.4,550.9 63.1,550.9 63.8,563.1 64.4,569.3 67.4,569.6 69.1,569.1 70.4,568.3 73.1,565.9 74.4,565.3 77.4,565.8 79.4,565.2 80.4,565.1 81.4,565.5 83.1,566.6 83.8,566.8 87.1,566.3 89.8,567.1 91.1,567.2 92.4,567 93.8,566.5 97.8,564 99.4,563.6 101.1,564.1 104.1,566.1 104.8,566 105.1,565.6 105.4,564.5 106.1,558.4 106.8,543.4 107.8,511.5 108.1,505.7 108.4,505.3 108.8,510.2 109.8,540.2 110.4,554.7 111.1,560.8 111.4,561.9 111.8,562.4 112.1,562.4 112.4,562 112.8,561.2 113.4,558.2 114.1,553.1 115.8,535.5 116.4,531.1 116.8,530.5 117.1,531 117.8,535.1 119.4,552.5 120.1,557.8 120.8,561.4 121.8,564.3 123.1,566.4 125.1,568.3 127.1,569.3 128.8,569.6 132.1,569.5 133.1,569.3 134.1,568.9 135.8,567.5 138.4,564.8 142.8,559.7 143.8,559 144.4,558.8 145.4,559.1 146.4,559.9 149.8,564.3 150.4,564.9 151.1,565.2 152.4,565 155.1,563.6 156.1,563.6 157.4,564.5 159.4,566.9 160.1,567.1 160.8,566.6 161.8,564.8 162.1,564.4 162.4,564.4 163.1,565.4 164.4,568.7 164.8,569.1 165.4,569.5 166.4,569.3 169.1,567.6 171.8,567.1 174.1,565 175.1,564.5 176.1,564.9 178.8,567.8 179.8,568.3 180.4,568.2 181.8,567.3 184.1,564.6 184.8,564.1 185.4,563.9 186.1,564.1 186.8,564.5 189.8,567.9 191.4,569 192.4,569.2 193.4,568.8 194.1,568.1 196.1,565.1 196.8,564.7 197.1,564.7 197.8,565.3 199.8,568.4 200.8,569.3 202.1,569.9 203.4,569.9 204.8,569.5 206.1,568.5 208.8,564.2 209.4,563.5 209.8,563.4 210.1,563.5 210.8,564.1 212.4,567 213.4,568.4 214.4,569.1 215.8,569.5 219.1,569.9 226.8,569.8 229.8,570 233.4,569.8 237.8,570.1 241.4,569.7 243.8,569" stroke="#7f7f7f"/>
<polyline points="58.4,560 60.4,554 62.4,545.6 64.8,545.6 66.1,563.4 66.8,568 67.4,570.7 67.8,571 71.4,571.3 75.1,571.1 76.8,570.7 77.8,570.1 78.8,569.1 81.8,564.5 82.4,563.9 83.1,563.8 83.8,564.1 84.4,564.8 87.4,569.2 88.4,570 89.1,570.1 89.8,569.2 90.1,568.2 90.8,564.3 92.8,542.1 93.1,540.4 93.4,540.3 94.1,544.5 95.4,559.8 96.1,565 96.8,567.6 97.4,568.7 98.1,569.2 101.8,570.6 103.1,570.8 105.1,570.7 106.4,570 107.4,568.7 108.1,567.5 111.4,558.3 112.4,556.7 113.1,556.3 113.8,556.5 114.8,557.9 118.4,567.4 119.4,568.7 120.4,569.4 124.8,569.8 128.8,571.3 130.1,571.3 132.4,570.9 136.8,571.1 137.8,570.9 138.8,570.4 141.1,568 142.1,567.6 143.1,568.1 145.1,570.2 146.1,570.9 147.8,571.2 149.8,571.1 150.8,570.7 151.8,569.8 152.4,568.5 153.1,566.5 154.1,560.9 155.8,547.2 156.4,543.6 156.8,543 157.1,543.2 157.4,544.2 159.8,560.6 160.4,563.7 161.1,565.6 162.1,566.8 164.1,567.5 165.4,567.4 167.4,566.3 168.1,566.4 170.4,569.5 171.8,570.4 173.1,570.6 175.4,570.7 177.4,570.3 179.1,569.2 182.8,565.6 183.8,565 184.8,564.8 185.4,564.9 186.4,565.5 191.4,570 192.4,570.6 193.4,571 199.4,571.3 207.1,570.8 211.8,571.4 216.1,571.4 219.1,571 221.4,571 222.8,570.7 223.8,570.1 228.4,566.2 229.8,565.4 230.8,565 233.1,564.6 236.1,563.8 237.1,564 238.1,564.8 241.8,570.1 242.8,570.9 243.8,571.3" stroke="#bcbd22"/>
<polyline points="58.4,558.2 60.8,550.2 63.1,538.2 64.4,538.1 64.8,542.1 65.4,559.7 66.1,567.8 66.4,569.3 69.4,569 71.8,568.2 73.8,566.9 77.4,563.8 78.4,563.2 79.4,563 81.1,563.5 84.4,566.5 86.1,567.3 90.1,567.2 94.4,568.5 99.4,569.4 104.1,569.6 105.8,569.4 106.8,569 107.8,567.9 108.8,565.3 109.8,560.3 111.8,547.2 112.4,545 112.8,544.7 113.1,545 113.8,547.3 115.8,560.1 116.8,564.9 117.4,566.9 118.1,568.2 118.8,568.8 119.4,569.1 125.4,569.2 126.8,569.1 128.1,568.3 130.1,566.2 131.1,565.5 132.1,565.6 134.1,566.5 135.1,566.5 135.8,566.1 136.8,565.2 139.8,561.3 141.1,560 142.4,559.2 145.8,558.1 146.4,558.3 147.1,558.9 149.4,563 150.4,564.2 151.4,564.7 153.1,564.7 154.1,564.9 156.8,566.9 157.8,567.3 158.8,567.3 159.8,566.8 163.1,564.1 164.1,563.4 165.1,563.2 167.4,563 170.1,561.7 170.8,561.9 171.4,562.5 173.8,565.9 175.1,567 176.4,567 179.1,566.1 180.4,565.9 181.4,565.9 184.1,566.5 185.1,566.5 186.8,566 188.4,565 189.4,564 190.4,562.3 191.4,559.3 192.1,556.5 194.4,544.1 195.1,542.3 195.4,542.1 195.8,542.4 196.4,544.6 199.1,560.6 199.8,562.7 200.4,563.6 201.1,563.7 202.4,563.2 204.1,563.2 204.8,563 205.4,562.4 207.4,560 208.4,559.6 209.1,560 209.8,560.8 211.8,564.4 212.8,565.9 213.8,566.8 214.4,567 215.1,567 216.1,566.7 221.4,564 223.1,563.6 224.8,564.2 228.1,566.4 230.8,567.9 233.4,568.9 235.8,569 237.1,568.8 238.1,568.2 240.1,566.5 241.1,566.2 242.1,566.7 243.8,568.4" stroke="#17becf"/>
<polyline points="58.4,556.6 60.4,549.2 62.4,538.9 62.8,538.2 64.4,538.2 64.8,541.6 65.4,560.5 65.8,565.3 66.4,570.6 73.8,570.5 76.4,570.4 79.8,570.6 83.1,570.3 86.1,570.5 87.1,569.7 89.1,565.7 89.4,565.3 89.8,565.2 90.4,566 92.1,569.3 93.1,570.1 94.4,569.8 97.4,567.4 98.8,567 99.8,567.2 102.1,569.1 103.4,569.9 104.8,570 106.1,569.8 107.4,569.1 108.4,568.3 110.1,566.3 111.4,563.7 115.1,554.7 116.1,553.2 117.1,552.8 118.1,553.1 119.4,554.2 126.8,563.9 129.8,567.3 130.8,568.2 131.4,568.5 132.4,568.2 133.4,566.7 134.4,563.8 136.1,558 136.8,556.4 137.4,555.8 138.1,556.2 138.8,557.7 141.1,565.7 142.1,568.2 143.1,569.6 144.4,570.2 147.4,570.3 152.8,570.1 154.8,569.4 159.1,567.2 163.4,566.5 164.4,565.9 165.4,564.9 168.4,560.6 169.4,559.7 170.1,559.6 171.1,559.8 172.4,561 176.4,567 178.1,569.1 179.4,570.1 180.8,570.5 182.8,570.4 184.1,569.8 185.1,568.7 186.8,566 187.8,565.2 188.1,565.2 188.8,565.8 191.1,569.3 192.4,570.2 193.4,570.3 194.4,570.1 199.1,568 201.1,567.7 203.1,568 206.8,569.6 208.1,569.7 209.4,569 212.1,565.2 212.8,564.6 213.4,564.4 214.4,565.1 216.8,568.5 218.1,569.8 219.1,570.3 220.4,570.6 223.4,570.7 225.1,570.2 226.8,569.3 228.4,567.9 231.4,564.7 232.8,564.1 234.1,564.5 236.8,566.9 238.1,567.8 243.8,569.8" stroke="#1f77b4"/>
<polyline points="58.4,558.5 60.4,551.9 62.8,541.2 63.4,541.2 64.8,563.6 65.4,568.6 66.1,568.7 67.4,568.8 70.8,568.3 75.1,568.4 78.1,568.2 80.8,568.5 84.1,568.4 91.1,568.8 93.4,568.3 96.1,567.3 99.4,564.8 102.8,564.3 104.8,563.4 106.1,562.4 110.8,558.1 115.4,555.7 118.1,552.8 119.1,552.2 119.8,552.3 120.8,553.7 124.1,562.7 125.8,565.9 126.8,566.9 127.8,567.4 129.4,568 131.4,568.4 132.4,568.4 133.4,568 134.1,567.5 134.8,566.6 135.8,564.4 137.8,557.8 138.4,556.8 138.8,556.7 139.4,557.7 141.4,563.9 142.4,566.1 143.4,567.3 144.8,567.8 146.1,567.5 147.1,566.9 154.4,559.2 155.4,558.4 156.4,557.9 157.8,557.9 159.4,558.9 160.8,560.4 163.4,564 164.8,565.3 166.1,566 167.8,566.1 170.4,565.6 171.8,564.9 172.8,563.7 174.8,560.1 175.4,559.4 175.8,559.2 176.1,559.3 176.8,559.9 178.8,562.8 179.4,563.1 180.1,562.8 181.4,561.3 184.4,556.8 185.4,555.9 186.1,555.7 187.1,555.9 188.4,557 192.4,562.6 193.1,563.1 194.8,563.4 195.4,563.7 198.1,567.2 198.8,567.7 199.8,568.1 205.8,568.3 208.1,568.5 209.8,568.3 210.8,567.7 211.8,566.8 215.1,562.1 215.8,561.7 216.1,561.7 217.1,562.5 219.8,566.9 220.4,567.5 221.4,568.1 224.4,568.6 232.1,568.4 233.1,568 233.8,567.2 236.1,561.6 236.8,560.9 237.4,561.5 239.1,564.2 239.8,564.6 241.1,564.3 241.8,564.4 242.4,564.9 243.8,566.7" stroke="#ff7f0e"/>
<polyline points="58.4,557.4 60.4,550.3 62.4,540.4 62.8,539.2 63.4,539.2 64.1,557.2 64.8,568.1 66.8,568.1 68.1,567.9 76.4,565.4 77.8,565.4 80.1,566.2 81.1,566 82.4,564.9 85.8,560.1 86.8,559.3 87.4,559.2 88.4,559.8 90.8,562.3 94.1,563.9 97.8,566.9 99.4,567.7 101.4,568 112.4,567.9 117.1,566.8 118.8,566.6 120.4,566.8 126.1,568.2 128.1,568.5 139.4,567.8 144.1,568.3 147.8,568.4 151.4,568 158.8,568.2 161.1,568 168.8,566.5 170.1,566.4 173.4,566.8 176.8,567.8 182.1,568.3 187.4,567.6 190.8,566.3 193.4,564.9 194.8,564 196.1,562.6 198.1,560.1 199.1,559.6 199.8,559.9 200.4,560.7 202.4,564.7 203.8,566.5 205.4,567.4 208.4,568 209.8,568 210.8,567.8 211.8,567.5 212.8,566.8 214.1,565.4 216.8,561.7 217.8,560.8 223.1,559.6 224.4,560 228.1,562.5 231.1,563.1 232.1,563.5 235.4,566.4 237.1,567.3 238.1,567.3 239.1,566.5 241.1,562.1 241.8,561.4 242.4,561.9 243.8,565.2" stroke="#2ca02c"/>
<polyline points="58.4,557.2 60.1,551.4 61.4,545.5 63.8,531.1 64.1,530.1 65.1,530.1 65.8,548.2 66.4,558.9 67.1,565.3 67.8,569 68.1,569.8 72.1,570.1 78.8,570.1 79.8,569.9 80.4,569.3 80.8,568.6 82.4,561.8 82.8,560.8 83.1,560.5 83.4,561 83.8,562.2 84.8,566.8 85.4,568.9 86.1,569.8 86.8,570 91.1,569.9 92.1,569.7 93.1,569 95.1,566.2 95.8,566 96.4,566.6 98.1,569 98.8,569.5 99.8,569.9 101.8,570 106.4,569.7 110.1,568.6 112.1,568.2 113.4,568.4 116.4,569.6 120.4,570 121.4,569.6 122.1,568.9 124.4,564.9 125.4,564 125.8,564 126.4,564.3 128.1,566.3 129.1,567.1 130.1,567.4 131.1,567.1 132.4,565.7 134.8,561.7 135.8,561 136.1,561 136.8,561.6 139.4,565.5 140.8,566.4 141.8,566.4 143.4,566 145.1,565.1 148.1,563.1 149.1,562.8 150.1,562.8 151.4,563.2 153.8,564.7 155.1,565.2 161.4,566.5 165.8,568.4 167.8,569.1 172.4,569.9 177.4,569.7 180.8,569.2 182.4,568.6 184.8,567.3 186.1,567 191.8,567.2 195.4,568.4 198.1,569.5 199.4,569.8 203.4,569.9 209.4,569.8 210.8,569.3 211.8,568.3 214.8,562.4 215.4,561.6 216.1,561.4 216.8,561.8 218.8,564.3 219.8,565.1 221.1,565.2 223.8,564.3 225.1,564.5 226.8,565.6 230.8,568.8 232.4,569.6 234.4,569.8 236.1,569.4 237.1,568.6 239.1,566.1 240.1,565.5 241.1,566 243.8,569.5" stroke="#d62728"/>
<polyline points="58.4,557.8 60.1,552.3 61.4,546.6 62.8,539.4 63.4,534.3 64.1,556.7 64.4,563.5 65.1,570.1 66.4,569.8 67.8,569.3 73.8,565.8 75.4,565.2 76.4,565 77.8,565.1 79.1,565.6 85.8,569.4 88.1,570.2 89.8,570.4 99.4,569.8 100.4,569.5 101.4,568.6 102.4,566.9 104.1,563.5 104.8,562.6 105.4,562.4 106.4,563.4 109.1,568.5 109.8,569.2 110.4,569.4 111.4,568.9 113.4,566.1 114.1,565.7 114.8,566 116.8,568.9 117.4,569.6 118.1,569.9 119.1,570.1 125.8,569.6 127.8,568.8 131.4,566.2 132.4,565.7 133.4,565.7 135.8,566.6 136.8,566.4 139.4,564 140.4,563.5 141.1,563.6 141.8,564 144.8,568 145.8,568.9 146.4,569.3 147.1,569.4 148.1,569.1 151.8,566.4 152.8,566 153.4,566 154.4,566.3 157.8,568.8 159.8,569.8 161.8,570.3 164.1,570.3 166.4,569.9 170.8,568 174.8,567 176.1,566.3 180.1,563.5 182.4,562.4 183.8,562.1 184.8,562.3 185.8,563.2 188.4,567.6 189.8,569 190.8,569.4 195.8,570.4 203.1,570.5 206.8,570.2 210.1,570.4 214.8,570 218.1,570.3 219.4,570.2 221.4,569.3 228.1,563.9 229.4,563.3 230.1,563.5 230.8,564.1 233.4,568.4 234.1,569.2 235.1,569.9 237.1,570.4 243.8,570.2" stroke="#9467bd"/>
<polyline points="58.4,556.5 60.1,550.6 61.4,544.4 62.8,536.7 64.1,527.3 64.8,527.3 65.4,553.7 65.8,562.1 66.4,569.7 70.8,569.1 72.1,568.8 73.4,568 76.8,565.5 77.8,565.1 78.8,564.9 80.1,565.2 82.8,566.6 84.1,567 87.1,567 90.1,567.4 95.1,567.4 98.8,568.7 101.1,568.8 104.8,569.6 107.8,569.6 111.1,569.2 112.4,568.4 113.8,566.4 116.1,560.5 118.8,552.7 119.1,552.1 119.4,551.9 119.8,552.1 120.4,554.1 122.1,563.4 122.8,566.1 123.8,568.3 124.4,568.9 125.4,569.2 131.1,569.2 137.1,569.7 141.8,569.4 143.1,569.1 144.8,568.1 146.4,566.4 148.1,564 150.4,559.7 151.1,558.9 151.8,558.5 152.4,558.6 153.1,559.4 156.1,565 157.1,566.2 158.4,567.2 159.4,567.7 160.8,567.9 163.4,567.6 164.8,567.6 168.8,569 171.4,569.4 175.8,569.3 180.8,568.3 182.8,567 186.8,563.6 187.8,563 188.8,562.7 189.8,562.8 191.1,563.4 193.4,565 196.8,567.7 198.1,568.5 199.4,569 204.4,569.4 208.1,569.4 210.8,569.7 214.4,569.4 218.1,569.4 219.4,568.9 220.4,568.2 221.8,566.7 224.4,562.9 225.1,562.3 225.8,562.1 226.8,562.4 229.1,563.9 233.1,565.1 237.8,567.9 243.8,569.5" stroke="#8c564b"/>
<polyline points="58.4,557.2 60.4,550.1 62.4,540.2 62.8,540.2 63.1,541 64.1,562 64.8,568 65.1,569 67.4,569.3 71.1,569 75.8,569.3 81.8,568.2 83.8,567.6 88.8,567 89.8,567.2 93.1,568.8 94.8,569.1 96.1,569.2 97.1,568.8 98.1,567.8 100.4,563.3 101.1,562.5 101.4,562.3 102.1,562.6 104.1,565.5 105.4,566.7 109.8,567.5 112.4,567.3 113.8,566.7 114.8,565.9 117.8,562.5 119.1,560 121.4,553.9 122.1,552.9 122.4,552.7 123.1,553 123.8,554.4 126.1,562.9 127.1,565.6 128.1,567.1 129.4,567.7 130.4,567.7 132.1,567.1 135.8,564.7 137.4,564 138.4,564 139.4,564.3 142.8,566.4 144.1,566.8 145.4,566.5 148.4,564.7 150.1,564.2 151.8,564.6 155.8,568.1 157.1,568.7 158.4,569.1 159.8,569.2 162.8,569 166.4,569.4 170.4,568.8 173.1,568.6 174.4,568 175.8,566.4 177.1,563.7 179.1,558.5 179.8,557.3 180.4,556.8 181.1,557 181.8,558.1 184.8,566.1 185.8,567.5 186.8,568 187.8,567.7 189.4,566.5 190.4,566.2 191.4,566.7 193.4,568.4 195.1,569 201.1,569.1 202.4,568.7 204.4,567.7 205.4,567.5 206.4,567.7 210.1,569 211.4,569.1 212.8,568.9 213.4,568.7 214.1,568 215.8,563.3 216.1,562.8 216.4,562.8 216.8,563.5 218.1,567.7 218.8,568.7 219.4,569 225.1,569 228.8,568.6 231.8,568.5 234.1,568.2 237.4,566.6 239.1,566.2 241.1,566 243.8,566.4" stroke="#e377c2"/>
<polyline points="58.4,558.3 60.8,550.3 62.1,544.1 63.4,536.4 63.8,536.4 64.1,539.5 64.4,550.1 65.1,562.6 65.4,566.2 65.8,566.3 71.1,559.7 72.4,558.7 73.4,558.4 74.8,558.7 76.1,559.7 81.1,565.6 82.4,566.7 83.4,567.1 84.4,567.2 85.8,567 90.1,565.2 93.8,565.2 94.8,564.8 97.1,562.9 98.1,562.6 98.8,562.8 99.4,563.3 102.4,566.8 103.4,567.5 104.4,567.8 105.8,567.4 106.8,566.5 109.4,562.1 110.1,561.2 110.8,560.8 111.8,560.9 114.8,563.1 117.8,564.3 118.8,563.9 120.4,561.8 121.1,561.5 121.8,562.3 123.4,565.8 124.1,566.5 124.8,566.6 125.8,566.1 128.4,564.2 130.1,563.7 132.1,563.9 135.4,565.5 136.8,565.3 138.4,564.1 143.1,558.9 144.1,558.2 145.1,557.9 146.1,558.3 147.4,559.6 152.4,567.3 153.8,568.4 155.4,569 158.4,568.9 160.8,569.4 162.1,569.5 163.8,569.2 165.1,568.5 166.1,567.6 166.8,566.7 169.8,560.2 170.4,559.1 171.1,558.6 171.4,558.7 172.1,559.3 174.8,564.4 176.1,566 181.1,569 183.1,569.8 186.4,570 191.8,569.9 200.1,570.1 202.8,569.7 206.8,568.3 209.1,567.7 211.1,567.7 216.1,568.6 217.1,568.4 219.4,567.3 220.4,567 221.8,567.3 225.1,569.1 229.4,570.1 233.4,569.9 237.1,570 240.8,569.6 241.8,569.7 243.8,570.3" stroke="#7f7f7f"/>
<polyline points="58.4,556.6 59.8,552 61.1,546.2 63.4,532.2 63.8,531 64.8,531 65.4,548 66.1,559 66.8,565.4 67.1,567.5 67.4,567.7 69.1,567.4 72.1,567.8 73.8,567.3 75.1,566.1 77.8,562 78.4,561.4 79.1,561.2 79.8,561.5 81.8,563.2 82.8,563.8 83.8,563.7 86.4,562.8 87.8,563 89.1,563.8 93.1,566.6 94.4,567.3 95.8,567.6 99.4,567.5 101.4,567.1 103.1,566.4 106.1,564.7 107.1,564.4 108.8,564.8 112.4,567 114.4,567.8 116.1,568 121.4,567.6 122.4,567.3 123.1,566.8 126.1,563.2 127.1,562.8 127.8,563.1 129.8,565.4 130.4,565.8 131.4,565.5 133.4,564.4 136.1,564.3 138.1,563.7 139.1,563.6 140.4,564 143.8,566.3 145.8,567.2 149.4,568 151.4,568 156.8,566.8 159.1,565.6 163.4,562 164.4,560.5 165.8,557.7 166.1,557.3 166.4,557.2 167.1,558.2 168.4,561.4 169.1,562.4 170.1,563.2 171.8,563.9 173.1,564.1 178.1,563.1 179.8,563.2 180.8,563.5 185.8,566.2 187.1,566.6 188.4,566.7 191.1,566.2 197.1,563 198.4,562.6 199.4,562.6 200.8,563.1 204.1,565.8 206.4,567 208.1,567.5 213.1,567.9 214.4,567.5 215.8,566.4 216.8,565 218.8,561.5 219.8,560.2 220.8,559.5 223.1,558.9 225.1,557.2 226.1,555.3 227.8,548.7 228.1,547.8 228.4,547.6 228.8,548 229.1,549 231.1,557.8 231.8,559.3 232.8,560.8 233.4,561.3 234.1,561.2 236.4,558.5 237.1,558.2 237.4,558.3 238.4,559.5 240.1,562.5 241.1,563.9 242.1,564.8 243.8,565.9" stroke="#bcbd22"/>
<polyline points="58.4,556.9 60.8,548.3 63.1,535.3 64.8,535.3 65.4,561.8 65.8,567.3 66.1,569.6 68.8,569.8 70.4,569.4 73.4,567.6 76.8,565.1 77.8,564.7 79.1,564.6 81.4,565.5 82.4,565.6 84.1,565.3 85.8,564.6 86.8,563.9 87.4,563.2 90.1,558.4 90.8,557.5 91.4,557.1 91.8,557.1 92.4,557.6 93.4,558.9 96.8,565.8 97.8,567.5 99.1,568.8 100.4,569.2 104.8,569.1 105.8,568.8 106.8,567.7 108.8,564.2 109.4,563.7 109.8,563.8 110.4,564.5 112.8,568.6 113.8,569.2 114.8,569 117.8,567.2 119.1,566.9 120.4,567.1 123.8,568.9 125.8,569.5 127.1,569.3 129.4,568.2 130.4,568 131.4,568.3 133.4,569.4 134.8,569.8 137.1,569.9 141.8,569.6 143.8,569.1 145.4,568.3 146.8,567 149.8,563.3 150.8,562.6 152.1,562.2 153.1,562.3 154.1,562.8 157.1,565.6 158.4,566.3 159.4,566.2 161.4,565.4 162.1,565.3 162.8,565.5 164.4,566.4 165.1,566.5 167.1,565 167.8,564.9 168.4,565.3 170.8,568.2 171.4,568.6 172.4,568.7 173.8,568.2 176.4,565.8 177.4,565.5 178.4,566 180.1,567.5 181.1,567.9 181.8,567.5 182.1,567.1 182.8,565.5 184.8,556 185.4,554.1 185.8,554 186.4,555.4 188.1,562.1 189.4,565.3 190.4,566.9 191.8,568.3 192.8,569 194.1,569.4 199.4,569.4 203.4,567.4 206.1,566.4 207.1,566.3 208.1,566.5 211.1,567.9 214.1,569 215.4,569.2 217.1,569.2 219.1,568.9 220.4,568.4 225.4,565.1 227.4,564.3 228.4,564.3 229.1,564.5 232.4,566.8 233.8,567.3 235.1,567 237.8,565.3 238.8,565.3 240.8,565.9 241.4,566 242.4,565.6 243.8,564.5" stroke="#17becf"/>
<polyline points="58.4,558.2 60.1,552.8 64.1,552.7 65.1,565 65.4,567.5 65.8,567.8 68.1,566.7 72.1,564.4 73.8,564 75.4,564.6 79.4,567.2 83.1,568.5 85.1,568.8 89.1,568.3 90.4,567.8 91.4,567 94.1,562.8 95.1,561.7 95.4,561.6 96.1,561.7 98.1,563.6 99.1,563.9 100.1,563.5 102.4,561.6 103.4,561.4 105.1,561.6 106.1,561.5 109.8,559.2 111.1,558.8 112.1,559.1 112.8,559.5 117.4,565.1 118.8,566.2 120.1,566.7 121.8,566.7 124.8,565.9 126.1,565.7 127.4,566 130.4,567.5 132.1,567.9 135.8,568.6 139.4,568.4 141.1,567.7 142.1,566.7 144.8,561.8 145.4,561.1 145.8,561 146.4,561.3 148.8,563.4 152.8,564.9 157.8,567.6 160.4,568.5 162.8,568.6 163.8,568.3 164.4,567.7 165.1,566.6 165.8,564.7 167.1,557.8 169.1,543 169.8,540 170.1,539.3 170.4,539.3 170.8,539.9 171.4,543 173.4,557.9 174.4,563.3 175.4,566.3 176.1,567.4 177.1,568.1 178.8,568.4 181.1,567.9 183.1,567 186.8,564.8 188.1,564.4 189.4,564.5 192.1,565.5 193.8,565.4 194.8,564.8 195.8,563.9 199.1,559.4 200.1,559 200.8,559.3 201.4,560.2 203.8,564.9 204.8,566.4 205.8,567.3 207.1,567.8 208.4,567.9 209.8,567.5 212.4,565.3 213.4,564.7 214.4,564.6 216.1,564.9 217.1,564.6 220.4,561.8 221.8,561.2 222.8,561.1 223.8,561.4 224.4,561.7 226.8,564 228.1,564.8 229.1,565 232.1,564.8 236.1,565 237.4,565.4 243.8,568.2" stroke="#1f77b4"/>
<polyline points="58.4,560 60.4,554 62.1,547.2 62.4,546.9 63.1,546.9 63.4,550.1 64.1,563.4 64.8,569.4 67.4,569 70.8,569.4 73.8,569.3 74.8,569.1 76.4,568.2 79.1,565.8 80.1,565.1 81.1,564.9 82.8,565.3 83.8,565.2 84.8,564.6 86.4,563.1 87.4,562.6 88.1,562.7 88.8,563.1 92.4,567.3 93.8,568.3 95.1,568.9 97.1,569.3 101.8,569.4 104.8,569.1 105.8,568.7 106.8,567.8 109.4,562.5 110.1,561.6 111.8,560.3 114.4,556 115.4,555.2 116.1,555.4 116.8,556.1 119.8,561.3 121.4,563.1 123.1,564 127.4,565.4 128.4,565.5 129.4,564.9 130.1,564 131.1,561.9 133.1,556.4 133.8,555.3 134.1,554.9 134.8,554.7 135.4,554.9 136.4,555.5 138.4,557.4 141.8,563.3 143.1,564.9 143.8,565.3 144.4,565.3 146.4,564.9 147.4,565 148.8,565.8 151.8,568.6 152.8,569.2 153.8,569.5 162.1,569.3 165.4,569 170.8,569.6 177.8,569.2 181.1,569.6 184.1,569 187.1,569 188.4,568.4 192.4,565.4 193.8,565 196.1,564.8 197.1,564.5 198.4,563.7 201.4,561.3 203.1,560.9 204.1,561.1 205.1,561.6 209.4,565.8 210.4,566.5 211.8,567 213.1,567.2 214.4,566.8 215.8,565.8 219.1,562.9 220.1,562.4 221.1,562.4 222.1,562.6 223.4,563.3 227.8,566.9 230.1,568.3 231.8,569 233.4,569.2 241.8,569.4 243.8,569.3" stroke="#ff7f0e"/>
<polyline points="58.4,558.9 60.8,551.2 62.1,533.7 62.8,528.2 63.1,527.4 63.8,546.6 64.4,558.3 65.4,567.3 66.1,570.3 66.4,571.3 66.8,571.5 70.1,571.3 73.4,571.3 75.1,570.7 76.1,569.8 78.1,567 79.1,565.9 79.8,565.5 81.4,565.2 82.1,564.7 83.1,563.2 84.4,560.6 85.1,559.9 85.4,559.9 86.1,560.7 88.1,565.7 88.8,567 89.8,568.4 90.8,569.2 92.1,570 94.1,570.7 95.8,571.1 100.8,571.3 103.4,571.2 106.4,571.3 112.4,570.5 120.1,571.6 127.8,571.1 130.8,571.1 133.8,570.9 138.1,571.4 142.1,570.9 148.8,570.9 150.4,570.5 153.8,568.1 155.1,567.7 156.4,567.9 159.4,569.6 161.1,569.8 162.4,569.3 163.4,568.2 164.4,566.4 166.8,561.1 167.8,559.8 168.4,559.5 169.4,560 172.1,563.2 173.8,564.7 175.4,565.5 176.8,565.7 177.8,565.2 178.4,564.5 181.8,558 182.4,557.3 183.1,557.2 183.8,557.6 184.4,558.5 187.1,564.5 188.1,566.1 188.8,566.7 190.1,567.2 192.8,566.8 194.1,567 195.8,567.8 199.8,570.4 200.8,570.7 202.1,570.7 203.4,570.4 204.4,569.9 205.8,568.2 206.8,565.7 209.8,555.6 210.4,554.4 211.1,553.9 211.8,554.2 212.4,555.3 215.8,563.3 216.8,564.7 217.8,565.5 218.8,565.7 221.4,565.5 224.1,566.7 225.4,566.8 226.8,565.9 229.8,562.1 230.4,561.6 231.4,561.3 232.1,561.5 233.1,562.2 236.4,566.7 238.1,568.2 239.4,568.6 240.8,568.7 243.8,567.9" stroke="#2ca02c"/>
<polyline points="58.4,558.9 60.8,551.2 62.8,541.5 63.8,525.5 64.1,522.6 64.4,521.6 65.1,551.4 65.8,564.4 66.1,567.8 66.4,569.2 69.8,568.4 76.4,567.7 81.4,568.5 86.1,569.7 88.4,569.6 91.1,569.2 93.8,568.5 95.8,568.5 96.4,568.4 97.4,567.3 98.8,564.9 99.1,564.6 99.4,564.6 100.1,565.4 101.4,568 102.1,568.7 102.8,568.8 103.8,568.4 109.1,565.3 110.1,564.2 111.8,561.9 112.4,561.4 113.1,561.7 113.8,562.6 115.8,567.1 116.8,568.6 118.1,569.8 119.8,570.3 125.1,570 130.8,570 134.1,570.3 137.1,569.9 141.8,569.9 146.8,570.3 151.8,570.4 155.4,570.2 158.4,570.4 162.4,569.7 166.1,570.3 169.1,570 180.1,570.2 183.1,569.8 184.8,569.1 186.1,568 190.1,563.5 191.1,562.9 192.1,562.7 193.8,563.2 195.8,564.3 200.4,568.1 202.4,569.4 204.4,570 208.4,570.1 210.4,569.7 212.8,568.8 214.4,567.9 216.1,566.6 218.1,564.1 221.8,557.7 222.4,556.8 223.1,556.4 223.8,556.7 224.4,557.7 227.1,565.8 227.8,567.1 228.4,567.7 229.1,567.9 229.8,567.7 232.4,565.8 233.4,565.4 234.1,565.4 235.4,566 239.8,568.9 243.8,570.5" stroke="#d62728"/>
<polyline points="58.4,558.6 59.8,554.5 61.1,549.4 63.4,537 65.1,537 65.8,556.7 66.4,567.1 66.8,568.6 70.1,566.9 71.8,566.4 73.1,566.4 75.4,567.1 76.4,567.1 77.4,566.3 79.4,562.8 80.1,562.5 80.8,562.9 82.4,565.3 83.1,565.8 84.1,565.6 86.1,564.3 87.1,564.3 88.1,565.1 90.1,567.9 91.4,569.3 93.4,570.2 96.1,570.7 99.4,570.7 103.1,570.1 106.8,570 111.4,569.3 113.4,569.4 116.1,570.1 117.4,570 118.4,569.6 119.4,569 123.4,564.6 124.1,564.1 124.8,563.9 125.4,564.1 126.1,564.5 130.1,569 131.1,569.8 132.1,570.2 138.4,570.9 143.4,570.4 149.8,570.8 151.8,570.3 156.8,568.3 160.8,565 164.8,563 167.4,559.8 168.4,559.3 169.1,559.7 169.8,560.6 173.1,567.3 174.1,568.5 175.1,569.1 175.8,569.2 176.8,568.8 179.1,566.5 180.1,566.1 181.1,566.7 183.8,569.5 184.8,570 187.4,570.7 188.8,570.8 198.1,570.6 201.1,570.2 203.8,570.9 204.8,570.9 207.8,570.2 211.4,569.8 212.4,569.4 213.4,568.6 216.4,565.2 217.4,564.7 219.4,564.5 220.4,563.9 221.4,562.8 224.4,558.6 226.8,556.6 228.8,554.6 229.8,554.2 230.4,554.6 231.1,555.9 233.8,563.3 234.8,565.3 235.8,566.7 237.8,568.5 240.1,569.8 241.8,570.4 243.8,570.5" stroke="#9467bd"/>
<polyline points="58.4,558.4 60.4,551.8 60.8,551.3 64.1,551.3 65.1,565.4 65.4,567.4 67.1,566.3 68.4,565.9 71.8,565.9 74.4,566.1 75.8,565.9 80.4,563.8 82.1,563.3 83.4,563.4 84.4,564 86.4,565.7 87.1,566 87.8,565.9 88.8,564.7 90.4,560.5 91.1,559.7 91.8,560.2 93.1,562.2 93.8,562.5 94.4,562.2 96.8,560.5 97.4,560.4 98.4,560.7 100.1,562.2 102.8,566 104.1,567.5 105.8,568.7 107.8,569.5 111.1,569.5 114.1,569.9 120.8,569.9 124.8,570.2 127.8,570 130.8,570.4 142.1,570 146.8,570.2 150.1,569.9 153.4,570.2 154.8,570.2 160.1,568.9 166.8,566.4 167.8,565.1 169.8,558.4 170.1,557.8 170.4,557.7 171.1,559.2 172.4,565 173.4,567.7 174.1,568.5 175.1,569.1 178.4,570 179.8,570.1 184.4,569.8 187.4,569.2 189.1,568 191.4,565.1 192.1,564.5 192.8,564.2 193.4,564.3 194.1,564.8 197.1,568.4 198.1,569 198.8,569.1 199.4,569 200.4,568.5 203.4,565.7 204.4,565 205.1,564.9 208.4,566.2 211.1,566.2 212.8,566.5 214.8,567.2 218.4,568.8 221.1,569.4 222.4,569.4 225.8,568.4 229.1,567.9 230.4,568.1 233.8,569 236.8,569.3 240.1,570 241.8,569.9 243.8,569.3" stroke="#8c564b"/>
<polyline points="58.4,559.2 59.8,555.2 61.4,549.1 63.4,549.1 64.1,562 64.8,569.2 69.8,569 71.1,568.6 73.1,567.5 74.1,567.3 77.4,567.9 79.1,567.7 81.1,566.8 85.1,564 87.4,563.2 89.1,562.9 90.4,563.2 91.8,563.9 95.8,567.4 97.8,568.7 99.4,569.1 106.8,569.7 110.1,569.5 113.4,569.6 116.4,568.9 119.1,567.6 122.4,564.5 123.4,563.9 124.1,563.8 124.8,564 125.8,564.6 129.4,568.2 130.4,568.7 131.4,569 136.8,569.6 142.8,569.1 146.8,569 150.4,569.5 158.1,569.4 160.8,569.6 163.8,569.3 166.4,569.3 167.4,569.1 168.4,568.3 170.8,563.4 171.4,562.6 171.8,562.5 172.1,562.7 172.8,563.6 174.1,566.5 175.1,568.2 176.1,569 177.4,569.3 179.1,568.7 180.4,567.6 181.4,566.1 183.8,561.3 184.4,560.7 184.8,560.7 185.1,560.8 185.8,561.6 188.1,566.4 189.4,568.2 190.4,568.9 191.4,569.3 194.4,569.7 198.1,569.1 202.4,569.3 204.4,568.9 206.4,567.6 210.4,563.4 211.4,562.8 212.1,562.6 212.8,562.6 213.8,563 217.4,565.8 219.1,566.3 221.4,565.9 224.8,564.3 226.1,564 227.8,564.3 230.8,565.7 231.8,565.7 232.8,564.9 234.8,561.7 235.4,561.1 235.8,561.1 236.4,561.4 238.4,563.9 239.1,564.1 239.8,563.7 240.4,562.6 243.8,554.6" stroke="#e377c2"/>
<polyline points="58.4,557.7 60.1,552.2 61.8,544.8 63.8,544.7 64.1,544.8 65.1,561.3 65.8,566.8 66.1,568.2 71.4,566.9 75.1,564.8 76.1,564.3 77.1,564.2 80.4,564.3 84.1,563.4 85.1,563.6 85.8,564 88.8,567.2 89.8,568 90.4,568.2 91.4,568.2 92.4,567.8 95.4,565.2 96.4,564.8 97.4,565.1 99.8,567.1 101.1,567.6 103.8,567.4 107.4,566.6 110.8,566.6 111.8,566.2 112.4,565.5 114.4,561.6 115.1,560.7 115.4,560.5 115.8,560.6 116.4,561.4 118.8,566.6 119.4,567.3 120.1,567.6 121.1,567.5 122.4,566.9 123.8,566 127.1,563 128.1,562.5 129.1,562.3 130.1,562.6 131.1,563.3 135.1,567.5 136.4,568.2 138.1,568.7 139.8,568.8 142.8,568.6 146.8,568.6 151.4,569 155.1,568.8 160.1,568.2 164.1,568.3 165.4,568 166.4,567.5 169.8,564.7 171.4,562.4 173.8,557.9 174.8,556.9 175.4,557.1 176.1,558 178.4,563.7 179.8,566.2 181.1,567.6 182.1,568 183.1,567.8 183.8,567.4 187.1,563.4 188.4,562.7 189.4,562.8 192.4,564.1 195.8,564.4 201.4,566.1 202.4,566.1 203.1,565.8 203.8,565 206.4,559.6 207.1,558.7 207.8,558.3 208.8,558.7 210.8,561.1 212.1,562.3 215.4,564.1 218.4,566.4 219.4,566.8 221.8,567.3 223.4,567 224.8,566.2 227.1,563.8 228.4,563.1 229.1,563.3 229.8,563.7 232.4,566.6 233.4,567.3 234.8,567.8 237.1,568 238.1,567.8 239.1,566.8 240.1,564.9 241.8,560.7 242.4,559.6 243.1,559.4 243.8,560" stroke="#7f7f7f"/>
<polyline points="58.4,557.4 60.4,550.4 62.4,540.4 64.1,540.4 64.8,562.9 65.1,568.1 70.4,567.8 72.8,567.1 74.1,566.4 75.1,565.5 78.1,561 79.1,560.1 80.1,559.9 82.4,561.3 83.4,561.4 84.4,560.9 86.8,558.5 87.8,558.2 88.8,558.6 90.8,560.1 91.8,560.6 96.4,561.1 100.4,562.4 101.4,562.4 104.4,561.8 108.8,561.6 109.8,561.7 111.1,562.5 114.1,565.3 114.8,565.7 115.8,566 117.1,565.8 120.1,564.7 121.1,564.6 122.4,565 126.8,566.8 129.4,567.4 130.4,567.4 131.1,566.6 131.4,565.9 132.8,560.7 133.1,559.8 133.4,559.5 133.8,559.9 134.1,560.9 135.4,566.1 136.1,567.2 136.8,567.5 143.4,567.5 148.4,568.1 150.8,568.1 154.8,567.6 158.4,566.2 159.8,566 161.1,566.3 164.8,567.7 169.4,567.8 170.8,567.6 173.4,566.6 176.4,566.2 178.4,565.3 181.4,563.3 186.4,558.3 187.8,557.5 188.8,557.2 189.8,557.4 191.1,558.3 195.4,563.6 199.4,567 200.4,567.5 201.4,567.7 206.1,567.8 208.1,567.2 209.8,566 211.1,564.5 214.1,560.3 215.8,559 216.8,558.8 217.8,559.3 220.1,562.2 220.4,562.4 220.8,562.3 221.1,561.9 221.8,560.2 223.1,555.2 223.4,554.5 223.8,554.3 224.1,554.6 224.4,555.5 226.4,564.2 227.1,565.8 227.8,566.5 228.4,566.6 229.4,566.3 233.1,563.5 234.4,563.1 235.8,563.5 239.4,566 243.8,567.7" stroke="#bcbd22"/>
<polyline points="43.8,573 46.1,572.2 48.1,571.3 49.8,570.2 51.4,568.8 53.1,566.8 54.4,564.9 56.8,560.1 59.1,553 61.1,544.2 62.8,534.1 63.4,525.7 63.8,523.8 64.1,538.7 64.8,556.7 65.4,565.7 66.1,569.8 72.4,569.8 74.8,569.2 76.1,568.6 77.1,567.8 79.1,564.8 79.8,564.4 80.4,564.9 82.1,567.2 82.8,567.5 83.4,567.5 84.8,566.5 87.4,563.4 88.8,562.7 90.1,562.7 92.4,564 93.4,564.2 94.1,563.9 95.8,562.6 96.8,562.3 97.4,562.5 99.4,564.2 100.4,564.7 102.8,565.3 104.8,565.4 106.1,565 108.8,563.2 110.1,562.6 115.4,561.5 118.8,560.1 120.1,560 121.8,560.5 126.8,564 127.8,564.6 128.8,564.9 129.4,564.8 130.1,564.5 133.1,560.7 133.8,560.2 134.4,560.2 135.1,560.7 135.8,561.6 138.8,567.4 139.4,568.3 140.4,569.2 141.4,569.6 143.4,570 149.1,569.9 151.1,569.2 152.8,568.3 154.4,567 155.4,565.8 157.1,562.5 160.1,553.2 160.8,552 161.4,551.8 161.8,552 162.4,553 165.1,560.3 166.8,563.4 170.1,567.1 171.4,568 172.4,568.5 173.1,568.5 173.8,568.3 174.4,567.4 175.1,565.4 176.4,559.9 176.8,559.1 177.1,558.8 177.4,559 177.8,559.6 178.8,562.2 179.4,563.3 181.4,565.1 184.1,568.7 185.1,569.4 186.1,569.7 195.8,570 197.1,569.8 198.4,568.6 200.8,565.1 201.8,563.9 202.8,563.5 204.8,564.6 205.4,564.5 206.4,563.5 208.1,560.7 208.8,560.2 209.1,560.3 209.8,561 212.4,566.8 213.1,567.7 214.1,568.2 215.1,568.2 217.8,567.4 221.8,567 225.4,566.2 226.8,566.2 230.1,566.8 233.8,568.6 235.1,569 240.8,569.7 243.8,570.3" stroke="#17becf"/>
</g>
<rect x="306.5" y="500.75" width="221.2" height="76.25" fill="#fff"/>
<path d="M306.5 538.3H317.5" stroke="#1f1fff" stroke-width="0.8" stroke-dasharray="2.4 1.2" fill="none"/>
<path d="M517 538.3H527.7" stroke="#1f1fff" stroke-width="0.8" stroke-dasharray="2.4 1.2" fill="none"/>
<path d="M317.25 538.3H517.25" stroke="#35b5c4" stroke-width="1"/>
<rect x="33.25" y="584.5" width="220.75" height="76" fill="#fff"/>
<g clip-path="url(#cb3)" fill="none">
<path d="M33.25 622.8H254" stroke="#ee2222" stroke-width="0.8" stroke-dasharray="2.4 1.2" fill="none"/>
<path d="M33.25 657.5H254" stroke="#2ca02c" stroke-width="0.9" stroke-dasharray="2.4 1.2" fill="none"/>
<polyline points="43.75,622.8 43.95,588.1 45.15,588.1 45.35,657.5 45.75,657.5 46.15,588.1 50.75,588.1 50.95,657.5 51.35,588.1 51.55,657.5 51.95,588.1 55.55,588.1 55.55,588.1 55.65,657.5 55.85,657.5 55.95,588.1 56.1,588.1 56.2,657.5 56.4,657.5 56.5,588.1 56.65,588.1 56.75,657.5 56.95,657.5 57.05,588.1 57.2,588.1 57.3,657.5 57.5,657.5 57.6,588.1 57.75,588.1 57.85,657.5 58.05,657.5 58.15,588.1 58.3,588.1 58.4,657.5 58.6,657.5 58.7,588.1 58.85,588.1 58.95,657.5 59.15,657.5 59.25,588.1 64.25,588.1 64.45,657.5 64.65,622.8 67.95,622.8 68.05,657.5 68.25,588.1 70.55,588.1 70.75,657.5 71.15,622.8 72.75,622.8 73.25,588.1 87.95,588.1 88.15,648.83 88.35,588.1 94.55,588.1 94.75,622.8 95.15,622.8 95.35,657.5 95.75,657.5 96.75,588.1 109.75,588.1 110.05,657.5 110.75,657.5 111.55,588.1 114.55,588.1 114.75,657.5 115.05,588.1 115.35,657.5 115.75,588.1 115.95,657.5 116.55,657.5 116.75,622.8 122.55,622.8 122.95,588.1 134.75,588.1 135.15,622.8 151.75,622.8 155.25,589.84 156.25,588.1 189.25,588.1 191.75,590.53 192.15,622.8 207.75,622.8 208.15,588.1 229.75,588.1 230.15,622.8 238.75,622.8 239.25,589.84 243.75,589.14" stroke="#ff0000" stroke-width="0.75" stroke-linejoin="miter"/>
</g>
<rect x="306.5" y="584.5" width="221.2" height="76" fill="#fff"/>
<path d="M306.5 622H317.5" stroke="#ee2222" stroke-width="0.8" stroke-dasharray="2.4 1.2" fill="none"/>
<path d="M517 622H527.7" stroke="#ee2222" stroke-width="0.8" stroke-dasharray="2.4 1.2" fill="none"/>
<path d="M317.25 622H517.25" stroke="#ff8f8f" stroke-width="1"/>
<path d="M306.5 656.5H527.7" stroke="#5cb85c" stroke-width="0.9" stroke-dasharray="2.4 1.2" fill="none"/>
<rect x="33.25" y="333.25" width="220.75" height="76" fill="none" stroke="#7a7a7a" stroke-width="0.85"/>
<path d="M43.75 409.25v2.2M93.75 409.25v2.2M143.75 409.25v2.2M193.75 409.25v2.2M243.75 409.25v2.2M33.25 336.75h-2.2M33.25 361.25h-2.2M33.25 393h-2.2M33.25 406.75h-2.2" stroke="#4d4d4d" stroke-width="0.6" fill="none"/>
<rect x="306.5" y="333.25" width="221.2" height="76" fill="none" stroke="#a6a6a6" stroke-width="0.95"/>
<path d="M317.25 409.25v2.2M367.25 409.25v2.2M417.25 409.25v2.2M467.25 409.25v2.2M517.25 409.25v2.2M306.5 335h-2.2M306.5 360h-2.2M306.5 392.5h-2.2M306.5 406.75h-2.2" stroke="#4d4d4d" stroke-width="0.6" fill="none"/>
<rect x="33.25" y="417" width="220.75" height="76.25" fill="none" stroke="#7a7a7a" stroke-width="0.85"/>
<path d="M43.75 493.25v2.2M93.75 493.25v2.2M143.75 493.25v2.2M193.75 493.25v2.2M243.75 493.25v2.2M33.25 432.5h-2.2M33.25 455h-2.2M33.25 477.5h-2.2" stroke="#4d4d4d" stroke-width="0.6" fill="none"/>
<rect x="306.5" y="417" width="221.2" height="76.25" fill="none" stroke="#a6a6a6" stroke-width="0.95"/>
<path d="M317.25 493.25v2.2M367.25 493.25v2.2M417.25 493.25v2.2M467.25 493.25v2.2M517.25 493.25v2.2M306.5 425.5h-2.2M306.5 454.25h-2.2M306.5 482.5h-2.2" stroke="#4d4d4d" stroke-width="0.6" fill="none"/>
<rect x="33.25" y="500.75" width="220.75" height="76.25" fill="none" stroke="#7a7a7a" stroke-width="0.85"/>
<path d="M43.75 577v2.2M93.75 577v2.2M143.75 577v2.2M193.75 577v2.2M243.75 577v2.2M33.25 513h-2.2M33.25 543.75h-2.2M33.25 574.5h-2.2" stroke="#4d4d4d" stroke-width="0.6" fill="none"/>
<rect x="306.5" y="500.75" width="221.2" height="76.25" fill="none" stroke="#a6a6a6" stroke-width="0.95"/>
<path d="M317.25 577v2.2M367.25 577v2.2M417.25 577v2.2M467.25 577v2.2M517.25 577v2.2M306.5 515.5h-2.2M306.5 538.3h-2.2M306.5 561.25h-2.2" stroke="#4d4d4d" stroke-width="0.6" fill="none"/>
<rect x="33.25" y="584.5" width="220.75" height="76" fill="none" stroke="#7a7a7a" stroke-width="0.85"/>
<path d="M43.75 660.5v2.2M93.75 660.5v2.2M143.75 660.5v2.2M193.75 660.5v2.2M243.75 660.5v2.2M33.25 588h-2.2M33.25 622.6h-2.2M33.25 657.5h-2.2" stroke="#4d4d4d" stroke-width="0.6" fill="none"/>
<rect x="306.5" y="584.5" width="221.2" height="76" fill="none" stroke="#c2c2c2" stroke-width="1.5"/>
<path d="M317.25 660.5v2.2M367.25 660.5v2.2M417.25 660.5v2.2M467.25 660.5v2.2M517.25 660.5v2.2M306.5 587.5h-2.2M306.5 622h-2.2M306.5 656.5h-2.2" stroke="#4d4d4d" stroke-width="0.6" fill="none"/>
<g font-family='"Liberation Sans", Arial, sans-serif' font-size="12.6" fill="#000">
<text x="226.5" y="352">(b1)</text>
<text x="226.5" y="427.6">(b2)</text>
<text x="226.5" y="529">(b3)</text>
<text x="226.5" y="654">(b4)</text>
<text x="500.5" y="352.5">(c1)</text>
<text x="500.5" y="469.6">(c2)</text>
<text x="500.5" y="528.6">(c3)</text>
<text x="500.5" y="654">(c4)</text>
</g>
</svg>
</body></html>
